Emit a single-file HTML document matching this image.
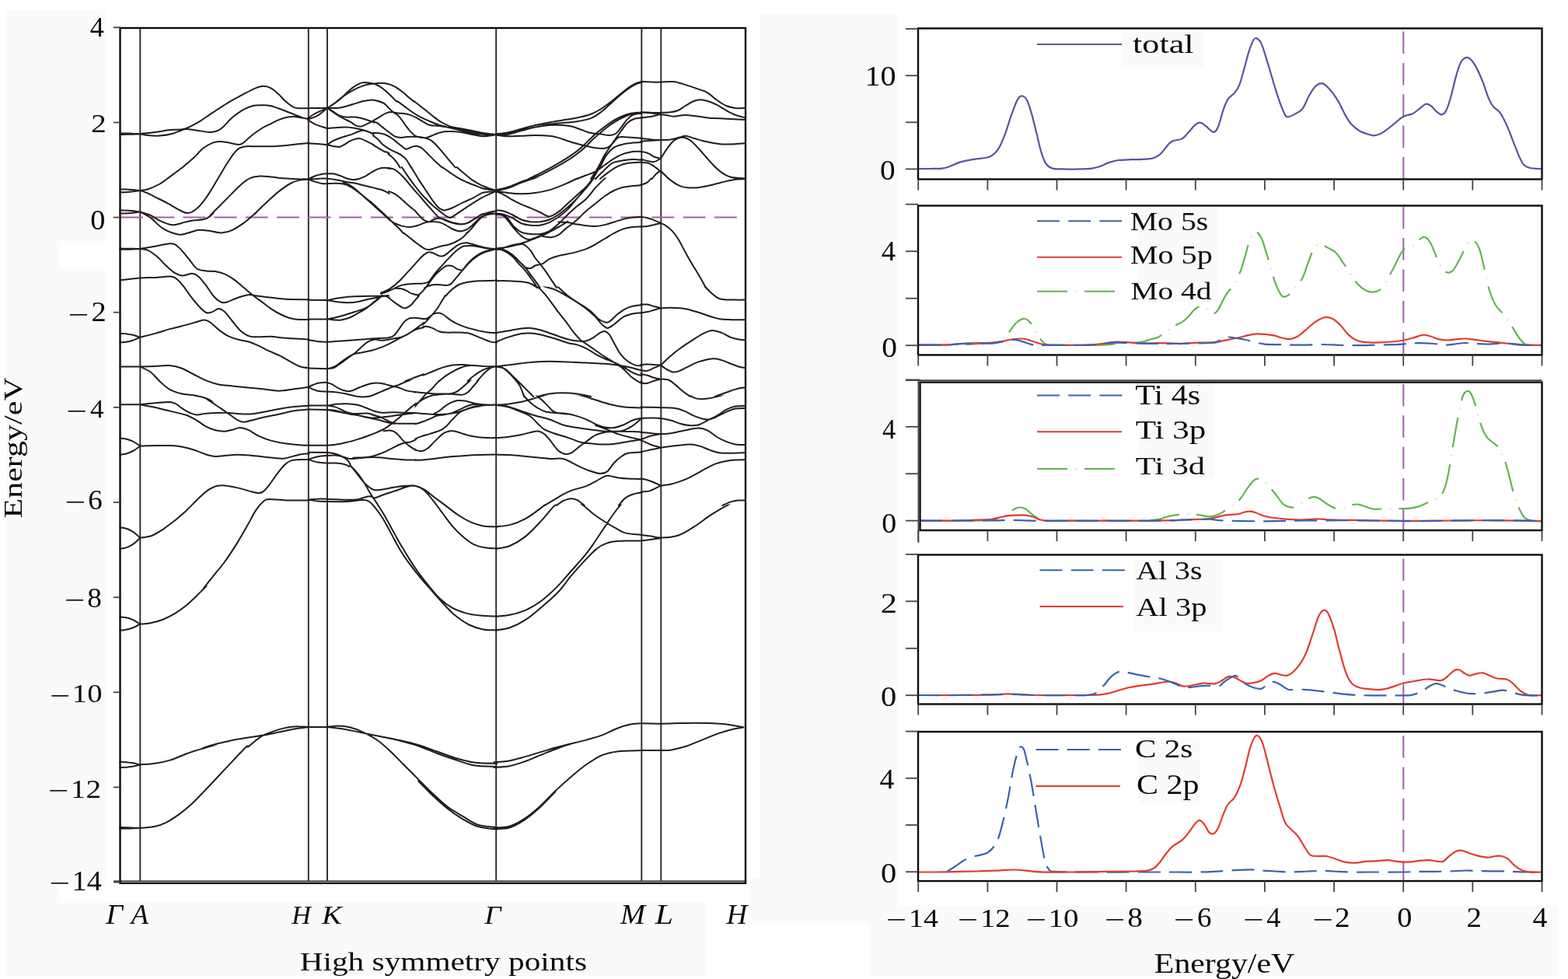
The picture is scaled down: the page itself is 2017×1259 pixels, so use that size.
<!DOCTYPE html>
<html><head><meta charset="utf-8"><style>
html,body{margin:0;padding:0;background:#ffffff;width:2017px;height:1259px;overflow:hidden;}
svg{display:block;}
.t{font-family:'Liberation Serif', 'DejaVu Serif', serif;font-size:34px;fill:#0d0a0a;}
.it{font-style:italic;}
</style></head><body>
<svg width="2017" height="1259" viewBox="0 0 2017 1259">
<rect x="0" y="0" width="2017" height="1259" fill="#ffffff"/>
<g fill="#fcf9fa">
<rect x="9" y="12" width="126" height="1243"/>
<rect x="9" y="1160" width="898" height="95"/>
<rect x="977" y="18" width="177" height="1147"/>
<rect x="966" y="1130" width="188" height="58"/>
<rect x="1120" y="1164.5" width="885" height="91"/>
<rect x="1443" y="41" width="106" height="46"/>
<rect x="1463" y="268" width="104" height="121"/>
<rect x="1465" y="492" width="96" height="123"/>
<rect x="1460" y="720" width="111" height="92"/>
<rect x="1465" y="948" width="78" height="85"/>
</g>
<g fill="#ffffff">
<rect x="76" y="310" width="59" height="36"/>
<rect x="76" y="1140" width="59" height="21"/>
</g>
<line x1="180.3" y1="36.0" x2="180.3" y2="1133" stroke="#2e2626" stroke-width="1.9"/>
<line x1="396.8" y1="36.0" x2="396.8" y2="1133" stroke="#2e2626" stroke-width="1.9"/>
<line x1="421.0" y1="36.0" x2="421.0" y2="1133" stroke="#2e2626" stroke-width="1.9"/>
<line x1="638.2" y1="36.0" x2="638.2" y2="1133" stroke="#2e2626" stroke-width="1.9"/>
<line x1="825.3" y1="36.0" x2="825.3" y2="1133" stroke="#2e2626" stroke-width="1.9"/>
<line x1="850.3" y1="36.0" x2="850.3" y2="1133" stroke="#2e2626" stroke-width="1.9"/>
<line x1="155" y1="279.6" x2="959.0" y2="279.6" stroke="#a45cb0" stroke-width="2" stroke-dasharray="29 11.2"/>
<defs><clipPath id="c0"><rect x="148.5" y="18.5" width="250.0" height="249.0"/><rect x="198.5" y="264.5" width="200.0" height="12.0"/></clipPath><clipPath id="c1"><rect x="148.5" y="264.5" width="53.0" height="252.0"/><rect x="198.5" y="273.5" width="200.0" height="243.0"/></clipPath><clipPath id="c2"><rect x="148.5" y="513.5" width="250.0" height="243.0"/></clipPath><clipPath id="c3"><rect x="148.5" y="753.5" width="250.0" height="208.0"/></clipPath><clipPath id="c4"><rect x="148.5" y="958.5" width="250.0" height="183.0"/></clipPath><clipPath id="c5"><rect x="388.5" y="18.5" width="148.0" height="113.0"/><rect x="388.5" y="128.5" width="93.0" height="68.0"/></clipPath><clipPath id="c6"><rect x="388.5" y="193.5" width="113.0" height="108.0"/></clipPath><clipPath id="c7"><rect x="533.5" y="18.5" width="106.5" height="113.0"/><rect x="478.5" y="128.5" width="161.5" height="68.0"/><rect x="498.5" y="193.5" width="141.5" height="23.0"/></clipPath><clipPath id="c8"><rect x="498.5" y="213.5" width="141.5" height="88.0"/></clipPath><clipPath id="c9"><rect x="395.5" y="298.5" width="244.5" height="83.0"/></clipPath><clipPath id="c10"><rect x="395.5" y="378.5" width="151.0" height="113.0"/></clipPath><clipPath id="c11"><rect x="543.5" y="378.5" width="96.5" height="113.0"/></clipPath><clipPath id="c12"><rect x="395.5" y="488.5" width="141.0" height="113.0"/></clipPath><clipPath id="c13"><rect x="533.5" y="488.5" width="106.5" height="113.0"/></clipPath><clipPath id="c14"><rect x="395.5" y="598.5" width="244.5" height="248.0"/></clipPath><clipPath id="c15"><rect x="395.5" y="843.5" width="244.5" height="298.0"/></clipPath><clipPath id="c16"><rect x="634.5" y="28.5" width="192.0" height="203.0"/></clipPath><clipPath id="c17"><rect x="823.5" y="28.5" width="136.0" height="203.0"/></clipPath><clipPath id="c18"><rect x="634.5" y="228.5" width="192.0" height="143.0"/></clipPath><clipPath id="c19"><rect x="823.5" y="228.5" width="136.0" height="143.0"/></clipPath><clipPath id="c20"><rect x="634.5" y="368.5" width="192.0" height="143.0"/></clipPath><clipPath id="c21"><rect x="823.5" y="368.5" width="136.0" height="143.0"/></clipPath><clipPath id="c22"><rect x="634.5" y="508.5" width="192.0" height="143.0"/></clipPath><clipPath id="c23"><rect x="823.5" y="508.5" width="136.0" height="143.0"/></clipPath><clipPath id="c24"><rect x="634.5" y="648.5" width="325.0" height="253.0"/></clipPath><clipPath id="c25"><rect x="634.5" y="898.5" width="325.0" height="243.0"/></clipPath></defs>
<g fill="none" stroke="#231c1c" stroke-width="2" stroke-linecap="round">
<path clip-path="url(#c0)" d="M154.4,171.4C155.2,171.4 157.8,171.4 159.5,171.4C161.3,171.4 163.0,171.5 164.7,171.5C166.4,171.6 168.1,171.6 169.9,171.7C171.6,171.7 173.3,171.8 175.0,171.9C176.7,172.0 179.3,172.1 180.2,172.2M154.4,173.0C155.2,173.0 157.8,173.0 159.5,172.9C161.3,172.9 163.0,172.9 164.7,172.8C166.4,172.8 168.1,172.7 169.9,172.7C171.6,172.6 173.3,172.5 175.0,172.5C176.7,172.4 179.3,172.2 180.2,172.2M154.4,243.5C155.2,243.5 157.8,243.5 159.5,243.5C161.3,243.6 163.0,243.6 164.7,243.7C166.4,243.8 168.1,243.9 169.9,244.0C171.6,244.1 173.3,244.2 175.0,244.4C176.7,244.5 179.3,244.8 180.2,244.9M154.4,247.4C155.2,247.4 157.8,247.4 159.5,247.3C161.3,247.3 163.0,247.2 164.7,247.0C166.4,246.9 168.1,246.7 169.9,246.5C171.6,246.3 173.3,246.1 175.0,245.8C176.7,245.5 179.3,245.0 180.2,244.9M180.2,172.2C183.4,171.8 193.1,170.9 199.6,170.0C206.2,169.1 213.2,167.7 219.5,167.0C225.8,166.3 231.4,167.5 237.4,165.8C243.3,164.2 249.3,160.5 255.2,157.1C261.2,153.6 266.8,149.3 273.1,145.2C279.4,141.0 286.4,136.2 293.0,132.3C299.6,128.3 306.9,124.5 312.8,121.3C318.8,118.2 324.4,115.2 328.7,113.4C333.0,111.6 335.3,110.8 338.6,110.8C342.0,110.8 345.3,111.6 348.6,113.4C351.9,115.2 355.2,118.4 358.5,121.3C361.8,124.3 365.1,128.5 368.4,131.3C371.7,134.1 375.4,136.9 378.4,138.2C381.3,139.5 382.7,139.0 386.3,139.2C389.9,139.4 397.7,139.2 400.0,139.2M180.2,172.2C181.8,172.5 185.5,173.6 189.7,174.0C194.0,174.4 200.3,174.9 205.6,174.6C210.9,174.2 216.2,173.4 221.5,172.0C226.8,170.6 233.4,167.1 237.4,166.2C241.3,165.3 242.3,166.3 245.3,166.6C248.3,166.9 251.3,167.4 255.2,168.0C259.2,168.6 265.5,169.8 269.1,170.0C272.8,170.2 274.4,169.8 277.1,169.0C279.7,168.2 281.4,168.0 285.0,165.0C288.7,162.0 294.3,155.1 298.9,151.1C303.6,147.2 308.5,143.7 312.8,141.2C317.1,138.7 320.8,137.2 324.7,136.2C328.7,135.2 332.7,135.2 336.7,135.2C340.6,135.2 343.3,134.9 348.6,136.2C353.9,137.6 361.8,140.7 368.4,143.2C375.0,145.7 383.6,149.5 388.3,151.1C393.0,152.8 394.9,152.6 396.8,153.1C398.8,153.6 399.5,153.9 400.0,154.1M180.2,244.9C181.8,244.6 185.5,244.9 189.7,243.5C194.0,242.1 200.6,239.3 205.6,236.5C210.6,233.7 214.5,230.2 219.5,226.6C224.5,222.9 230.4,218.6 235.4,214.7C240.3,210.7 245.0,206.7 249.3,202.8C253.6,198.8 257.2,194.0 261.2,190.8C265.2,187.7 269.5,185.4 273.1,183.9C276.8,182.4 279.7,182.0 283.0,181.9C286.4,181.8 289.0,182.6 293.0,183.3C296.9,184.0 303.6,185.8 306.9,185.9C310.2,186.0 310.2,185.7 312.8,183.9C315.5,182.1 318.8,178.1 322.8,175.0C326.7,171.8 332.4,167.7 336.7,165.0C341.0,162.4 344.9,160.9 348.6,159.1C352.2,157.3 354.9,155.5 358.5,154.1C362.1,152.7 367.1,151.2 370.4,150.5C373.7,149.9 375.4,150.0 378.4,150.1C381.3,150.3 385.2,151.0 388.3,151.5C391.4,152.0 395.4,152.8 396.8,153.1M180.2,244.9C181.8,245.4 186.1,246.8 189.7,248.4C193.3,250.0 197.3,252.2 201.6,254.4C205.9,256.5 210.9,258.9 215.5,261.3C220.2,263.8 225.5,267.2 229.4,269.3C233.4,271.4 236.4,273.3 239.4,273.8C242.3,274.3 244.3,273.8 247.3,272.3C250.3,270.7 253.6,268.3 257.2,264.3C260.9,260.3 265.2,254.4 269.1,248.4C273.1,242.5 277.1,235.2 281.1,228.6C285.0,222.0 289.0,214.7 293.0,208.7C296.9,202.8 301.2,196.2 304.9,192.8C308.5,189.5 310.8,189.2 314.8,188.5C318.8,187.7 323.1,188.3 328.7,188.3C334.3,188.2 342.0,188.5 348.6,188.3C355.2,188.0 360.4,187.6 368.4,186.9C376.5,186.1 391.6,184.4 396.8,183.9C402.1,183.4 399.5,183.9 400.0,183.9M267.2,280.0C269.1,278.0 274.8,272.6 279.1,268.3C283.4,264.0 288.0,259.3 293.0,254.4C297.9,249.4 304.2,242.6 308.9,238.5C313.5,234.4 316.5,231.5 320.8,229.6C325.1,227.6 330.0,226.9 334.7,226.6C339.3,226.3 342.9,227.1 348.6,227.6C354.2,228.1 361.8,229.1 368.4,229.6C375.0,230.1 383.0,230.4 388.3,230.6C393.5,230.7 398.0,230.6 400.0,230.6M322.8,280.0C325.4,277.4 332.7,269.9 338.6,264.3C344.6,258.7 352.5,251.2 358.5,246.4C364.5,241.6 369.8,238.0 374.4,235.5C379.0,233.0 382.6,232.4 386.3,231.5C390.0,230.7 395.1,230.7 396.8,230.6"/>
<path clip-path="url(#c1)" d="M154.4,270.4C155.2,270.4 157.8,270.4 159.5,270.5C161.3,270.5 163.0,270.6 164.7,270.7C166.4,270.8 168.1,271.0 169.9,271.1C171.6,271.3 173.3,271.5 175.0,271.7C176.7,271.9 179.3,272.3 180.2,272.4M154.4,274.6C155.2,274.6 157.8,274.5 159.5,274.5C161.3,274.4 163.0,274.3 164.7,274.2C166.4,274.1 168.1,274.0 169.9,273.8C171.6,273.6 173.3,273.4 175.0,273.2C176.7,272.9 179.3,272.5 180.2,272.4M180.2,272.4C182.4,273.1 189.4,275.0 193.7,276.9C197.9,278.9 201.0,281.8 205.6,283.9C210.2,286.0 216.9,288.8 221.5,289.3C226.1,289.8 229.4,287.8 233.4,286.9C237.4,286.0 240.7,284.7 245.3,283.9C249.9,283.1 257.2,283.1 261.2,282.3C265.2,281.5 266.5,280.8 269.1,278.9C271.8,277.0 275.6,272.5 277.1,271.0C278.6,269.5 277.9,270.2 278.1,270.0M180.2,272.4C182.4,273.6 188.8,276.4 193.7,279.9C198.6,283.5 203.6,290.3 209.6,293.8C215.5,297.4 224.1,300.4 229.4,301.4C234.7,302.4 237.0,300.7 241.3,299.8C245.6,298.9 250.6,296.3 255.2,295.8C259.9,295.3 264.2,296.2 269.1,296.8C274.1,297.4 280.1,299.6 285.0,299.4C290.0,299.2 294.0,298.1 298.9,295.8C303.9,293.6 309.8,289.5 314.8,285.9C319.8,282.2 325.4,276.6 328.7,274.0C332.0,271.3 333.7,270.7 334.7,270.0M154.4,319.6C155.2,319.6 157.8,319.6 159.5,319.7C161.3,319.7 163.0,319.7 164.7,319.7C166.4,319.7 168.1,319.8 169.9,319.8C171.6,319.8 173.3,319.9 175.0,319.9C176.7,319.9 179.3,320.0 180.2,320.0M154.4,320.8C155.2,320.8 157.8,320.8 159.5,320.8C161.3,320.8 163.0,320.7 164.7,320.7C166.4,320.7 168.1,320.6 169.9,320.5C171.6,320.5 173.3,320.4 175.0,320.3C176.7,320.2 179.3,320.1 180.2,320.0M180.2,320.0C183.4,319.5 193.3,317.8 199.6,316.7C206.0,315.5 214.2,313.6 218.5,313.3C222.8,313.0 223.0,313.3 225.5,314.7C227.9,316.1 230.4,318.5 233.4,321.6C236.4,324.8 240.0,329.6 243.3,333.5C246.6,337.5 249.6,343.0 253.3,345.5C256.9,347.9 261.2,347.8 265.2,348.4C269.1,349.0 273.1,348.4 277.1,349.0C281.1,349.7 285.0,350.7 289.0,352.4C293.0,354.1 296.9,356.5 300.9,359.4C304.9,362.2 308.9,366.0 312.8,369.3C316.8,372.6 320.8,376.1 324.7,379.2C328.7,382.4 332.7,385.2 336.7,388.1C340.6,391.1 344.6,394.4 348.6,397.1C352.5,399.7 356.5,402.0 360.5,404.0C364.5,406.0 368.4,407.8 372.4,409.0C376.4,410.2 379.7,410.7 384.3,411.0C388.9,411.3 397.4,411.0 400.0,411.0M180.2,320.0C181.8,320.3 186.1,320.0 189.7,321.6C193.3,323.2 197.7,326.3 201.6,329.6C205.6,332.9 209.6,337.8 213.5,341.5C217.5,345.1 221.8,349.3 225.5,351.4C229.1,353.6 231.7,354.3 235.4,354.4C239.0,354.5 244.0,351.6 247.3,351.8C250.6,352.0 252.3,352.8 255.2,355.4C258.2,358.0 261.9,363.0 265.2,367.3C268.5,371.6 271.8,377.6 275.1,381.2C278.4,384.8 282.0,387.6 285.0,388.7C288.0,389.9 289.7,389.1 293.0,388.1C296.3,387.2 300.6,384.7 304.9,383.2C309.2,381.7 314.8,379.7 318.8,379.2C322.8,378.7 324.4,379.7 328.7,380.2C333.0,380.7 338.0,381.4 344.6,382.2C351.2,383.0 359.2,384.3 368.4,384.8C377.7,385.3 394.7,385.1 400.0,385.2M154.4,360.3C158.7,359.9 172.6,357.9 180.2,357.4C187.7,356.8 193.4,357.3 199.6,357.0C205.9,356.6 213.2,355.3 217.5,355.4C221.8,355.5 222.5,355.4 225.5,357.4C228.4,359.4 232.1,363.3 235.4,367.3C238.7,371.3 242.0,376.9 245.3,381.2C248.6,385.5 251.9,389.6 255.2,393.1C258.6,396.6 262.2,400.7 265.2,402.0C268.1,403.4 270.5,401.9 273.1,401.1C275.8,400.2 278.4,397.1 281.1,397.1C283.7,397.1 286.0,398.4 289.0,401.1C292.0,403.7 295.6,409.0 298.9,413.0C302.2,416.9 305.2,421.6 308.9,424.9C312.5,428.1 316.8,431.0 320.8,432.4C324.7,433.8 328.1,433.2 332.7,433.2C337.3,433.3 342.6,432.6 348.6,432.8C354.5,433.1 359.9,434.2 368.4,434.8C377.0,435.5 394.7,436.5 400.0,436.8M154.4,428.9C155.2,428.9 157.8,428.9 159.5,429.1C161.3,429.2 163.0,429.4 164.7,429.7C166.4,429.9 168.1,430.2 169.9,430.6C171.6,431.0 173.3,431.5 175.0,432.0C176.7,432.6 179.3,433.5 180.2,433.8M154.4,440.4C155.2,440.3 157.8,440.3 159.5,440.1C161.3,439.9 163.0,439.7 164.7,439.3C166.4,439.0 168.1,438.5 169.9,438.0C171.6,437.5 173.3,436.9 175.0,436.2C176.7,435.5 179.3,434.2 180.2,433.8M180.2,433.8C183.4,433.0 193.1,430.7 199.6,428.9C206.2,427.0 212.9,424.7 219.5,422.9C226.1,421.1 233.7,419.4 239.4,417.9C245.0,416.4 249.3,415.1 253.3,414.0C257.2,412.9 260.2,411.2 263.2,411.4C266.2,411.5 268.1,412.9 271.1,415.0C274.1,417.0 277.4,421.1 281.1,423.9C284.7,426.7 288.7,429.7 293.0,431.8C297.3,434.0 302.2,435.5 306.9,436.8C311.5,438.1 316.5,438.5 320.8,439.8C325.1,441.1 328.4,442.8 332.7,444.7C337.0,446.7 342.0,449.5 346.6,451.7C351.2,453.8 355.9,455.3 360.5,457.6C365.1,460.0 370.1,463.3 374.4,465.6C378.7,467.9 382.0,470.2 386.3,471.5C390.6,472.9 397.7,473.2 400.0,473.5M154.4,471.5C155.2,471.5 157.8,471.5 159.5,471.5C161.3,471.5 163.0,471.5 164.7,471.5C166.4,471.5 168.1,471.5 169.9,471.5C171.6,471.5 173.3,471.5 175.0,471.5C176.7,471.5 179.3,471.5 180.2,471.5M180.2,471.5C183.4,471.4 193.1,471.2 199.6,471.0C206.2,470.7 213.9,469.7 219.5,470.2C225.1,470.6 228.4,471.6 233.4,473.5C238.4,475.4 244.0,478.8 249.3,481.5C254.6,484.1 259.9,487.3 265.2,489.4C270.5,491.6 275.4,493.2 281.1,494.4C286.7,495.5 292.6,495.7 298.9,496.4C305.2,497.0 312.2,497.7 318.8,498.4C325.4,499.0 332.0,499.6 338.6,500.3C345.3,501.1 351.9,502.7 358.5,502.7C365.1,502.7 371.4,501.2 378.4,500.3C385.3,499.4 396.4,497.9 400.0,497.4M180.2,471.5C182.4,472.7 189.4,475.4 193.7,478.5C197.9,481.6 201.6,486.8 205.6,490.4C209.6,494.1 212.9,497.7 217.5,500.3C222.1,503.0 228.1,505.0 233.4,506.3C238.7,507.6 244.0,507.3 249.3,508.3C254.6,509.3 260.2,510.3 265.2,512.3C270.1,514.2 276.8,518.7 279.1,520.0M154.4,519.8C158.7,519.8 172.6,520.1 180.2,519.8C187.7,519.5 193.4,518.6 199.6,518.2C205.9,517.8 213.2,516.9 217.5,517.2C221.8,517.5 224.1,519.5 225.5,520.0"/>
<path clip-path="url(#c2)" d="M154.4,520.3C155.2,520.3 157.8,520.3 159.5,520.3C161.3,520.3 163.0,520.3 164.7,520.3C166.4,520.3 168.1,520.3 169.9,520.3C171.6,520.3 173.3,520.3 175.0,520.3C176.7,520.3 179.3,520.3 180.2,520.3M180.2,520.3C183.4,520.0 193.4,518.9 199.6,518.3C205.9,517.8 213.2,516.9 217.5,516.9C221.8,517.0 222.5,517.4 225.5,518.9C228.4,520.4 232.1,523.8 235.4,525.9C238.7,528.0 242.3,530.2 245.3,531.4C248.3,532.7 249.9,533.4 253.3,533.4C256.6,533.5 259.2,532.3 265.2,531.8C271.1,531.4 281.7,530.8 289.0,530.8C296.3,530.9 302.9,532.0 308.9,532.2C314.8,532.5 319.8,532.6 324.7,532.2C329.7,531.8 333.0,530.9 338.6,529.9C344.3,528.8 351.9,527.0 358.5,525.9C365.1,524.7 371.4,523.6 378.4,522.9C385.3,522.2 396.4,521.7 400.0,521.5M180.2,520.3C183.4,520.9 193.1,522.5 199.6,523.9C206.2,525.3 212.9,527.2 219.5,528.9C226.1,530.5 233.7,531.8 239.4,533.8C245.0,535.8 249.0,538.3 253.3,540.8C257.6,543.3 261.2,546.6 265.2,548.7C269.1,550.8 273.1,552.3 277.1,553.3C281.1,554.3 285.4,554.8 289.0,554.7C292.6,554.6 295.6,553.5 298.9,552.7C302.2,551.9 305.5,550.1 308.9,550.1C312.2,550.1 314.8,550.9 318.8,552.7C322.8,554.4 327.7,558.3 332.7,560.6C337.6,563.0 342.6,564.9 348.6,566.6C354.5,568.2 361.8,569.6 368.4,570.6C375.0,571.6 383.0,572.2 388.3,572.5C393.5,572.9 398.0,572.5 400.0,572.5M261.2,510.0C263.2,511.3 269.1,515.3 273.1,517.9C277.1,520.6 281.4,523.4 285.0,525.9C288.7,528.4 291.6,530.5 295.0,532.8C298.3,535.2 301.9,538.1 304.9,539.8C307.9,541.4 309.8,542.6 312.8,542.8C315.8,542.9 318.5,541.8 322.8,540.8C327.1,539.8 332.7,538.1 338.6,536.8C344.6,535.5 351.9,534.3 358.5,532.8C365.1,531.4 371.4,529.4 378.4,528.3C385.3,527.2 396.4,526.6 400.0,526.3M154.4,563.6C155.2,563.7 157.8,563.7 159.5,564.0C161.3,564.3 163.0,564.7 164.7,565.2C166.4,565.7 168.1,566.4 169.9,567.2C171.6,568.0 173.3,568.9 175.0,570.0C176.7,571.0 179.3,572.9 180.2,573.5M154.4,584.5C155.2,584.4 157.8,584.3 159.5,584.0C161.3,583.7 163.0,583.3 164.7,582.7C166.4,582.1 168.1,581.4 169.9,580.5C171.6,579.7 173.3,578.6 175.0,577.5C176.7,576.3 179.3,574.2 180.2,573.5M180.2,573.5C183.4,573.5 193.1,573.2 199.6,573.1C206.2,573.1 213.9,572.9 219.5,573.1C225.1,573.4 228.4,573.6 233.4,574.5C238.4,575.4 244.0,576.9 249.3,578.5C254.6,580.2 260.5,583.0 265.2,584.5C269.8,585.9 273.1,586.8 277.1,587.0C281.1,587.3 284.4,586.4 289.0,586.1C293.6,585.7 299.6,584.8 304.9,584.7C310.2,584.6 315.1,585.0 320.8,585.5C326.4,585.9 332.4,586.8 338.6,587.4C344.9,588.1 353.9,589.1 358.5,589.4C363.1,589.8 363.1,589.9 366.4,589.4C369.8,588.9 374.7,587.4 378.4,586.4C382.0,585.5 384.7,584.4 388.3,583.9C391.9,583.3 398.0,583.2 400.0,583.1M400.0,591.0C398.0,591.0 392.6,590.8 388.3,591.0C384.0,591.2 378.0,591.3 374.4,592.4C370.7,593.5 369.4,594.6 366.4,597.4C363.5,600.2 359.8,605.0 356.5,609.3C353.2,613.6 349.6,619.4 346.6,623.2C343.6,627.0 341.0,630.3 338.6,632.1C336.3,633.9 335.3,634.1 332.7,634.1C330.0,634.1 326.7,633.1 322.8,632.1C318.8,631.1 313.5,629.3 308.9,628.1C304.2,627.0 298.9,625.8 295.0,625.2C291.0,624.5 288.3,624.0 285.0,624.2C281.7,624.3 278.4,624.8 275.1,626.2C271.8,627.5 268.8,629.3 265.2,632.1C261.5,634.9 257.6,638.9 253.3,643.0C249.0,647.2 244.0,652.6 239.4,656.9C234.7,661.2 230.4,664.9 225.5,668.9C220.5,672.8 214.5,677.5 209.6,680.8C204.6,684.1 200.6,686.9 195.7,688.7C190.8,690.5 182.8,691.2 180.2,691.7M154.4,678.4C155.2,678.5 157.8,678.6 159.5,678.9C161.3,679.3 163.0,679.8 164.7,680.5C166.4,681.2 168.1,682.1 169.9,683.2C171.6,684.2 173.3,685.5 175.0,686.9C176.7,688.3 179.3,690.9 180.2,691.7M154.4,705.6C155.2,705.5 157.8,705.4 159.5,705.0C161.3,704.7 163.0,704.1 164.7,703.4C166.4,702.6 168.1,701.7 169.9,700.6C171.6,699.5 173.3,698.2 175.0,696.7C176.7,695.2 179.3,692.5 180.2,691.7M259.2,760.0C261.5,757.1 268.1,748.6 273.1,742.3C278.1,736.1 283.7,729.8 289.0,722.5C294.3,715.2 299.9,706.6 304.9,698.6C309.8,690.7 314.8,681.8 318.8,674.8C322.8,667.9 325.4,661.9 328.7,656.9C332.0,652.0 335.7,647.5 338.6,645.0C341.6,642.5 341.6,642.3 346.6,642.0C351.5,641.8 359.5,643.2 368.4,643.4C377.3,643.7 394.7,643.4 400.0,643.4"/>
<path clip-path="url(#c3)" d="M154.4,793.3C155.2,793.4 157.8,793.4 159.5,793.7C161.3,793.9 163.0,794.3 164.7,794.8C166.4,795.3 168.1,795.9 169.9,796.6C171.6,797.4 173.3,798.3 175.0,799.3C176.7,800.3 179.3,802.1 180.2,802.6M154.4,810.6C155.2,810.5 157.8,810.5 159.5,810.2C161.3,810.0 163.0,809.7 164.7,809.3C166.4,808.9 168.1,808.3 169.9,807.7C171.6,807.1 173.3,806.3 175.0,805.5C176.7,804.6 179.3,803.1 180.2,802.6M180.2,802.6C182.4,802.4 188.8,802.2 193.7,801.2C198.6,800.2 204.3,798.7 209.6,796.7C214.9,794.6 220.5,791.7 225.5,788.7C230.4,785.7 234.7,782.6 239.4,778.8C244.0,775.0 249.3,769.7 253.3,765.9C257.2,762.1 260.5,758.6 263.2,756.0C265.8,753.3 268.1,751.0 269.1,750.0M154.4,979.9C155.2,980.0 157.8,980.0 159.5,980.1C161.3,980.2 163.0,980.3 164.7,980.5C166.4,980.7 168.1,980.9 169.9,981.2C171.6,981.4 173.3,981.7 175.0,982.1C176.7,982.5 179.3,983.1 180.2,983.3M154.4,986.7C155.2,986.7 157.8,986.7 159.5,986.6C161.3,986.5 163.0,986.3 164.7,986.2C166.4,986.0 168.1,985.8 169.9,985.5C171.6,985.2 173.3,984.9 175.0,984.5C176.7,984.2 179.3,983.5 180.2,983.3M180.2,983.3C183.4,983.0 193.1,982.5 199.6,981.3C206.2,980.2 212.9,978.4 219.5,976.4C226.1,974.4 232.7,971.7 239.4,969.4C246.0,967.1 252.6,964.6 259.2,962.5C265.8,960.3 272.5,958.2 279.1,956.5C285.7,954.8 292.3,953.5 298.9,952.1C305.5,950.8 312.2,949.7 318.8,948.6C325.4,947.5 332.0,946.8 338.6,945.6C345.3,944.4 351.9,942.9 358.5,941.6C365.1,940.3 371.4,938.8 378.4,937.6C385.3,936.5 396.4,935.2 400.0,934.7M279.1,1000.0C281.4,997.7 288.0,991.2 293.0,986.3C297.9,981.4 303.9,975.2 308.9,970.4C313.8,965.6 318.1,961.5 322.8,957.5C327.4,953.5 332.4,949.2 336.7,946.6C341.0,943.9 344.6,943.1 348.6,941.6C352.5,940.1 356.2,938.8 360.5,937.6C364.8,936.5 370.4,935.2 374.4,934.7C378.4,934.1 380.0,934.2 384.3,934.3C388.6,934.3 397.4,934.9 400.0,935.1"/>
<path clip-path="url(#c4)" d="M154.4,979.8C155.2,979.8 157.8,979.9 159.5,980.0C161.3,980.1 163.0,980.2 164.7,980.4C166.4,980.6 168.1,980.8 169.9,981.1C171.6,981.4 173.3,981.7 175.0,982.1C176.7,982.5 179.3,983.2 180.2,983.4M154.4,987.0C155.2,986.9 157.8,986.9 159.5,986.8C161.3,986.7 163.0,986.6 164.7,986.4C166.4,986.2 168.1,986.0 169.9,985.7C171.6,985.4 173.3,985.1 175.0,984.7C176.7,984.3 179.3,983.6 180.2,983.4M180.2,983.4C183.4,983.1 193.1,982.8 199.6,981.8C206.2,980.8 212.9,979.5 219.5,977.4C226.1,975.4 232.7,971.9 239.4,969.5C246.0,967.1 252.6,965.1 259.2,963.1C265.8,961.2 272.5,959.2 279.1,957.6C285.7,955.9 292.3,954.5 298.9,953.2C305.5,951.9 312.2,950.9 318.8,949.6C325.4,948.4 332.0,947.2 338.6,945.7C345.3,944.2 351.9,942.2 358.5,940.7C365.1,939.2 371.4,937.8 378.4,936.7C385.3,935.6 396.4,934.6 400.0,934.2M154.4,1064.0C158.7,1064.2 172.6,1065.0 180.2,1064.8C187.7,1064.6 194.1,1064.0 199.6,1062.8C205.2,1061.7 208.6,1060.3 213.5,1057.9C218.5,1055.4 224.1,1051.7 229.4,1047.9C234.7,1044.1 240.0,1039.8 245.3,1035.0C250.6,1030.2 255.9,1024.6 261.2,1019.1C266.5,1013.7 271.8,1007.9 277.1,1002.3C282.4,996.6 287.7,991.0 293.0,985.4C298.3,979.8 303.9,973.6 308.9,968.5C313.8,963.4 318.1,958.6 322.8,954.6C327.4,950.6 332.4,947.2 336.7,944.7C341.0,942.2 344.6,941.2 348.6,939.7C352.5,938.2 356.2,936.7 360.5,935.7C364.8,934.7 370.4,934.0 374.4,933.8C378.4,933.5 380.0,933.9 384.3,934.2C388.6,934.4 397.4,935.1 400.0,935.3M154.4,1065.6C155.2,1065.6 157.8,1065.6 159.5,1065.6C161.3,1065.6 163.0,1065.5 164.7,1065.5C166.4,1065.4 168.1,1065.4 169.9,1065.3C171.6,1065.3 173.3,1065.2 175.0,1065.1C176.7,1065.0 179.3,1064.9 180.2,1064.8"/>
<path clip-path="url(#c5)" d="M396.3,138.9C398.9,138.9 407.5,139.0 411.7,138.9C415.8,138.9 419.6,138.6 421.1,138.6M396.3,151.7C398.0,150.7 402.0,147.7 406.1,145.6C410.3,143.5 418.6,140.0 421.1,138.9M396.3,153.4C398.3,152.6 404.2,151.3 408.3,148.9C412.5,146.5 419.0,140.6 421.1,138.9M396.3,154.5C398.0,155.4 402.0,158.3 406.1,160.1C410.3,161.8 418.6,164.2 421.1,165.1M396.3,184.5C398.3,184.6 404.2,184.8 408.3,185.1C412.5,185.4 419.0,186.0 421.1,186.2M396.3,229.6C398.0,228.8 402.0,226.1 406.1,225.1C410.3,224.1 418.6,223.7 421.1,223.4M421.1,138.9C422.7,137.9 427.2,135.4 430.6,132.8C434.0,130.2 438.0,126.6 441.7,123.4C445.4,120.1 449.5,115.9 452.8,113.4C456.2,110.8 459.1,109.0 461.7,107.8C464.3,106.6 466.2,106.3 468.4,106.1C470.6,105.9 472.7,106.3 475.1,106.7C477.5,107.1 480.1,107.2 482.8,108.3C485.6,109.5 488.8,111.2 491.7,113.4C494.7,115.5 497.7,118.4 500.6,121.1C503.6,123.9 506.6,127.1 509.5,130.0C512.5,133.0 515.5,136.0 518.4,138.9C521.4,141.9 524.6,145.4 527.3,147.8C530.1,150.2 533.7,152.5 535.0,153.4M421.1,138.9C423.1,137.6 429.0,133.9 432.8,131.1C436.6,128.4 440.2,124.8 443.9,122.2C447.6,119.7 451.3,117.5 455.0,115.6C458.8,113.6 462.8,111.8 466.2,110.6C469.5,109.4 472.5,108.8 475.1,108.3C477.7,107.8 479.3,107.8 481.7,107.6C484.1,107.3 486.7,106.6 489.5,106.7C492.3,106.7 495.5,107.1 498.4,107.8C501.4,108.5 504.2,109.5 507.3,111.1C510.5,112.8 514.2,115.4 517.3,117.8C520.5,120.2 523.3,123.1 526.2,125.6C529.2,128.1 533.5,131.6 535.0,132.8M421.1,138.9C423.3,138.9 429.9,139.3 433.9,138.9C437.9,138.6 441.3,137.6 445.0,136.7C448.7,135.8 452.5,134.5 456.2,133.4C459.9,132.3 463.6,130.9 467.3,130.0C471.0,129.2 475.2,128.4 478.4,128.4C481.6,128.4 483.8,129.0 486.2,130.0C488.6,131.1 491.0,133.2 492.9,134.5C494.7,135.8 496.6,137.3 497.3,137.8M421.1,138.9C422.3,139.7 425.7,141.7 428.4,143.4C431.0,145.0 434.5,147.7 437.3,148.9C440.0,150.1 441.9,150.3 445.0,150.6C448.2,150.9 453.0,150.4 456.2,150.6C459.3,150.8 461.2,151.1 463.9,151.7C466.7,152.4 469.9,153.5 472.8,154.5C475.8,155.5 479.0,156.3 481.7,157.8C484.5,159.3 487.7,161.9 489.5,163.4C491.4,164.9 492.3,166.2 492.9,166.7M421.1,138.9C422.7,140.0 427.5,143.6 430.6,145.6C433.6,147.6 436.1,149.3 439.5,151.2C442.8,153.0 447.6,155.1 450.6,156.7C453.6,158.4 455.0,160.1 457.3,161.2C459.5,162.2 461.7,163.0 463.9,162.8C466.2,162.7 468.0,161.3 470.6,160.1C473.2,158.9 476.4,157.2 479.5,155.6C482.7,154.0 487.3,151.7 489.5,150.6C491.7,149.5 492.3,149.2 492.9,148.9M421.1,165.1C423.3,164.9 429.9,164.2 433.9,163.9C437.9,163.7 441.3,163.3 445.0,163.4C448.7,163.5 452.5,164.1 456.2,164.7C459.9,165.4 463.6,166.2 467.3,167.3C471.0,168.4 475.6,170.3 478.4,171.2C481.2,172.0 483.0,172.1 484.0,172.3M421.1,186.2C422.3,185.4 425.3,182.8 428.4,181.2C431.4,179.6 435.8,178.0 439.5,176.7C443.2,175.4 446.9,174.7 450.6,173.4C454.3,172.1 458.9,169.9 461.7,169.0C464.5,168.0 465.4,167.8 467.3,167.8C469.1,167.8 470.8,168.2 472.8,169.0C474.9,169.7 477.3,170.6 479.5,172.3C481.7,174.0 485.1,177.8 486.2,179.0M421.1,186.2C422.3,186.5 425.9,187.4 428.4,187.9C430.9,188.3 433.9,189.2 436.1,189.0C438.4,188.8 439.3,188.0 441.7,186.7C444.1,185.4 447.8,182.6 450.6,181.2C453.4,179.8 456.2,178.9 458.4,178.4C460.6,177.9 461.5,177.8 463.9,178.4C466.4,179.1 469.5,180.7 472.8,182.3C476.2,183.9 482.1,186.9 484.0,187.9"/>
<path clip-path="url(#c6)" d="M390.0,230.4L396.4,230.4M396.4,230.4C397.9,229.6 403.0,227.0 405.9,226.0C408.8,224.9 411.3,224.5 413.8,224.0C416.4,223.5 418.7,223.3 421.4,223.2C424.0,223.1 427.0,223.1 429.7,223.6C432.4,224.1 435.0,225.1 437.7,226.0C440.3,226.9 443.0,228.3 445.6,229.2C448.3,230.0 450.9,231.0 453.6,231.1C456.2,231.3 458.9,230.7 461.5,230.0C464.1,229.2 466.8,228.1 469.4,226.8C472.1,225.5 474.7,223.5 477.4,222.0C480.0,220.5 482.7,218.7 485.3,217.6C488.0,216.6 490.6,215.8 493.3,215.7C495.9,215.5 498.6,215.9 501.2,216.8C503.9,217.8 506.5,219.3 509.2,221.2C511.8,223.1 514.5,225.6 517.1,228.4C519.8,231.1 522.4,234.5 525.1,237.9C527.7,241.3 530.4,245.2 533.0,249.0C535.6,252.9 538.1,257.2 540.9,260.9C543.8,264.6 548.5,269.5 550.0,271.3M396.4,230.4C397.9,230.3 403.0,230.1 405.9,230.0C408.8,229.8 411.3,229.6 413.8,229.6C416.4,229.5 418.7,229.5 421.4,229.7C424.0,229.9 427.0,230.3 429.7,230.7C432.4,231.2 435.0,231.8 437.7,232.3C440.3,232.9 443.0,233.5 445.6,233.9C448.3,234.4 450.9,234.7 453.6,235.1C456.2,235.6 458.9,236.1 461.5,236.7C464.1,237.3 466.8,238.0 469.4,238.7C472.1,239.4 474.7,240.0 477.4,240.7C480.0,241.3 482.7,241.9 485.3,242.7C488.0,243.4 490.6,244.0 493.3,245.0C495.9,246.1 498.6,247.6 501.2,249.0C503.9,250.5 506.5,252.1 509.2,253.8C511.8,255.5 514.5,257.4 517.1,259.3C519.8,261.3 522.4,263.6 525.1,265.7C527.7,267.8 530.4,269.8 533.0,272.1C535.6,274.3 538.3,277.0 540.9,279.2C543.6,281.5 547.4,284.4 548.9,285.6C550.4,286.8 549.8,286.2 550.0,286.4M396.4,230.4C397.9,230.9 403.0,233.0 405.9,233.9C408.8,234.9 411.3,235.6 413.8,235.9C416.4,236.3 418.7,236.1 421.4,236.1C424.0,236.0 427.0,235.7 429.7,235.7C432.4,235.6 435.0,235.6 437.7,235.9C440.3,236.2 443.0,236.5 445.6,237.5C448.3,238.5 450.9,240.2 453.6,241.9C456.2,243.5 458.9,245.4 461.5,247.4C464.1,249.4 466.8,251.7 469.4,253.8C472.1,255.9 474.7,257.9 477.4,260.1C480.0,262.4 482.7,264.9 485.3,267.3C488.0,269.7 490.6,271.9 493.3,274.4C495.9,277.0 498.6,279.7 501.2,282.4C503.9,285.0 507.0,288.2 509.2,290.3C511.3,292.4 513.1,294.2 513.9,295.0M441.6,234.7C443.0,235.3 446.9,236.4 449.6,237.9C452.2,239.4 454.9,241.3 457.5,243.5C460.2,245.6 462.8,248.2 465.5,250.6C468.1,253.0 470.8,255.4 473.4,257.8C476.1,260.1 478.7,262.5 481.4,264.9C484.0,267.3 486.7,269.7 489.3,272.1C492.0,274.4 494.9,277.1 497.2,279.2C499.6,281.3 501.6,283.3 503.6,284.8C505.6,286.2 506.9,287.0 509.2,287.9C511.4,288.9 513.8,289.7 517.1,290.3C520.4,290.9 525.1,291.8 529.0,291.5C533.0,291.3 537.4,289.7 540.9,288.7C544.4,287.8 548.5,286.1 550.0,285.6M496.5,195.0C497.9,195.8 502.4,197.4 505.2,199.8C508.0,202.1 510.5,205.7 513.1,209.3C515.8,212.9 518.4,217.2 521.1,221.2C523.7,225.2 526.4,229.3 529.0,233.1C531.7,237.0 534.3,240.9 537.0,244.3C539.6,247.6 542.7,250.6 544.9,253.0C547.1,255.4 549.2,257.6 550.0,258.6M507.6,195.0C508.9,195.7 512.9,196.9 515.5,199.0C518.2,201.1 520.8,204.0 523.5,207.7C526.1,211.4 528.8,216.7 531.4,221.2C534.1,225.7 537.0,230.9 539.4,234.7C541.7,238.6 543.9,241.7 545.7,244.3C547.5,246.8 549.3,248.9 550.0,249.8"/>
<path clip-path="url(#c7)" d="M532.4,130.0C534.3,131.5 539.7,135.7 543.6,138.7C547.4,141.8 551.5,145.2 555.5,148.3C559.4,151.3 563.4,154.6 567.4,157.0C571.4,159.4 575.3,161.2 579.3,162.6C583.3,163.9 586.6,164.0 591.2,165.0C595.9,165.9 601.8,167.1 607.1,168.1C612.4,169.2 617.9,170.5 623.0,171.3C628.1,172.1 635.2,172.6 637.7,172.9M511.0,130.0C512.4,131.1 516.7,134.1 519.7,136.4C522.8,138.6 525.9,141.3 529.3,143.5C532.6,145.8 535.9,147.9 539.6,149.9C543.3,151.8 547.5,153.7 551.5,155.4C555.5,157.1 559.4,158.9 563.4,160.2C567.4,161.5 570.7,162.3 575.3,163.4C580.0,164.4 585.9,165.5 591.2,166.5C596.5,167.6 601.8,168.8 607.1,169.7C612.4,170.6 617.9,171.6 623.0,172.1C628.1,172.6 635.2,172.8 637.7,172.9M480.0,155.4C481.3,154.6 485.3,152.2 487.9,150.7C490.6,149.1 493.4,147.0 495.9,145.9C498.4,144.8 500.4,144.2 503.0,144.1C505.7,144.1 509.0,145.2 511.8,145.5C514.6,145.8 517.1,145.5 519.7,145.9C522.4,146.3 525.0,146.9 527.7,147.9C530.3,148.8 533.0,150.1 535.6,151.4C538.3,152.8 541.2,154.8 543.6,156.2C545.9,157.6 547.9,158.9 549.9,159.8C551.9,160.7 553.2,161.0 555.5,161.4C557.7,161.7 560.1,161.4 563.4,161.8C566.7,162.1 570.7,162.4 575.3,163.4C580.0,164.3 585.9,166.0 591.2,167.3C596.5,168.7 601.8,170.4 607.1,171.3C612.4,172.2 617.9,172.6 623.0,172.9C628.1,173.2 635.2,172.9 637.7,172.9M487.1,130.0C488.3,130.5 492.2,131.7 494.3,133.2C496.4,134.6 498.0,137.0 499.9,138.7C501.7,140.5 503.4,142.3 505.4,143.9C507.4,145.5 509.9,146.6 511.8,148.3C513.6,149.9 514.8,151.6 516.5,153.8C518.3,156.1 520.3,159.3 522.1,161.8C524.0,164.3 525.7,166.8 527.7,168.9C529.7,171.0 532.0,173.2 534.0,174.5C536.0,175.7 537.3,175.9 539.6,176.5C541.8,177.0 545.3,177.1 547.5,177.7C549.8,178.2 551.1,178.5 553.1,179.7C555.1,180.8 557.1,182.5 559.4,184.8C561.8,187.1 564.7,190.5 567.4,193.6C570.0,196.6 572.7,199.9 575.3,203.1C578.0,206.3 581.4,210.5 583.3,212.6C585.1,214.7 585.9,215.3 586.5,215.8M480.0,157.0C480.8,157.1 482.8,156.7 484.8,157.8C486.8,158.9 489.4,161.4 491.9,163.4C494.4,165.4 497.2,167.7 499.9,169.7C502.5,171.7 505.2,174.1 507.8,175.3C510.5,176.5 512.4,176.8 515.7,176.9C519.1,176.9 523.7,175.8 527.7,175.7C531.6,175.5 536.3,175.8 539.6,176.1C542.9,176.3 544.9,177.5 547.5,177.3C550.2,177.0 552.8,175.5 555.5,174.5C558.1,173.5 560.8,172.2 563.4,171.3C566.1,170.5 568.7,169.7 571.4,169.3C574.0,168.9 576.0,168.9 579.3,168.9C582.6,169.0 586.6,169.1 591.2,169.7C595.9,170.4 601.8,172.0 607.1,172.9C612.4,173.8 617.9,175.2 623.0,175.3C628.1,175.3 635.2,173.6 637.7,173.3M480.0,170.9C481.3,171.0 485.3,170.9 487.9,171.3C490.6,171.7 493.2,172.2 495.9,173.3C498.5,174.4 501.2,175.9 503.8,177.7C506.5,179.5 509.1,181.9 511.8,184.0C514.4,186.1 517.7,189.1 519.7,190.4C521.7,191.6 521.7,191.9 523.7,191.6C525.7,191.2 529.4,189.0 531.6,188.4C533.9,187.8 535.2,187.5 537.2,188.0C539.2,188.5 541.2,189.3 543.6,191.2C545.9,193.0 548.9,196.5 551.5,199.1C554.1,201.8 556.8,204.5 559.4,207.1C562.1,209.6 565.4,212.5 567.4,214.2C569.4,215.9 570.7,216.9 571.4,217.4M480.0,174.5C481.1,175.3 484.4,177.4 486.4,179.3C488.3,181.1 489.7,183.6 491.9,185.6C494.2,187.6 497.2,189.6 499.9,191.2C502.5,192.8 505.2,193.8 507.8,195.1C510.5,196.5 513.4,197.5 515.7,199.1C518.1,200.7 520.1,202.3 522.1,204.7C524.1,207.1 525.7,210.2 527.7,213.4C529.7,216.6 532.4,221.0 534.0,223.7C535.6,226.5 536.7,229.0 537.2,230.0M480.0,186.4C481.3,187.2 485.3,189.6 487.9,191.2C490.6,192.8 493.2,194.2 495.9,195.9C498.5,197.7 501.4,199.4 503.8,201.5C506.2,203.6 508.2,206.0 510.2,208.6C512.2,211.3 513.9,214.3 515.7,217.4C517.6,220.4 520.0,224.8 521.3,226.9C522.6,229.0 523.3,229.5 523.7,230.0M480.0,220.6C481.3,219.9 485.3,217.5 487.9,216.6C490.6,215.7 493.2,215.3 495.9,215.4C498.5,215.5 501.2,216.1 503.8,217.4C506.5,218.6 509.5,220.8 511.8,222.9C514.0,225.1 516.4,228.8 517.3,230.0"/>
<path clip-path="url(#c8)" d="M500.0,216.4C501.1,216.6 504.5,216.7 506.8,217.7C509.0,218.7 511.3,220.5 513.5,222.4C515.8,224.3 518.0,226.7 520.3,229.2C522.5,231.7 524.8,234.6 527.0,237.3C529.3,240.0 531.5,242.8 533.8,245.4C536.0,248.0 538.3,250.2 540.5,252.8C542.8,255.4 545.0,258.3 547.3,260.9C549.5,263.5 552.0,266.1 554.0,268.3C556.0,270.6 557.7,272.6 559.4,274.4C561.1,276.2 562.2,277.8 564.2,279.2C566.1,280.5 568.7,281.5 570.9,282.5C573.2,283.5 575.4,284.4 577.7,285.2C579.9,286.0 581.8,286.7 584.4,287.3C587.0,287.8 590.4,288.5 593.2,288.5C596.0,288.4 598.6,288.0 601.3,286.9C604.0,285.9 607.1,283.5 609.4,282.2C611.6,280.8 613.0,279.9 614.8,278.8C616.6,277.7 617.7,276.2 620.0,275.4C622.3,274.7 625.4,274.5 628.3,274.4C631.3,274.3 636.1,274.7 637.7,274.8M516.9,215.0C518.0,216.7 521.4,221.9 523.6,225.1C525.9,228.4 528.1,231.5 530.4,234.6C532.6,237.6 534.9,240.5 537.1,243.4C539.4,246.2 541.6,249.0 543.9,251.5C546.1,253.9 548.4,256.0 550.6,258.2C552.9,260.5 555.1,262.9 557.4,265.0C559.7,267.0 561.9,268.6 564.2,270.4C566.4,272.2 568.9,274.3 570.9,275.8C572.9,277.2 574.8,278.5 576.3,279.2C577.8,279.8 578.0,280.4 579.7,279.8C581.4,279.3 584.0,277.4 586.4,275.8C588.9,274.2 591.5,272.4 594.5,270.4C597.6,268.3 600.4,266.3 604.7,263.6C608.9,260.9 616.1,256.4 620.0,254.2C623.9,251.9 625.4,251.4 628.3,250.1C631.3,248.8 636.1,246.9 637.7,246.2M529.0,215.0C529.8,216.4 531.9,220.0 533.8,223.1C535.7,226.3 538.3,230.4 540.5,233.9C542.8,237.4 545.0,240.7 547.3,244.0C549.5,247.4 552.0,251.2 554.0,254.2C556.0,257.1 557.7,259.5 559.4,261.6C561.1,263.7 562.6,265.6 564.2,267.0C565.7,268.3 567.6,269.1 568.9,269.7C570.1,270.3 569.6,270.7 571.6,270.4C573.6,270.0 577.2,269.2 581.0,267.7C584.9,266.1 590.0,263.1 594.5,260.9C599.0,258.8 603.8,257.0 608.0,254.8C612.3,252.7 616.6,249.4 620.0,248.1C623.4,246.7 625.4,247.1 628.3,246.7C631.3,246.4 636.1,246.3 637.7,246.2M568.9,215.0C570.3,216.0 574.5,218.9 577.7,221.1C580.8,223.2 584.4,225.8 587.8,227.8C591.2,229.9 594.5,231.7 597.9,233.2C601.3,234.8 604.4,235.8 608.0,237.3C611.7,238.7 616.6,240.9 620.0,242.0C623.4,243.1 625.4,243.3 628.3,243.7C631.3,244.1 636.1,244.4 637.7,244.6M587.8,215.0C588.9,216.0 592.3,219.2 594.5,221.1C596.8,223.0 599.0,224.7 601.3,226.5C603.5,228.3 605.8,230.3 608.0,231.9C610.3,233.5 612.8,234.8 614.8,235.9C616.8,237.1 617.7,237.6 620.0,238.6C622.3,239.6 625.4,241.0 628.3,242.0C631.3,243.0 636.1,244.2 637.7,244.6M500.0,246.1C501.1,246.5 504.5,247.5 506.8,248.8C509.0,250.0 511.3,251.7 513.5,253.5C515.8,255.3 518.0,257.5 520.3,259.6C522.5,261.6 524.8,263.7 527.0,265.6C529.3,267.6 531.7,269.1 533.8,271.0C535.8,273.0 537.5,275.3 539.2,277.1C540.9,278.9 542.3,280.6 543.9,281.9C545.5,283.1 547.2,284.0 548.6,284.6C550.1,285.1 551.2,285.6 552.7,285.2C554.1,284.9 555.5,283.3 557.4,282.5C559.3,281.8 561.9,281.0 564.2,280.8C566.4,280.7 568.7,281.2 570.9,281.9C573.2,282.5 575.4,283.8 577.7,284.6C579.9,285.3 581.8,286.0 584.4,286.6C587.0,287.2 590.4,288.3 593.2,288.3C596.0,288.3 598.6,287.7 601.3,286.6C604.0,285.5 607.1,283.2 609.4,281.9C611.6,280.5 613.0,279.5 614.8,278.5C616.6,277.5 617.7,276.7 620.0,275.8C622.3,274.9 625.4,273.8 628.3,273.1C631.3,272.4 636.1,271.8 637.7,271.6M500.0,281.9C501.1,282.6 503.9,285.1 506.8,286.6C509.6,288.0 513.5,289.7 516.9,290.6C520.3,291.5 523.6,292.1 527.0,292.0C530.4,291.9 534.0,290.9 537.1,290.0C540.3,289.1 543.3,287.4 545.9,286.6C548.5,285.8 550.2,285.5 552.7,285.2C555.1,285.0 558.3,285.0 560.8,285.2C563.3,285.5 565.3,285.8 567.5,286.6C569.8,287.4 572.0,288.7 574.3,290.0C576.5,291.2 578.8,292.9 581.0,294.0C583.3,295.1 585.5,296.2 587.8,296.7C590.0,297.2 592.3,297.4 594.5,297.0C596.8,296.7 599.0,296.0 601.3,294.7C603.5,293.4 605.8,291.3 608.0,289.3C610.3,287.3 612.8,284.3 614.8,282.5C616.8,280.7 617.7,279.6 620.0,278.5C622.3,277.4 625.4,276.4 628.3,275.8C631.3,275.2 636.1,274.9 637.7,274.8M500.0,280.5C501.1,281.7 504.5,285.7 506.8,287.9C509.0,290.2 511.5,292.0 513.5,294.0C515.5,296.0 518.0,299.0 518.9,300.0M599.9,300.0C600.8,299.2 603.4,297.4 605.3,295.4C607.3,293.3 609.6,290.1 611.4,287.9C613.2,285.8 614.7,284.0 616.2,282.5C617.6,281.1 618.0,280.6 620.0,279.2C622.0,277.7 625.4,275.0 628.3,273.8C631.3,272.5 636.1,271.9 637.7,271.6"/>
<path clip-path="url(#c9)" d="M508.3,290.0C509.7,291.2 513.4,294.7 516.2,297.0C519.0,299.3 522.0,301.6 524.9,304.0C527.9,306.3 531.1,308.9 533.7,311.0C536.3,313.0 538.5,314.7 540.7,316.2C542.9,317.7 544.8,319.3 546.8,320.1C548.8,320.9 550.7,321.2 552.9,321.0C555.1,320.8 557.3,319.6 559.9,318.8C562.5,318.0 565.7,316.9 568.6,316.2C571.5,315.5 574.5,315.3 577.4,314.5C580.3,313.6 583.2,312.4 586.1,311.0C589.0,309.5 592.2,307.8 594.8,305.7C597.5,303.7 599.7,301.1 601.8,298.7C604.0,296.4 606.6,293.2 608.0,291.7C609.3,290.3 609.4,290.3 609.7,290.0M572.1,290.0C573.3,290.4 576.8,291.7 579.1,292.6C581.5,293.6 583.8,294.9 586.1,295.7C588.4,296.5 590.9,297.4 593.1,297.4C595.3,297.5 597.2,296.9 599.2,296.1C601.3,295.3 603.6,293.6 605.3,292.6C607.1,291.6 609.0,290.4 609.7,290.0M514.5,290.0C515.5,290.2 518.4,291.0 520.6,291.3C522.8,291.6 525.4,291.7 527.6,291.7C529.8,291.7 531.6,291.6 533.7,291.3C535.7,291.0 538.8,290.2 539.8,290.0M490.0,376.5C491.5,375.9 495.8,374.6 498.7,373.0C501.6,371.4 504.6,369.2 507.5,366.9C510.4,364.6 513.3,361.9 516.2,359.0C519.1,356.1 522.0,352.6 524.9,349.4C527.9,346.2 530.8,343.0 533.7,339.8C536.6,336.6 539.8,332.7 542.4,330.2C545.0,327.7 547.7,325.9 549.4,324.9C551.2,324.0 551.5,324.1 552.9,324.3C554.4,324.4 556.3,325.1 558.2,325.8C560.0,326.6 562.5,328.3 564.3,328.9C566.0,329.5 567.0,329.8 568.6,329.5C570.2,329.2 571.7,328.6 573.9,327.1C576.1,325.6 579.3,322.5 581.7,320.6C584.2,318.6 586.5,316.6 588.7,315.3C590.9,314.1 593.0,313.4 594.8,312.9C596.7,312.4 597.9,312.1 600.1,312.3C602.3,312.5 605.2,313.3 608.0,314.0C610.7,314.8 613.8,315.8 616.7,316.6C619.6,317.4 621.9,318.3 625.4,318.8C628.9,319.4 634.4,320.0 637.7,320.1C640.9,320.3 643.8,319.8 645.0,319.7M490.0,377.8C491.5,377.3 495.8,375.9 498.7,374.8C501.6,373.6 504.6,372.1 507.5,370.8C510.4,369.5 512.6,367.9 516.2,366.9C519.9,365.9 524.9,365.3 529.3,365.0C533.7,364.6 539.1,365.0 542.4,364.7C545.8,364.4 547.7,364.0 549.4,363.4C551.2,362.7 551.2,362.8 552.9,360.8C554.7,358.7 557.3,354.4 559.9,351.2C562.5,348.0 565.7,344.8 568.6,341.6C571.5,338.3 574.5,335.0 577.4,331.9C580.3,328.9 583.2,325.7 586.1,323.2C589.0,320.7 592.5,318.3 594.8,317.1C597.2,315.9 597.9,316.4 600.1,316.2C602.3,316.1 605.2,316.0 608.0,316.2C610.7,316.4 613.8,317.0 616.7,317.5C619.6,318.0 621.9,318.8 625.4,319.3C628.9,319.7 634.4,319.9 637.7,320.1C640.9,320.4 643.8,320.5 645.0,320.6M507.5,370.8C508.9,370.9 513.6,370.7 516.2,371.3C518.8,371.8 521.0,372.9 523.2,373.9C525.4,374.9 526.8,376.5 529.3,377.4C531.8,378.2 535.6,379.7 538.1,379.1C540.5,378.5 542.0,376.2 544.2,373.9C546.4,371.5 548.8,368.2 551.2,365.1C553.5,362.1 556.0,358.2 558.2,355.5C560.3,352.9 561.8,351.6 564.3,349.4C566.7,347.2 570.8,343.7 573.0,342.4C575.2,341.1 575.8,341.6 577.4,341.6C579.0,341.6 580.9,341.7 582.6,342.4C584.4,343.2 585.8,345.0 587.9,345.9C589.9,346.8 593.7,347.4 594.8,347.7M545.9,370.4C546.8,369.9 548.8,368.5 551.2,367.8C553.5,367.0 557.0,366.2 559.9,366.0C562.8,365.8 566.2,366.3 568.6,366.5C571.1,366.6 572.9,367.1 574.8,366.9C576.6,366.7 578.1,366.6 580.0,365.1C581.9,363.7 583.6,361.1 586.1,358.2C588.6,355.2 592.2,350.9 594.8,347.7C597.5,344.5 599.7,341.4 601.8,338.9C604.0,336.5 605.5,334.9 608.0,332.8C610.4,330.8 613.8,328.4 616.7,326.7C619.6,325.0 621.9,323.9 625.4,322.8C628.9,321.7 635.6,320.6 637.7,320.1M594.8,347.7C596.0,346.4 599.8,342.0 601.8,339.8C603.9,337.6 605.0,336.3 607.1,334.6C609.1,332.8 611.4,331.0 614.1,329.3C616.7,327.6 618.9,326.0 622.8,324.5C626.7,323.0 635.2,321.1 637.7,320.4M490.0,384.4C491.5,383.9 495.8,380.9 498.7,381.3C501.6,381.7 504.6,384.9 507.5,387.0C510.4,389.1 513.9,392.4 516.2,394.0C518.5,395.5 519.7,396.2 521.5,396.2C523.2,396.2 524.7,395.6 526.7,394.0C528.7,392.3 531.6,388.6 533.7,386.1C535.7,383.6 538.1,380.3 538.9,379.1M559.9,400.0C561.1,398.4 564.6,393.8 566.9,390.5C569.2,387.1 571.4,383.1 573.9,380.0C576.4,376.9 579.0,374.5 581.7,372.1C584.5,369.8 586.8,367.6 590.5,366.0C594.1,364.4 599.2,363.3 603.6,362.5C608.0,361.7 611.0,361.5 616.7,361.2C622.4,360.9 632.9,360.7 637.7,360.6C642.4,360.5 643.8,360.6 645.0,360.6"/>
<path clip-path="url(#c10)" d="M396.3,385.7L421.0,386.1M421.0,386.1C423.2,385.7 429.9,384.2 434.3,383.5C438.7,382.8 442.3,382.2 447.4,381.7C452.5,381.3 459.1,381.0 464.9,380.9C470.7,380.7 477.6,380.8 482.4,380.7C487.2,380.6 490.8,380.6 493.7,380.4C496.6,380.3 498.8,380.1 499.8,380.0M421.0,386.1C423.2,386.5 429.9,387.8 434.3,388.3C438.7,388.8 443.0,389.2 447.4,389.2C451.8,389.1 456.2,388.6 460.5,387.9C464.9,387.1 469.3,385.8 473.6,384.8C478.0,383.9 483.4,382.8 486.7,382.2C490.1,381.5 492.6,381.1 493.7,380.9M491.1,380.0C492.3,380.3 495.2,380.1 498.1,381.7C501.0,383.3 505.4,387.4 508.6,389.6C511.8,391.9 515.1,394.2 517.3,395.3C519.5,396.4 519.9,396.5 521.7,396.2C523.4,395.8 525.6,394.9 527.8,393.1C530.0,391.3 532.9,387.4 534.8,385.2C536.7,383.1 538.4,380.9 539.1,380.0M396.3,410.6L421.0,410.4M421.0,410.4C422.5,410.1 426.3,409.7 429.9,408.8C433.6,408.0 438.7,406.6 443.0,405.3C447.4,404.0 451.8,402.4 456.2,401.0C460.5,399.5 465.6,398.2 469.3,396.6C472.9,395.0 475.1,393.4 478.0,391.4C480.9,389.3 484.5,386.1 486.7,384.4C488.9,382.6 490.4,381.5 491.1,380.9M421.0,410.4C422.5,410.6 427.0,411.3 429.9,411.5C432.9,411.6 435.5,411.9 438.7,411.5C441.9,411.0 445.5,410.3 449.2,408.8C452.8,407.4 456.9,404.8 460.5,402.7C464.2,400.7 467.8,398.8 471.0,396.6C474.2,394.4 477.1,391.8 479.7,389.6C482.4,387.4 485.6,384.5 486.7,383.5M396.3,437.2C398.3,437.5 404.0,438.5 408.1,439.0C412.2,439.4 418.9,439.7 421.0,439.8M421.0,439.8C424.0,439.6 432.8,439.0 438.7,438.5C444.5,438.1 450.3,437.7 456.2,437.2C462.0,436.8 468.5,436.3 473.6,435.9C478.7,435.5 482.4,435.3 486.7,435.0C491.1,434.7 496.5,434.7 499.8,434.2C503.2,433.6 504.6,433.3 506.8,431.5C509.0,429.8 510.9,426.4 512.9,423.7C515.0,420.9 516.9,417.3 519.1,414.9C521.2,412.6 523.7,410.7 526.0,409.7C528.4,408.7 529.9,408.8 533.0,408.8C536.2,408.9 543.0,409.9 545.0,410.1M421.0,474.2C422.5,473.8 427.0,473.2 429.9,471.7C432.9,470.3 435.8,467.7 438.7,465.6C441.6,463.6 444.5,461.4 447.4,459.5C450.3,457.6 453.2,456.4 456.2,454.3C459.1,452.1 462.0,448.9 464.9,446.4C467.8,443.9 470.7,441.0 473.6,439.4C476.5,437.8 479.4,436.9 482.4,436.6C485.3,436.3 488.2,437.8 491.1,437.8C494.0,437.9 496.9,437.3 499.8,436.8C502.7,436.3 505.7,435.6 508.6,435.0C511.5,434.5 514.4,434.3 517.3,433.3C520.2,432.3 523.1,430.7 526.0,428.9C529.0,427.2 531.6,425.1 534.8,422.8C537.9,420.5 543.3,416.3 545.0,414.9M421.0,474.2C422.5,473.9 427.0,474.0 429.9,472.8C432.9,471.6 435.8,469.0 438.7,466.9C441.6,464.9 444.7,462.3 447.4,460.4C450.2,458.4 452.4,456.5 455.3,455.3C458.2,454.1 461.1,454.1 464.9,453.4C468.7,452.6 473.6,451.9 478.0,450.8C482.4,449.6 486.7,448.1 491.1,446.4C495.5,444.6 499.8,442.5 504.2,440.3C508.6,438.1 513.7,435.2 517.3,433.3C520.9,431.4 523.1,430.5 526.0,428.9C529.0,427.3 531.6,425.0 534.8,423.7C537.9,422.4 543.3,421.5 545.0,421.1M396.3,473.5L421.0,474.2M521.7,490.0C523.1,489.4 526.5,488.0 530.4,486.6C534.3,485.1 542.6,482.2 545.0,481.3"/>
<path clip-path="url(#c11)" d="M530.0,390.5C530.7,389.8 532.9,387.9 534.4,386.1C535.8,384.4 538.0,381.0 538.7,380.0M530.0,428.1C531.5,427.0 535.8,424.3 538.7,421.9C541.6,419.6 544.6,417.0 547.5,414.1C550.4,411.2 553.6,407.5 556.2,404.5C558.8,401.4 561.2,398.6 563.2,395.7C565.2,392.8 566.8,389.6 568.4,387.0C570.0,384.4 572.1,381.2 572.8,380.0M530.0,408.8C531.5,409.0 535.8,409.5 538.7,409.7C541.6,409.9 545.3,410.4 547.5,410.1C549.7,409.8 550.1,409.0 551.8,408.0C553.6,406.9 555.8,404.5 558.0,403.6C560.1,402.7 562.9,402.4 564.9,402.5C567.0,402.7 568.0,403.1 570.2,404.5C572.4,405.8 575.3,408.7 578.1,410.6C580.8,412.5 583.1,414.1 586.8,415.8C590.4,417.6 595.5,419.6 599.9,421.1C604.3,422.5 608.6,423.5 613.0,424.6C617.4,425.6 621.9,426.6 626.1,427.2C630.3,427.8 634.5,428.1 638.2,428.1C641.8,428.0 644.3,427.3 647.9,426.7C651.6,426.2 658.0,425.3 660.0,425.0M538.7,421.9C540.2,421.6 544.6,419.8 547.5,419.8C550.4,419.8 553.3,420.8 556.2,421.9C559.1,423.0 562.0,425.4 564.9,426.3C567.9,427.3 569.3,427.4 573.7,427.6C578.1,427.8 586.1,427.4 591.2,427.6C596.3,427.8 600.6,428.1 604.3,428.9C607.9,429.7 610.1,431.3 613.0,432.4C615.9,433.6 618.8,434.7 621.7,435.9C624.6,437.1 627.7,438.7 630.5,439.4C633.2,440.1 635.5,440.6 638.2,440.3C640.8,440.0 642.6,439.1 646.2,437.7C649.8,436.2 657.7,432.6 660.0,431.5M530.0,487.5C532.2,486.7 538.7,484.7 543.1,483.1C547.5,481.5 551.8,479.6 556.2,477.8C560.6,476.1 564.9,474.0 569.3,472.6C573.7,471.2 578.1,470.1 582.4,469.5C586.8,469.0 591.2,469.0 595.5,469.1C599.9,469.2 604.3,469.7 608.6,470.0C613.0,470.3 616.8,470.6 621.7,470.9C626.7,471.1 633.8,471.3 638.2,471.3C642.5,471.3 644.3,471.2 647.9,470.9C651.6,470.6 658.0,469.8 660.0,469.5M564.9,490.0C566.4,488.8 570.8,485.1 573.7,483.1C576.6,481.1 579.5,479.5 582.4,477.8C585.3,476.2 588.2,474.7 591.2,473.5C594.1,472.2 597.0,471.0 599.9,470.4C602.8,469.8 607.2,470.1 608.6,470.0M601.6,490.0C602.8,489.0 606.0,486.0 608.6,484.0C611.2,481.9 614.5,479.5 617.4,477.8C620.3,476.2 622.6,475.0 626.1,473.9C629.6,472.8 636.1,471.7 638.2,471.3M613.9,490.0C614.9,488.8 617.9,485.3 620.0,483.1C622.0,480.9 624.1,478.7 626.1,477.0C628.1,475.2 630.2,473.6 632.2,472.6C634.2,471.7 637.2,471.5 638.2,471.3M638.2,471.3C639.4,471.8 643.0,472.8 645.3,474.4C647.7,475.9 650.3,478.3 652.3,480.5C654.4,482.7 656.3,485.9 657.6,487.5C658.8,489.0 659.6,489.6 660.0,490.0M638.2,471.3C639.8,471.7 644.3,472.2 647.9,473.5C651.6,474.7 658.0,477.8 660.0,478.7"/>
<path clip-path="url(#c12)" d="M396.4,497.8C398.4,496.9 405.1,493.8 408.7,492.8C412.3,491.8 415.7,492.0 417.8,491.8C419.9,491.7 419.8,491.7 421.3,492.1C422.8,492.5 424.5,492.9 427.0,494.1C429.4,495.4 433.1,498.2 436.1,499.6C439.1,501.1 442.6,502.3 445.2,502.8C447.8,503.3 448.6,503.6 451.6,502.8C454.7,502.0 459.2,499.4 463.5,497.8C467.8,496.2 473.4,494.1 477.2,493.2C481.0,492.3 483.3,492.3 486.3,492.5C489.4,492.6 492.4,493.5 495.5,494.1C498.5,494.8 501.5,495.7 504.6,496.4C507.6,497.2 510.7,497.7 513.7,498.7C516.8,499.7 519.3,501.4 522.9,502.4C526.4,503.3 533.0,503.9 535.0,504.2M396.4,497.8C398.4,498.6 404.5,501.8 408.7,502.8C412.9,503.8 417.5,503.5 421.3,503.7C425.1,503.9 427.5,503.7 431.5,504.2C435.5,504.6 440.7,505.5 445.2,506.5C449.8,507.4 455.1,509.0 458.9,509.7C462.7,510.3 465.0,510.5 468.1,510.4C471.1,510.3 473.4,510.4 477.2,509.2C481.0,508.0 486.3,505.2 490.9,503.3C495.5,501.4 500.8,499.2 504.6,497.8C508.4,496.3 510.7,495.8 513.7,494.6C516.8,493.4 519.3,491.9 522.9,490.5C526.4,489.0 533.0,486.7 535.0,485.9M396.4,521.5C400.5,521.5 415.4,521.8 421.3,521.5C427.2,521.2 427.5,520.1 431.5,519.7C435.5,519.3 440.7,519.1 445.2,519.2C449.8,519.4 454.4,519.6 458.9,520.6C463.5,521.6 468.8,523.8 472.6,525.2C476.4,526.6 478.7,527.9 481.8,528.8C484.8,529.7 487.1,530.4 490.9,530.7C494.7,530.9 500.0,530.2 504.6,530.2C509.2,530.2 513.2,530.5 518.3,530.7C523.4,530.8 532.2,531.0 535.0,531.1M421.3,521.5C423.0,521.8 427.5,522.0 431.5,523.4C435.5,524.7 440.7,528.1 445.2,529.7C449.8,531.4 454.4,532.2 458.9,533.4C463.5,534.6 468.1,536.0 472.6,537.1C477.2,538.1 482.5,538.9 486.3,539.8C490.1,540.7 492.4,541.8 495.5,542.5C498.5,543.3 500.8,544.0 504.6,544.4C508.4,544.7 513.2,544.7 518.3,544.8C523.4,544.9 532.2,544.8 535.0,544.8M396.4,526.6C400.5,526.6 415.4,526.8 421.3,527.0C427.2,527.2 427.5,527.2 431.5,527.9C435.5,528.7 440.7,530.9 445.2,531.6C449.8,532.3 454.4,532.0 458.9,532.0C463.5,532.0 468.8,531.2 472.6,531.6C476.4,532.0 478.7,533.4 481.8,534.3C484.8,535.2 487.8,535.8 490.9,537.1C493.9,538.3 497.0,540.4 500.0,541.6C503.1,542.8 503.3,543.8 509.2,544.4C515.0,544.9 530.7,544.7 535.0,544.8M421.3,527.0C423.8,527.5 431.3,528.8 436.1,529.7C440.8,530.7 445.2,531.7 449.8,532.5C454.4,533.3 458.9,533.9 463.5,534.8C468.1,535.6 473.4,537.1 477.2,537.5C481.0,537.9 483.3,537.3 486.3,537.1C489.4,536.8 491.7,536.6 495.5,536.1C499.3,535.7 504.6,534.9 509.2,534.3C513.7,533.7 518.5,533.0 522.9,532.5C527.2,532.0 533.0,531.3 535.0,531.1M421.3,572.7C423.0,572.5 427.5,572.4 431.5,571.8C435.5,571.1 440.7,570.1 445.2,569.0C449.8,568.0 454.4,566.7 458.9,565.4C463.5,564.0 468.1,562.5 472.6,560.8C477.2,559.1 482.5,557.0 486.3,555.3C490.1,553.6 492.4,552.6 495.5,550.8C498.5,548.9 501.5,546.6 504.6,544.4C507.6,542.1 510.7,539.6 513.7,537.1C516.8,534.5 520.3,531.1 522.9,528.8C525.4,526.6 527.2,525.0 529.2,523.4C531.3,521.7 534.0,519.6 535.0,518.8M396.4,572.7L421.3,572.7M493.6,554.4C494.7,554.3 498.0,553.5 500.0,553.5C502.0,553.5 503.5,553.5 505.5,554.4C507.5,555.3 509.9,557.1 511.9,559.0C513.9,560.8 515.5,563.5 517.4,565.4C519.2,567.3 520.9,568.7 522.9,570.4C524.8,572.1 527.2,574.0 529.2,575.4C531.3,576.9 534.0,578.5 535.0,579.1M396.4,581.8C400.5,581.8 415.4,581.7 421.3,582.0C427.2,582.3 428.3,582.7 431.5,583.6C434.8,584.5 437.9,585.8 440.7,587.3C443.4,588.8 446.1,590.6 448.0,592.8C449.8,594.9 451.0,598.8 451.6,600.0M396.4,590.9C398.4,590.3 404.5,588.1 408.7,587.3C412.9,586.4 417.5,586.2 421.3,585.9C425.1,585.6 428.3,585.2 431.5,585.5C434.8,585.7 437.6,586.5 440.7,587.3C443.7,588.0 446.8,589.6 449.8,590.0C452.8,590.4 455.1,589.9 458.9,589.6C462.7,589.3 468.1,588.4 472.6,588.2C477.2,588.0 481.0,587.9 486.3,588.2C491.7,588.5 498.5,589.5 504.6,590.0C510.7,590.6 517.8,591.2 522.9,591.4C527.9,591.6 533.0,591.4 535.0,591.4M396.4,590.9C398.4,591.5 404.5,593.8 408.7,594.6C412.9,595.4 417.5,595.4 421.3,595.5C425.1,595.7 428.3,595.4 431.5,595.5C434.8,595.7 438.2,596.0 440.7,596.4C443.1,596.9 444.8,597.6 446.1,598.2C447.5,598.8 448.4,599.7 448.9,600.0M454.4,588.7C456.6,588.6 464.3,588.4 468.1,588.2C471.9,588.0 474.1,587.9 477.2,587.3C480.2,586.7 483.3,585.6 486.3,584.5C489.4,583.5 492.4,582.3 495.5,580.9C498.5,579.5 501.5,577.8 504.6,576.3C507.6,574.8 510.7,573.0 513.7,571.8C516.8,570.5 520.6,569.6 522.9,569.0C525.1,568.5 525.4,569.2 527.4,568.6C529.4,568.0 533.7,565.9 535.0,565.4"/>
<path clip-path="url(#c13)" d="M525.0,489.6L538.7,485.0M570.7,485.0C569.4,486.1 565.9,488.8 563.4,491.4C560.8,494.0 557.7,497.9 555.1,500.5C552.5,503.1 550.3,504.5 547.8,506.9C545.4,509.4 543.1,512.2 540.5,515.1C537.9,518.0 534.9,521.7 532.3,524.3C529.7,526.9 526.2,529.6 525.0,530.7M525.0,503.3C526.5,503.4 530.3,503.8 534.1,504.2C537.9,504.6 543.3,505.2 547.8,505.5C552.4,505.9 557.0,506.3 561.5,506.5C566.1,506.6 571.9,506.5 575.2,506.5C578.6,506.4 579.3,506.6 581.6,506.0C583.9,505.4 586.5,504.3 588.9,502.8C591.4,501.3 593.8,498.9 596.2,496.9C598.7,494.8 601.4,492.5 603.5,490.5C605.7,488.5 608.1,485.9 609.0,485.0M564.3,506.5C566.1,506.5 571.9,506.6 575.2,506.6C578.6,506.7 581.8,506.8 584.4,506.9C586.9,507.1 588.8,507.6 590.8,507.6C592.7,507.7 594.4,507.9 596.2,507.4C598.1,506.9 599.9,506.1 601.7,504.6C603.5,503.2 605.4,500.8 607.2,498.7C609.0,496.6 610.8,494.6 612.7,492.3C614.5,490.0 617.2,486.2 618.2,485.0M525.0,530.7C526.2,529.4 530.0,525.6 532.3,523.4C534.6,521.1 536.1,518.9 538.7,517.0C541.3,515.0 544.8,512.9 547.8,511.5C550.9,510.0 553.9,509.0 557.0,508.3C560.0,507.6 563.1,507.5 566.1,507.2C569.1,506.9 573.7,506.8 575.2,506.7M525.0,530.7C526.5,530.7 531.1,530.9 534.1,531.1C537.2,531.3 539.5,531.7 543.3,532.0C547.1,532.3 553.2,532.8 557.0,532.9C560.8,533.1 563.1,533.0 566.1,532.9C569.1,532.9 572.2,532.8 575.2,532.5C578.3,532.2 581.8,531.6 584.4,531.1C586.9,530.7 588.5,530.4 590.8,529.7C593.0,529.1 595.3,527.9 598.1,527.0C600.8,526.1 604.1,525.0 607.2,524.3C610.2,523.5 613.3,523.0 616.3,522.4C619.4,521.9 621.8,521.4 625.5,521.1C629.1,520.8 636.0,520.7 638.1,520.6M557.0,532.9C558.2,532.3 561.7,530.6 564.3,528.8C566.9,527.1 569.9,524.3 572.5,522.4C575.1,520.6 577.1,519.1 579.8,517.9C582.5,516.7 585.9,515.5 588.9,515.1C592.0,514.8 595.0,515.1 598.1,515.6C601.1,516.1 604.1,517.2 607.2,517.9C610.2,518.6 613.3,519.2 616.3,519.7C619.4,520.2 621.8,520.5 625.5,520.6C629.1,520.8 636.0,520.6 638.1,520.6M525.0,545.3C526.5,545.3 531.1,545.7 534.1,545.3C537.2,544.8 540.2,543.6 543.3,542.5C546.3,541.5 549.4,540.2 552.4,538.9C555.4,537.6 558.5,535.7 561.5,534.8C564.6,533.9 567.6,533.9 570.7,533.4C573.7,532.9 576.8,532.5 579.8,531.6C582.8,530.7 585.9,529.3 588.9,527.9C592.0,526.6 595.0,524.6 598.1,523.4C601.1,522.1 604.1,520.7 607.2,520.2C610.2,519.6 613.3,520.1 616.3,520.2C619.4,520.2 621.8,520.5 625.5,520.6C629.1,520.7 636.0,520.6 638.1,520.6M525.0,569.9C526.5,569.0 531.1,566.0 534.1,564.5C537.2,562.9 540.2,561.9 543.3,560.8C546.3,559.7 549.4,559.0 552.4,558.1C555.4,557.1 558.9,556.2 561.5,555.3C564.1,554.4 565.8,553.8 567.9,552.6C570.1,551.4 572.3,549.8 574.3,548.0C576.3,546.2 578.0,543.6 579.8,541.6C581.6,539.6 583.4,538.0 585.3,536.1C587.1,534.3 588.9,532.0 590.8,530.7C592.6,529.3 594.3,528.8 596.2,527.9C598.2,527.0 600.0,526.1 602.6,525.2C605.2,524.3 608.0,523.1 611.8,522.4C615.6,521.8 621.1,521.4 625.5,521.1C629.8,520.8 636.0,520.7 638.1,520.6M525.0,570.8C525.9,571.6 528.7,574.0 530.5,575.4C532.3,576.8 533.8,578.3 536.0,579.1C538.1,579.8 540.8,580.4 543.3,580.0C545.7,579.5 548.3,578.0 550.6,576.3C552.9,574.6 554.7,572.2 557.0,569.9C559.2,567.6 562.0,564.8 564.3,562.6C566.6,560.5 568.4,558.5 570.7,557.1C572.9,555.8 575.7,554.9 578.0,554.4C580.3,553.9 581.8,553.9 584.4,554.4C586.9,554.9 590.4,556.2 593.5,557.1C596.5,558.1 598.8,559.0 602.6,559.9C606.4,560.7 611.8,561.6 616.3,562.2C620.9,562.7 626.4,562.9 630.0,563.1C633.6,563.2 636.7,563.1 638.1,563.1M525.0,591.8C528.0,591.8 537.2,591.8 543.3,591.4C549.4,591.0 555.4,590.3 561.5,589.6C567.6,588.9 573.7,587.9 579.8,587.3C585.9,586.7 592.0,586.3 598.1,585.9C604.1,585.5 609.7,585.2 616.3,585.0C623.0,584.8 634.4,584.6 638.1,584.5"/>
<path clip-path="url(#c14)" d="M420.8,595.0C424.8,595.2 439.3,595.0 444.6,596.0C449.9,597.0 449.9,598.5 452.6,601.0C455.2,603.4 457.5,607.2 460.5,610.9C463.5,614.5 467.1,619.7 470.5,622.8C473.8,625.9 477.1,628.6 480.4,629.7C483.7,630.9 486.0,630.2 490.3,629.7C494.6,629.3 500.9,627.6 506.2,626.8C511.5,625.9 517.5,625.1 522.1,624.8C526.7,624.5 530.0,624.0 534.0,624.8C538.0,625.6 541.9,627.4 545.9,629.7C549.9,632.1 553.2,635.2 557.8,638.7C562.5,642.2 568.4,646.6 573.7,650.6C579.0,654.6 584.3,659.0 589.6,662.5C594.9,666.0 600.2,669.1 605.5,671.4C610.8,673.8 615.9,675.4 621.4,676.4C626.8,677.4 634.3,677.2 638.2,677.4C642.2,677.6 643.9,677.4 645.0,677.4M448.6,597.0C450.3,598.6 455.2,602.9 458.5,606.9C461.9,610.9 465.5,616.2 468.5,620.8C471.4,625.4 473.8,630.4 476.4,634.7C479.1,639.0 481.4,642.0 484.4,646.6C487.3,651.3 491.0,656.9 494.3,662.5C497.6,668.1 500.9,674.4 504.2,680.4C507.5,686.3 510.5,692.0 514.1,698.3C517.8,704.5 522.1,711.8 526.1,718.1C530.0,724.4 533.7,730.0 538.0,736.0C542.3,741.9 547.2,748.2 551.9,753.9C556.5,759.5 560.8,765.1 565.8,769.7C570.7,774.4 576.0,778.5 581.7,781.7C587.3,784.8 593.6,787.0 599.5,788.6C605.5,790.3 610.9,790.9 617.4,791.6C623.9,792.2 633.6,792.4 638.2,792.6C642.8,792.7 643.9,792.6 645.0,792.6M396.6,642.7C398.3,642.5 402.9,641.8 406.9,641.7C411.0,641.5 414.5,641.5 420.8,641.7C427.1,641.8 438.0,642.6 444.6,642.7C451.3,642.8 456.6,642.8 460.5,642.3C464.5,641.8 465.8,640.3 468.5,639.7C471.1,639.0 474.1,638.2 476.4,638.3C478.7,638.4 479.4,640.7 482.4,640.3C485.3,639.8 489.7,637.3 494.3,635.7C498.9,634.1 505.2,632.4 510.2,630.7C515.1,629.1 520.1,626.8 524.1,625.8C528.0,624.8 530.4,624.0 534.0,624.8C537.6,625.6 541.9,627.4 545.9,630.7C549.9,634.1 553.9,639.7 557.8,644.6C561.8,649.6 565.8,655.2 569.7,660.5C573.7,665.8 577.4,671.4 581.7,676.4C586.0,681.4 590.9,686.3 595.6,690.3C600.2,694.3 604.5,697.9 609.5,700.2C614.4,702.6 620.5,703.8 625.3,704.6C630.1,705.4 635.0,705.1 638.2,705.2C641.5,705.3 643.9,705.2 645.0,705.2M396.6,642.7C398.6,643.0 404.9,644.2 408.9,644.6C412.9,645.0 414.9,645.0 420.8,645.0C426.8,645.1 437.0,645.4 444.6,645.0C452.3,644.7 461.5,643.1 466.5,643.1C471.4,643.0 471.8,643.1 474.4,644.6C477.1,646.2 479.4,648.9 482.4,652.6C485.3,656.2 489.0,661.2 492.3,666.5C495.6,671.8 498.6,677.7 502.2,684.4C505.9,691.0 510.2,699.6 514.1,706.2C518.1,712.8 521.8,718.1 526.1,724.1C530.4,730.0 535.3,736.3 540.0,741.9C544.6,747.6 548.9,752.2 553.9,757.8C558.8,763.5 564.4,770.1 569.7,775.7C575.0,781.3 580.0,787.0 585.6,791.6C591.3,796.2 597.5,800.5 603.5,803.5C609.5,806.5 615.6,808.3 621.4,809.5C627.2,810.6 634.3,810.3 638.2,810.4C642.2,810.6 643.9,810.4 645.0,810.4"/>
<path clip-path="url(#c15)" d="M395.0,934.9L420.7,934.9M420.7,934.9C423.2,934.6 430.7,933.3 435.5,933.4C440.4,933.5 444.7,934.0 449.8,935.3C455.0,936.6 460.5,938.5 466.5,941.3C472.5,944.1 479.6,947.8 485.6,952.0C491.5,956.2 496.7,961.1 502.2,966.3C507.8,971.5 513.0,977.0 518.9,983.0C524.9,989.0 531.6,995.7 538.0,1002.1C544.3,1008.4 550.7,1015.2 557.1,1021.1C563.4,1027.1 569.8,1033.0 576.1,1037.8C582.5,1042.6 588.8,1046.0 595.2,1049.7C601.5,1053.5 607.1,1058.1 614.3,1060.4C621.4,1062.8 633.0,1063.4 638.1,1064.0C643.2,1064.6 643.8,1064.0 645.0,1064.0M538.0,1004.4C541.2,1007.6 550.7,1017.6 557.1,1023.5C563.4,1029.5 569.8,1035.2 576.1,1040.2C582.5,1045.2 588.8,1049.5 595.2,1053.3C601.5,1057.1 607.1,1060.6 614.3,1062.8C621.4,1065.0 633.0,1065.9 638.1,1066.4C643.2,1066.9 643.8,1066.0 645.0,1065.9M420.7,934.9C424.4,935.3 435.0,936.4 442.7,937.7C450.3,939.0 458.6,940.9 466.5,942.5C474.4,944.1 482.4,945.7 490.3,947.2C498.3,948.8 506.2,950.2 514.2,952.0C522.1,953.8 530.0,955.6 538.0,958.0C545.9,960.4 553.9,963.5 561.8,966.3C569.8,969.1 577.7,972.3 585.7,974.7C593.6,977.0 600.8,979.4 609.5,980.6C618.2,981.8 632.2,981.8 638.1,981.8C644.0,981.8 643.8,980.8 645.0,980.6M490.3,947.2C494.3,948.1 506.2,950.5 514.2,952.5C522.1,954.5 530.0,956.5 538.0,959.2C545.9,961.9 553.9,965.7 561.8,968.7C569.8,971.7 577.7,974.5 585.7,977.0C593.6,979.6 600.8,982.7 609.5,984.2C618.2,985.7 632.2,985.7 638.1,985.9C644.0,986.1 643.8,985.5 645.0,985.4"/>
<path clip-path="url(#c16)" d="M638.0,172.3C640.5,172.0 647.4,171.6 652.9,170.5C658.3,169.4 664.8,167.4 670.7,165.8C676.7,164.2 682.6,162.4 688.6,161.0C694.6,159.6 700.5,158.5 706.5,157.4C712.4,156.3 718.4,155.4 724.3,154.4C730.3,153.5 736.3,152.8 742.2,151.5C748.2,150.2 755.1,148.5 760.1,146.7C765.0,144.9 768.0,143.1 772.0,140.8C776.0,138.4 779.9,135.4 783.9,132.4C787.9,129.4 791.8,126.1 795.8,122.9C799.8,119.7 804.1,115.9 807.7,113.4C811.3,110.8 814.5,108.7 817.3,107.4C820.0,106.1 821.4,105.9 824.4,105.6C827.4,105.3 833.2,105.6 835.0,105.6M638.0,172.3C640.5,172.2 647.4,172.5 652.9,171.7C658.3,170.9 664.8,168.9 670.7,167.6C676.7,166.2 682.6,164.7 688.6,163.4C694.6,162.1 700.5,160.7 706.5,159.8C712.4,158.9 718.4,158.6 724.3,158.0C730.3,157.4 736.3,157.2 742.2,156.2C748.2,155.2 755.1,154.0 760.1,152.1C765.0,150.2 768.0,147.8 772.0,144.9C776.0,142.0 779.9,138.3 783.9,134.8C787.9,131.3 791.8,127.4 795.8,124.1C799.8,120.7 804.1,117.1 807.7,114.5C811.3,112.0 814.5,110.0 817.3,108.6C820.0,107.2 823.2,106.6 824.4,106.2M638.0,172.9C640.5,172.9 647.4,173.7 652.9,172.9C658.3,172.1 664.8,169.7 670.7,168.1C676.7,166.6 682.6,164.6 688.6,163.4C694.6,162.2 700.5,161.4 706.5,161.0C712.4,160.6 719.4,160.7 724.3,161.0C729.3,161.3 732.3,161.8 736.3,162.8C740.2,163.8 744.2,165.6 748.2,167.0C752.1,168.3 756.1,170.2 760.1,171.1C764.0,172.0 768.0,171.8 772.0,172.3C776.0,172.8 780.5,174.2 783.9,174.1C787.3,174.0 789.7,173.5 792.2,171.7C794.8,169.9 797.0,166.4 799.4,163.4C801.8,160.4 804.1,156.4 806.5,153.9C808.9,151.3 811.3,149.2 813.7,147.9C816.1,146.6 819.0,146.4 820.8,146.1C822.6,145.8 822.0,146.2 824.4,146.1C826.8,146.0 833.2,145.6 835.0,145.5M638.0,173.5C640.5,173.8 647.4,175.1 652.9,175.3C658.3,175.5 664.8,174.9 670.7,174.7C676.7,174.5 682.6,174.1 688.6,174.1C694.6,174.1 701.5,174.2 706.5,174.7C711.4,175.2 714.4,176.0 718.4,177.1C722.4,178.2 726.3,180.0 730.3,181.3C734.3,182.5 738.2,183.7 742.2,184.8C746.2,185.9 750.1,186.9 754.1,187.8C758.1,188.7 762.1,189.7 766.0,190.2C770.0,190.7 775.0,191.1 777.9,190.8C780.9,190.5 781.9,189.8 783.9,188.4C785.9,187.0 787.9,184.4 789.9,182.4C791.8,180.5 792.8,177.5 795.8,176.5C798.8,175.5 803.0,176.3 807.7,176.5C812.5,176.7 819.9,177.4 824.4,177.7C828.9,178.0 833.2,178.2 835.0,178.3M680.3,230.0C682.6,228.8 689.2,225.7 694.6,222.9C699.9,220.2 706.5,216.8 712.4,213.4C718.4,210.0 725.3,205.9 730.3,202.7C735.3,199.5 738.6,197.1 742.2,194.4C745.8,191.6 748.8,188.8 751.7,186.0C754.7,183.2 757.1,180.5 760.1,177.7C763.1,174.9 765.6,172.5 769.6,169.3C773.6,166.2 779.5,161.6 783.9,158.6C788.3,155.6 791.8,153.5 795.8,151.5C799.8,149.5 804.1,147.8 807.7,146.7C811.3,145.6 814.5,145.2 817.3,144.9C820.0,144.6 821.4,144.9 824.4,144.9C827.4,144.9 833.2,144.9 835.0,144.9M683.8,230.0C686.2,228.9 692.8,226.4 698.1,223.8C703.5,221.2 710.0,217.7 716.0,214.4C722.0,211.1 728.9,207.1 733.9,203.9C738.8,200.7 742.2,198.2 745.8,195.3C749.4,192.4 752.3,189.5 755.3,186.6C758.3,183.8 760.7,181.1 763.6,178.3C766.6,175.5 769.4,173.0 773.2,169.9C776.9,166.9 782.1,162.7 786.3,159.8C790.4,156.9 794.4,154.7 798.2,152.7C802.0,150.6 805.7,148.9 808.9,147.7C812.1,146.5 814.7,146.0 817.3,145.5C819.8,145.1 823.2,145.0 824.4,144.9M760.1,230.0C761.5,227.8 765.4,222.1 768.4,217.0C771.4,211.8 774.8,204.5 777.9,199.1C781.1,193.8 784.5,189.2 787.5,184.8C790.4,180.5 793.4,176.3 795.8,172.9C798.2,169.5 799.8,167.2 801.8,164.6C803.8,162.0 805.3,159.4 807.7,157.4C810.1,155.4 813.3,153.7 816.1,152.7C818.8,151.7 821.2,151.8 824.4,151.5C827.6,151.2 833.2,151.0 835.0,150.9M762.5,230.0C764.0,227.4 769.0,219.7 772.0,214.6C775.0,209.5 777.3,203.3 780.3,199.1C783.3,194.9 786.3,191.9 789.9,189.6C793.4,187.3 797.8,186.4 801.8,185.4C805.7,184.4 809.9,184.0 813.7,183.6C817.4,183.2 820.8,183.2 824.4,183.0C828.0,182.8 833.2,182.5 835.0,182.4M742.2,230.0C744.2,229.2 750.1,226.9 754.1,225.3C758.1,223.8 762.1,222.7 766.0,220.6C770.0,218.4 774.0,215.0 777.9,212.2C781.9,209.4 785.9,206.3 789.9,203.9C793.8,201.5 797.8,199.4 801.8,197.9C805.7,196.4 809.9,195.4 813.7,194.9C817.4,194.5 820.8,194.8 824.4,194.9C828.0,195.1 833.2,195.9 835.0,196.1M766.0,230.0C767.6,228.4 772.0,223.9 775.6,220.6C779.1,217.2 783.1,212.2 787.5,209.8C791.8,207.5 797.4,207.1 801.8,206.3C806.1,205.5 809.9,205.2 813.7,205.1C817.4,205.0 820.8,205.3 824.4,205.7C828.0,206.1 833.2,207.2 835.0,207.5M772.0,230.0C774.0,228.4 779.9,223.3 783.9,220.6C787.9,217.8 791.8,215.2 795.8,213.4C799.8,211.6 803.0,210.6 807.7,209.8C812.5,209.0 819.9,208.8 824.4,208.6C828.9,208.4 833.2,208.6 835.0,208.6"/>
<path clip-path="url(#c17)" d="M815.0,108.6C816.6,108.0 820.6,105.5 824.5,105.0C828.5,104.5 834.6,105.5 838.8,105.6C843.1,105.7 845.3,105.7 849.9,105.6C854.5,105.5 861.1,104.5 866.2,105.0C871.3,105.5 875.2,107.0 880.5,108.6C885.9,110.2 893.4,112.8 898.4,114.6C903.4,116.3 906.3,116.9 910.3,119.3C914.3,121.7 918.3,126.1 922.2,128.8C926.2,131.6 930.2,134.3 934.1,136.0C938.1,137.7 941.9,138.5 946.1,139.0C950.2,139.5 957.0,139.0 959.2,139.0M815.0,144.9C816.6,144.8 820.6,144.3 824.5,144.3C828.5,144.3 834.6,144.8 838.8,144.9C843.1,145.0 845.9,145.0 849.9,144.9C853.9,144.8 858.9,144.8 862.7,144.3C866.4,143.8 869.0,143.3 872.2,142.0C875.4,140.6 878.3,138.0 881.7,136.0C885.1,134.0 889.3,131.3 892.4,130.0C895.6,128.7 897.8,128.3 900.8,128.3C903.8,128.3 906.7,128.9 910.3,130.0C913.9,131.1 918.3,132.8 922.2,134.8C926.2,136.8 930.2,139.8 934.1,142.0C938.1,144.1 941.9,146.3 946.1,147.9C950.2,149.5 957.0,150.9 959.2,151.5M815.0,146.7C816.6,146.4 820.6,145.1 824.5,144.9C828.5,144.7 834.6,145.1 838.8,145.5C843.1,145.9 846.9,146.9 849.9,147.3C852.9,147.7 854.0,147.5 856.7,147.9C859.4,148.3 862.3,149.7 866.2,149.7C870.2,149.7 875.2,147.9 880.5,147.9C885.9,147.9 893.4,149.1 898.4,149.7C903.4,150.3 904.4,151.0 910.3,151.5C916.3,152.0 926.0,152.3 934.1,152.7C942.3,153.1 955.0,153.7 959.2,153.9M815.0,153.9C816.6,153.5 820.6,152.2 824.5,151.5C828.5,150.8 834.6,150.5 838.8,149.7C843.1,148.9 848.1,147.2 849.9,146.7M815.0,178.3C816.6,178.2 820.6,177.7 824.5,177.9C828.5,178.1 834.6,179.1 838.8,179.5C843.1,179.8 845.9,180.1 849.9,180.1C853.9,180.1 858.5,180.1 862.7,179.5C866.8,178.9 871.4,177.3 874.6,176.5C877.7,175.7 878.7,174.5 881.7,174.7C884.7,174.9 888.7,176.6 892.4,177.7C896.2,178.8 900.4,180.3 904.4,181.3C908.3,182.3 912.3,183.0 916.3,183.7C920.2,184.3 924.2,185.1 928.2,185.4C932.2,185.7 934.9,185.6 940.1,185.4C945.3,185.2 956.0,184.4 959.2,184.2M815.0,182.5C816.6,182.4 820.6,182.2 824.5,181.9C828.5,181.6 834.6,181.0 838.8,180.7C843.1,180.4 848.1,180.2 849.9,180.1M849.9,203.9C851.0,202.1 854.2,196.8 856.7,193.2C859.2,189.6 862.5,185.0 865.0,182.5C867.6,179.9 869.6,178.6 872.2,177.7C874.8,176.8 877.7,176.5 880.5,177.1C883.3,177.7 885.9,179.0 888.9,181.3C891.8,183.6 895.2,187.4 898.4,190.8C901.6,194.2 904.8,198.0 907.9,201.5C911.1,205.1 914.1,208.9 917.5,212.2C920.8,215.6 924.4,219.2 928.2,221.8C932.0,224.4 934.9,226.4 940.1,227.7C945.3,229.0 956.0,229.2 959.2,229.5M815.0,195.6C816.6,195.5 821.6,194.8 824.5,195.0C827.5,195.2 830.1,195.7 832.9,196.8C835.7,197.9 838.4,200.3 841.2,201.5C844.1,202.7 848.5,203.5 849.9,203.9M815.0,205.1C816.6,205.1 821.6,204.8 824.5,205.1C827.5,205.4 830.1,206.4 832.9,206.9C835.7,207.4 838.4,208.6 841.2,208.1C844.1,207.6 848.5,204.6 849.9,203.9M815.0,209.3C816.6,209.2 821.4,208.6 824.5,208.7C827.7,208.8 831.1,208.9 834.1,209.9C837.0,210.9 839.8,212.8 842.4,214.6C845.0,216.4 847.5,218.6 849.9,220.6C852.3,222.6 855.0,225.0 856.7,226.5C858.4,228.1 859.7,229.4 860.3,230.0M838.8,230.0C839.8,228.8 842.9,224.6 844.8,223.0C846.6,221.3 848.5,220.0 849.9,220.0C851.3,220.0 851.8,221.7 853.1,223.0C854.5,224.3 857.1,226.9 857.9,227.7"/>
<path clip-path="url(#c18)" d="M638.0,244.4C640.5,243.8 647.4,242.6 652.9,240.8C658.3,239.1 664.8,235.9 670.7,233.7C676.7,231.5 682.6,229.6 688.6,227.7C694.6,225.9 702.3,223.7 706.5,222.4C710.6,221.1 712.4,220.4 713.6,220.0M638.0,245.3C640.5,244.7 647.4,243.8 652.9,242.0C658.3,240.3 664.8,237.1 670.7,234.9C676.7,232.7 682.6,230.8 688.6,228.9C694.6,227.0 701.7,225.1 706.5,223.6C711.2,222.1 715.4,220.6 717.2,220.0M638.0,245.6C640.5,246.0 647.4,247.4 652.9,248.0C658.3,248.6 664.8,249.2 670.7,249.2C676.7,249.2 682.6,248.8 688.6,248.0C694.6,247.2 700.5,246.1 706.5,244.4C712.4,242.7 718.4,240.3 724.3,237.9C730.3,235.4 736.4,232.5 742.2,229.5C748.0,226.6 756.1,221.6 758.9,220.0M638.0,246.2C639.5,246.8 643.4,248.0 646.9,249.8C650.4,251.6 654.9,254.7 658.8,256.9C662.8,259.1 666.8,261.1 670.7,262.9C674.7,264.7 678.7,266.0 682.6,267.6C686.6,269.3 690.6,271.2 694.6,273.0C698.5,274.8 702.5,278.5 706.5,278.4C710.4,278.3 714.4,275.2 718.4,272.4C722.4,269.6 726.3,265.3 730.3,261.7C734.3,258.1 738.2,254.5 742.2,251.0C746.2,247.4 750.5,243.8 754.1,240.3C757.7,236.7 761.1,232.9 763.6,229.5C766.2,226.2 768.6,221.6 769.6,220.0M638.0,270.6C639.5,270.7 643.4,270.3 646.9,271.2C650.4,272.1 654.9,274.1 658.8,276.0C662.8,277.9 666.8,281.0 670.7,282.5C674.7,284.1 678.7,284.8 682.6,285.3C686.6,285.7 690.6,285.7 694.6,285.3C698.5,284.8 702.5,284.1 706.5,282.5C710.4,281.0 714.4,278.7 718.4,276.0C722.4,273.3 726.3,269.9 730.3,266.5C734.3,263.0 738.6,258.8 742.2,255.1C745.8,251.5 748.8,247.9 751.7,244.4C754.7,240.9 757.5,237.8 760.1,234.3C762.7,230.8 765.4,226.0 767.2,223.6C769.0,221.2 770.2,220.6 770.8,220.0M638.0,274.8C639.5,274.9 643.4,274.5 646.9,275.4C650.4,276.3 654.9,278.2 658.8,280.2C662.8,282.1 666.8,285.7 670.7,287.3C674.7,288.9 678.7,289.3 682.6,289.7C686.6,290.1 690.6,290.3 694.6,289.7C698.5,289.1 702.5,287.9 706.5,286.1C710.4,284.3 714.4,281.7 718.4,279.0C722.4,276.2 726.7,272.9 730.3,269.4C733.9,266.0 736.6,261.9 739.8,258.1C743.0,254.3 746.2,250.8 749.4,246.8C752.5,242.8 756.1,238.0 758.9,234.3C761.7,230.6 764.2,227.1 766.0,224.8C767.8,222.4 769.0,220.8 769.6,220.0M638.0,274.2C639.5,274.5 644.2,274.7 646.9,276.0C649.6,277.3 651.7,279.4 654.1,281.9C656.4,284.5 658.4,288.7 661.2,291.5C664.0,294.3 667.2,297.0 670.7,298.6C674.3,300.2 678.7,300.6 682.6,301.0C686.6,301.4 690.6,301.6 694.6,301.0C698.5,300.4 702.5,299.6 706.5,297.4C710.4,295.2 714.4,291.5 718.4,287.9C722.4,284.3 726.3,279.8 730.3,276.0C734.3,272.2 738.2,268.6 742.2,265.3C746.2,261.9 750.1,259.7 754.1,255.7C758.1,251.8 762.1,245.8 766.0,241.4C770.0,237.1 774.2,233.1 777.9,229.5C781.7,226.0 786.9,221.6 788.7,220.0M638.0,276.0C639.5,276.2 644.4,276.0 646.9,277.2C649.4,278.4 650.5,280.4 652.9,283.1C655.3,285.9 658.2,290.5 661.2,293.9C664.2,297.2 667.6,301.0 670.7,303.4C673.9,305.8 676.3,308.1 680.3,308.1C684.2,308.1 690.2,305.0 694.6,303.4C698.9,301.8 702.5,300.5 706.5,298.6C710.4,296.7 714.4,294.3 718.4,292.1C722.4,289.8 728.3,286.1 730.3,284.9M638.0,319.5C639.5,319.4 643.4,319.6 646.9,318.9C650.4,318.2 654.9,316.3 658.8,315.3C662.8,314.3 666.8,314.0 670.7,312.9C674.7,311.8 678.7,310.2 682.6,308.7C686.6,307.3 690.6,305.7 694.6,304.0C698.5,302.3 702.5,300.7 706.5,298.6C710.4,296.5 716.4,292.7 718.4,291.5M698.1,304.0C699.9,304.2 705.5,305.5 708.9,305.2C712.2,304.9 715.2,304.1 718.4,302.2C721.6,300.3 724.7,296.4 727.9,293.9C731.1,291.3 734.5,289.1 737.4,286.7C740.4,284.3 743.0,281.8 745.8,279.2C748.6,276.6 750.7,274.1 754.1,271.2C757.5,268.3 762.1,264.9 766.0,261.7C770.0,258.5 774.0,254.9 777.9,252.2C781.9,249.4 785.9,246.9 789.9,245.0C793.8,243.1 797.8,241.8 801.8,240.8C805.7,239.9 809.9,239.6 813.7,239.1C817.4,238.6 820.8,238.7 824.4,237.9C828.0,237.1 833.2,234.9 835.0,234.3M718.4,285.5C720.4,285.6 726.3,285.6 730.3,286.1C734.3,286.6 738.2,287.8 742.2,288.5C746.2,289.2 750.1,289.9 754.1,290.3C758.1,290.7 762.1,291.1 766.0,290.9C770.0,290.7 774.0,290.0 777.9,289.1C781.9,288.2 785.9,286.7 789.9,285.5C793.8,284.3 797.8,282.9 801.8,281.9C805.7,280.9 809.9,280.1 813.7,279.6C817.4,279.1 820.8,278.7 824.4,279.0C828.0,279.3 833.2,280.9 835.0,281.3M675.5,343.9C676.7,344.1 680.5,345.5 682.6,345.1C684.8,344.7 686.0,342.5 688.6,341.5C691.2,340.5 695.2,340.5 698.1,339.1C701.1,337.7 703.1,334.9 706.5,333.2C709.8,331.5 713.4,330.3 718.4,329.0C723.3,327.7 730.3,326.9 736.3,325.4C742.2,323.9 749.2,321.9 754.1,320.1C759.1,318.2 762.1,316.3 766.0,314.1C770.0,311.9 774.0,309.3 777.9,307.0C781.9,304.6 785.9,301.9 789.9,299.8C793.8,297.7 797.8,295.7 801.8,294.4C805.7,293.2 809.9,292.6 813.7,292.1C817.4,291.6 820.8,291.6 824.4,291.5C828.0,291.3 833.2,291.3 835.0,291.2M638.0,320.1C639.5,320.2 643.4,319.5 646.9,320.7C650.4,321.8 655.3,324.5 658.8,327.2C662.4,329.9 665.6,334.0 668.4,336.7C671.1,339.5 673.1,341.1 675.5,343.9C677.9,346.7 680.3,350.2 682.6,353.4C685.0,356.6 687.8,360.2 689.8,362.9C691.8,365.7 693.8,368.8 694.6,370.0M638.0,320.7C639.5,320.9 643.4,320.4 646.9,321.8C650.4,323.3 655.4,326.7 658.8,329.6C662.2,332.5 664.6,336.3 667.2,339.1C669.7,341.9 671.9,343.5 674.3,346.3C676.7,349.0 679.3,352.8 681.5,355.8C683.6,358.8 685.8,361.8 687.4,364.1C689.0,366.5 690.4,369.0 691.0,370.0M638.0,319.5C640.5,319.2 647.4,318.6 652.9,317.7C658.3,316.8 666.8,314.3 670.7,314.1C674.7,313.9 674.7,315.1 676.7,316.5C678.7,317.9 680.7,319.9 682.6,322.4C684.6,325.0 686.6,329.2 688.6,332.0C690.6,334.8 692.4,336.3 694.6,339.1C696.7,341.9 699.3,345.3 701.7,348.6C704.1,352.0 706.5,355.8 708.9,359.4C711.2,362.9 714.8,368.2 716.0,370.0M638.0,361.2C640.5,361.2 647.4,361.0 652.9,361.2C658.3,361.4 665.8,361.8 670.7,362.3C675.7,362.9 679.3,363.5 682.6,364.7C686.0,366.0 689.6,369.1 691.0,370.0"/>
<path clip-path="url(#c19)" d="M815.0,238.5C816.6,238.3 821.6,238.3 824.5,237.6C827.5,236.9 830.1,236.2 832.9,234.3C835.7,232.4 838.4,228.2 841.2,226.0C844.1,223.7 847.7,221.0 849.9,220.6C852.1,220.2 852.2,221.7 854.3,223.6C856.4,225.5 859.3,229.3 862.7,231.9C866.0,234.5 870.6,237.5 874.6,239.1C878.5,240.7 882.5,241.1 886.5,241.4C890.5,241.8 894.4,241.6 898.4,241.2C902.4,240.8 906.3,239.9 910.3,239.1C914.3,238.2 918.3,237.1 922.2,236.1C926.2,235.1 930.2,234.0 934.1,233.1C938.1,232.2 941.9,231.2 946.1,230.7C950.2,230.2 957.0,230.2 959.2,230.1M927.0,220.0C928.2,220.6 931.0,222.1 934.1,223.6C937.3,225.1 941.9,227.8 946.1,228.9C950.2,230.0 957.0,229.9 959.2,230.1M815.0,279.6C816.6,279.5 821.6,278.9 824.5,279.0C827.5,279.1 830.1,279.5 832.9,280.2C835.7,280.9 838.4,282.1 841.2,283.1C844.1,284.2 848.5,286.1 849.9,286.7M815.0,292.7C816.6,292.5 821.6,291.8 824.5,291.5C827.5,291.2 830.1,291.3 832.9,290.9C835.7,290.5 838.4,289.8 841.2,289.1C844.1,288.4 848.5,287.3 849.9,287.0M849.9,287.0C851.0,287.5 854.2,288.5 856.7,290.3C859.2,292.0 862.5,294.7 865.0,297.4C867.6,300.2 869.8,303.2 872.2,307.0C874.6,310.7 877.0,315.7 879.3,320.1C881.7,324.4 884.1,329.0 886.5,333.2C888.9,337.4 891.3,341.1 893.6,345.1C896.0,349.1 898.4,352.9 900.8,357.0C903.2,361.2 906.7,367.8 907.9,370.0"/>
<path clip-path="url(#c20)" d="M638.0,360.6C640.5,360.7 647.4,360.8 652.9,361.2C658.3,361.6 665.8,362.4 670.7,363.0C675.7,363.6 679.1,363.7 682.6,364.8C686.2,365.9 689.2,367.3 692.2,369.5C695.2,371.7 697.7,374.7 700.5,377.9C703.3,381.0 705.9,384.6 708.9,388.6C711.8,392.6 715.2,397.5 718.4,401.7C721.6,405.9 724.7,409.4 727.9,413.6C731.1,417.8 734.3,422.7 737.4,426.7C740.6,430.7 744.2,434.8 747.0,437.4C749.8,440.0 750.9,440.0 754.1,442.2C757.3,444.4 762.1,447.8 766.0,450.5C770.0,453.3 774.0,456.3 777.9,458.9C781.9,461.4 785.9,463.4 789.9,466.0C793.8,468.6 798.2,471.4 801.8,474.4C805.3,477.3 808.3,481.3 811.3,483.9C814.3,486.5 817.3,488.4 819.6,489.8C822.0,491.3 823.0,492.4 825.6,492.8C828.2,493.2 833.4,492.3 835.0,492.2M687.4,360.0C688.6,361.0 692.2,364.5 694.6,366.0C696.9,367.4 698.7,367.9 701.7,368.9C704.7,369.9 708.7,370.4 712.4,371.9C716.2,373.4 720.4,375.7 724.3,377.9C728.3,380.1 732.3,382.6 736.3,385.0C740.2,387.4 744.2,389.6 748.2,392.2C752.1,394.7 756.5,397.5 760.1,400.5C763.6,403.5 766.6,407.7 769.6,410.0C772.6,412.3 775.6,413.6 777.9,414.2C780.3,414.8 780.9,415.5 783.9,413.6C786.9,411.7 791.8,405.9 795.8,402.9C799.8,399.9 803.8,397.4 807.7,395.7C811.7,394.0 815.1,393.4 819.6,392.8C824.2,392.2 832.4,392.3 835.0,392.2M710.0,360.0C711.4,361.6 715.0,366.2 718.4,369.5C721.8,372.9 726.3,377.1 730.3,380.3C734.3,383.4 738.2,385.8 742.2,388.6C746.2,391.4 750.1,393.8 754.1,396.9C758.1,400.1 762.7,404.3 766.0,407.6C769.4,411.0 771.8,414.8 774.4,417.2C776.9,419.6 778.9,421.9 781.5,421.9C784.1,421.9 786.5,419.6 789.9,417.2C793.2,414.8 797.8,409.9 801.8,407.6C805.7,405.4 809.9,404.4 813.7,403.5C817.4,402.6 820.8,402.7 824.4,402.3C828.0,401.9 833.2,401.3 835.0,401.1M638.0,427.9C640.5,427.5 647.4,426.4 652.9,425.5C658.3,424.6 665.8,423.1 670.7,422.5C675.7,421.9 678.7,421.6 682.6,421.9C686.6,422.2 689.6,422.9 694.6,424.3C699.5,425.7 706.5,428.3 712.4,430.3C718.4,432.3 725.3,434.8 730.3,436.2C735.3,437.6 738.2,438.2 742.2,438.6C746.2,439.0 750.5,439.4 754.1,438.6C757.7,437.8 760.7,435.6 763.6,433.9C766.6,432.1 769.6,429.2 772.0,427.9C774.4,426.6 776.0,425.7 777.9,426.1C779.9,426.5 781.9,427.8 783.9,430.3C785.9,432.8 787.5,436.8 789.9,441.0C792.2,445.2 795.2,451.3 798.2,455.3C801.2,459.3 804.5,462.4 807.7,464.8C810.9,467.2 814.5,468.7 817.3,469.6C820.0,470.5 821.4,470.2 824.4,470.2C827.4,470.2 833.2,469.7 835.0,469.6M638.0,439.8C640.5,438.8 647.4,435.6 652.9,433.9C658.3,432.1 665.8,430.0 670.7,429.1C675.7,428.2 678.7,428.3 682.6,428.5C686.6,428.7 689.6,429.2 694.6,430.3C699.5,431.4 706.5,433.3 712.4,435.0C718.4,436.8 725.3,439.6 730.3,441.0C735.3,442.4 738.2,442.2 742.2,443.4C746.2,444.6 750.1,446.2 754.1,448.1C758.1,450.1 762.1,453.1 766.0,455.3C770.0,457.5 774.0,459.5 777.9,461.3C781.9,463.0 785.9,464.2 789.9,466.0C793.8,467.8 797.8,469.8 801.8,472.0C805.7,474.2 809.9,477.3 813.7,479.1C817.4,480.9 820.8,482.3 824.4,482.7C828.0,483.1 833.2,481.7 835.0,481.5M638.0,471.4C640.5,471.1 647.4,470.3 652.9,469.6C658.3,468.9 664.8,467.9 670.7,467.2C676.7,466.5 682.6,465.8 688.6,465.4C694.6,465.0 699.5,464.8 706.5,464.8C713.4,464.8 722.4,465.1 730.3,465.4C738.2,465.7 746.2,466.2 754.1,466.6C762.1,467.0 772.0,467.4 777.9,467.8C783.9,468.2 785.9,468.5 789.9,469.0C793.8,469.5 797.8,470.1 801.8,470.8C805.7,471.5 809.9,472.3 813.7,473.2C817.4,474.1 820.8,475.5 824.4,476.1C828.0,476.7 833.2,476.6 835.0,476.7M638.0,471.4C639.5,471.7 643.4,471.1 646.9,473.2C650.4,475.2 655.3,480.1 658.8,483.9C662.4,487.7 665.8,491.4 668.4,495.8C670.9,500.1 673.3,507.6 674.3,510.0M638.0,471.4C639.9,471.9 645.4,472.1 649.3,474.4C653.2,476.6 657.2,481.3 661.2,485.1C665.2,488.8 669.5,493.4 673.1,497.0C676.7,500.6 680.5,504.4 682.6,506.5C684.8,508.7 685.6,509.4 686.2,510.0M692.2,510.0C694.6,509.4 701.1,507.3 706.5,506.5C711.8,505.7 718.4,505.3 724.3,505.3C730.3,505.3 736.3,505.7 742.2,506.5C748.2,507.3 757.1,509.4 760.1,510.0"/>
<path clip-path="url(#c21)" d="M900.8,360.0C902.0,361.6 905.3,366.6 907.9,369.5C910.5,372.5 913.5,375.5 916.3,377.9C919.1,380.3 921.6,382.6 924.6,383.8C927.6,385.1 930.6,385.1 934.1,385.4C937.7,385.7 941.9,385.6 946.1,385.6C950.2,385.7 957.0,385.6 959.2,385.6M815.0,392.2C816.6,392.1 821.6,391.7 824.5,391.6C827.5,391.5 830.1,391.2 832.9,391.6C835.7,392.0 838.4,393.2 841.2,394.0C844.1,394.7 848.5,395.9 849.9,396.3M815.0,404.7C816.6,404.3 821.6,402.9 824.5,402.3C827.5,401.7 830.1,401.7 832.9,401.1C835.7,400.5 838.4,399.5 841.2,398.7C844.1,397.9 848.5,396.7 849.9,396.3M849.9,396.3C852.0,396.2 857.6,395.6 862.7,395.7C867.8,395.8 874.6,395.9 880.5,396.9C886.5,397.9 892.4,399.9 898.4,401.7C904.4,403.5 911.3,406.2 916.3,407.7C921.2,409.1 923.2,410.0 928.2,410.6C933.1,411.2 940.9,411.1 946.1,411.2C951.2,411.3 957.0,411.2 959.2,411.2M815.0,469.6C816.6,469.5 821.6,469.2 824.5,469.0C827.5,468.8 830.1,468.4 832.9,468.4C835.7,468.4 838.4,468.8 841.2,469.0C844.1,469.2 848.5,469.5 849.9,469.6M815.0,474.4C816.6,474.7 821.6,475.8 824.5,476.2C827.5,476.6 830.1,477.3 832.9,476.8C835.7,476.3 838.4,474.4 841.2,473.2C844.1,472.0 848.5,470.2 849.9,469.6M849.9,469.6C852.0,467.6 858.5,461.3 862.7,457.7C866.8,454.1 870.2,451.3 874.6,448.2C878.9,445.0 883.9,441.8 888.9,438.6C893.8,435.5 899.8,431.4 904.4,429.1C908.9,426.8 912.3,425.1 916.3,424.9C920.2,424.7 924.2,426.4 928.2,427.9C932.2,429.4 936.1,432.4 940.1,433.9C944.1,435.4 948.8,436.3 952.0,436.8C955.2,437.4 958.0,437.1 959.2,437.2M849.9,469.6C851.0,470.4 854.0,472.9 856.7,474.4C859.4,475.9 863.3,478.1 866.2,478.5C869.2,478.9 871.2,478.1 874.6,476.8C877.9,475.5 882.5,472.7 886.5,470.8C890.5,468.9 893.4,467.0 898.4,465.4C903.4,463.9 911.3,461.7 916.3,461.3C921.2,460.9 924.2,462.0 928.2,463.1C932.2,464.2 936.1,466.3 940.1,467.8C944.1,469.3 948.8,471.1 952.0,472.0C955.2,472.9 958.0,473.0 959.2,473.2M815.0,477.4C816.6,478.0 821.6,480.0 824.5,480.9C827.5,481.8 830.1,481.9 832.9,482.7C835.7,483.5 838.4,484.9 841.2,485.7C844.1,486.5 848.5,487.2 849.9,487.5M815.0,483.9C816.0,484.7 819.0,487.2 821.0,488.7C822.9,490.2 824.9,492.1 826.9,492.8C828.9,493.5 830.5,493.3 832.9,492.8C835.3,492.3 838.4,490.8 841.2,489.9C844.1,489.0 848.5,487.9 849.9,487.5M849.9,487.5C851.6,487.7 857.2,487.5 860.3,488.7C863.4,489.9 865.6,492.2 868.6,494.6C871.6,497.0 875.2,500.6 878.1,503.0C881.1,505.4 884.7,507.8 886.5,508.9C888.3,510.1 888.5,509.8 888.9,510.0M919.8,510.0C922.2,509.1 929.8,506.3 934.1,504.8C938.5,503.2 941.9,501.7 946.1,500.6C950.2,499.5 957.0,498.6 959.2,498.2"/>
<path clip-path="url(#c22)" d="M638.0,520.8C640.5,520.6 647.4,520.3 652.9,519.7C658.3,519.0 664.8,518.0 670.7,516.7C676.7,515.4 683.6,513.3 688.6,511.9C693.6,510.5 696.5,509.3 700.5,508.3C704.5,507.3 707.5,506.4 712.4,506.0C717.4,505.6 724.3,505.5 730.3,506.0C736.3,506.5 742.2,507.5 748.2,508.9C754.1,510.3 760.1,512.5 766.0,514.3C772.0,516.1 777.9,518.2 783.9,519.7C789.9,521.1 795.0,522.4 801.8,523.2C808.5,524.0 818.9,524.3 824.4,524.4C829.9,524.5 833.2,523.9 835.0,523.8M667.2,500.0C668.4,501.6 671.7,506.6 674.3,509.5C676.9,512.5 679.7,515.3 682.6,517.9C685.6,520.4 688.8,523.0 692.2,525.0C695.6,527.0 698.9,528.8 702.9,529.8C706.9,530.8 711.4,530.6 716.0,531.0C720.6,531.4 725.9,531.5 730.3,532.2C734.7,532.9 738.2,533.9 742.2,535.1C746.2,536.3 750.1,537.6 754.1,539.3C758.1,541.0 762.1,543.6 766.0,545.3C770.0,547.0 774.0,548.6 777.9,549.4C781.9,550.2 785.9,550.5 789.9,550.0C793.8,549.5 797.8,548.0 801.8,546.5C805.7,544.9 809.9,541.9 813.7,540.5C817.4,539.1 820.8,538.6 824.4,538.1C828.0,537.6 833.2,537.6 835.0,537.5M681.5,500.0C682.6,501.2 686.0,504.8 688.6,507.1C691.2,509.5 694.4,511.9 696.9,514.3C699.5,516.7 701.7,519.1 704.1,521.4C706.5,523.8 708.9,527.0 711.2,528.6C713.6,530.2 715.2,530.6 718.4,531.2C721.6,531.8 728.3,532.2 730.3,532.4M638.0,520.8C640.5,521.1 647.4,521.3 652.9,522.6C658.3,523.9 664.8,526.6 670.7,528.6C676.7,530.6 682.6,532.8 688.6,534.5C694.6,536.3 700.5,537.3 706.5,539.3C712.4,541.3 718.4,544.7 724.3,546.5C730.3,548.2 736.3,549.0 742.2,550.0C748.2,551.0 754.1,551.6 760.1,552.4C766.0,553.2 773.0,554.4 777.9,554.8C782.9,555.2 785.9,555.0 789.9,554.8C793.8,554.6 797.8,554.8 801.8,553.6C805.7,552.4 809.9,550.1 813.7,547.6C817.4,545.2 822.6,540.2 824.4,538.7M638.0,520.8C640.5,521.2 647.4,521.7 652.9,523.2C658.3,524.7 665.8,527.7 670.7,529.8C675.7,531.9 679.1,533.2 682.6,535.7C686.2,538.3 689.2,542.5 692.2,545.3C695.2,548.0 697.1,550.4 700.5,552.4C703.9,554.4 708.5,555.8 712.4,557.2C716.4,558.6 720.4,559.5 724.3,560.8C728.3,562.0 732.3,563.5 736.3,564.9C740.2,566.3 744.2,568.2 748.2,569.1C752.1,570.0 756.1,569.9 760.1,570.3C764.0,570.7 767.0,571.4 772.0,571.5C776.9,571.6 783.9,571.5 789.9,570.9C795.8,570.3 802.0,568.8 807.7,567.9C813.5,567.0 819.9,566.0 824.4,565.5C828.9,565.0 833.2,565.0 835.0,564.9M638.0,563.1C640.5,562.9 647.4,562.6 652.9,561.9C658.3,561.2 665.4,560.1 670.7,559.0C676.1,557.9 681.5,556.1 685.0,555.4C688.6,554.7 689.6,554.1 692.2,554.6C694.8,555.1 697.7,556.1 700.5,558.4C703.3,560.6 705.9,564.3 708.9,567.9C711.8,571.5 715.2,577.1 718.4,579.8C721.6,582.5 724.9,583.7 727.9,584.0C730.9,584.3 733.3,583.3 736.3,581.6C739.2,579.9 742.8,576.1 745.8,573.9C748.8,571.6 750.7,570.3 754.1,567.9C757.5,565.5 762.1,561.5 766.0,559.6C770.0,557.6 773.0,556.8 777.9,556.0C782.9,555.2 789.9,555.0 795.8,554.8C801.8,554.6 808.9,554.9 813.7,555.0C818.4,555.1 820.8,555.2 824.4,555.4C828.0,555.5 833.2,555.9 835.0,556.0M766.0,547.1C768.0,547.7 773.0,549.3 777.9,551.2C782.9,553.1 789.9,556.4 795.8,558.4C801.8,560.4 808.9,561.9 813.7,563.1C818.4,564.3 820.8,564.5 824.4,565.5C828.0,566.5 833.2,568.5 835.0,569.1M638.0,584.6C641.5,584.7 651.4,584.7 658.8,585.2C666.3,585.7 674.7,586.8 682.6,587.6C690.6,588.3 699.5,589.5 706.5,589.9C713.4,590.3 719.4,589.0 724.3,589.9C729.3,590.8 732.3,593.4 736.3,595.3C740.2,597.2 744.2,599.5 748.2,601.3C752.1,603.0 756.1,604.7 760.1,606.0C764.0,607.3 768.4,609.0 772.0,609.0C775.6,609.0 778.5,608.3 781.5,606.0C784.5,603.7 786.9,598.5 789.9,595.3C792.8,592.1 796.4,589.0 799.4,587.0C802.4,584.9 803.6,583.7 807.7,582.8C811.9,581.9 819.9,581.9 824.4,581.6C828.9,581.3 833.2,581.1 835.0,581.0M700.5,650.0C702.5,648.8 708.5,645.3 712.4,642.9C716.4,640.6 720.4,637.9 724.3,635.8C728.3,633.7 731.3,632.2 736.3,630.4C741.2,628.6 749.2,627.0 754.1,625.1C759.1,623.2 762.1,621.2 766.0,619.1C770.0,617.0 775.0,613.8 777.9,612.6C780.9,611.4 780.9,611.7 783.9,612.0C786.9,612.3 791.8,613.8 795.8,614.4C799.8,614.9 803.0,615.2 807.7,615.5C812.5,615.8 819.9,615.8 824.4,616.1C828.9,616.4 833.2,617.1 835.0,617.3M716.0,650.0C717.4,649.0 721.4,645.6 724.3,644.1C727.3,642.7 730.9,641.4 733.9,641.2C736.8,641.0 739.2,641.5 742.2,642.9C745.2,644.4 750.1,648.8 751.7,650.0M795.8,650.0C797.2,648.4 801.2,642.9 804.1,640.6C807.1,638.2 810.3,637.0 813.7,635.8C817.1,634.6 820.8,634.2 824.4,633.4C828.0,632.6 833.2,631.4 835.0,631.0"/>
<path clip-path="url(#c23)" d="M875.8,500.0C877.2,501.0 881.3,504.1 884.1,506.0C886.9,507.8 889.7,510.1 892.4,511.3C895.2,512.5 897.8,512.9 900.8,513.1C903.8,513.3 906.7,513.0 910.3,512.5C913.9,512.0 918.3,511.1 922.2,510.1C926.2,509.1 930.2,507.8 934.1,506.6C938.1,505.3 942.7,503.5 946.1,502.4C949.4,501.3 953.0,500.4 954.4,500.0M815.0,523.2C816.6,523.3 820.6,523.5 824.5,523.6C828.5,523.7 834.6,523.7 838.8,523.8C843.1,523.9 844.9,524.0 849.9,524.2C854.9,524.4 863.5,524.3 868.6,525.0C873.7,525.8 876.6,527.0 880.5,528.6C884.5,530.2 888.5,532.9 892.4,534.6C896.4,536.2 901.0,537.9 904.4,538.7C907.7,539.5 909.7,539.8 912.7,539.3C915.7,538.8 918.7,537.3 922.2,535.7C925.8,534.2 930.2,531.5 934.1,529.8C938.1,528.1 941.9,526.4 946.1,525.6C950.2,524.8 957.0,525.1 959.2,525.0M815.0,546.5C815.8,545.7 818.2,543.1 819.8,541.7C821.4,540.3 821.4,538.8 824.5,538.1C827.7,537.4 834.6,537.6 838.8,537.5C843.1,537.5 845.9,537.4 849.9,537.9C853.9,538.4 858.5,539.4 862.7,540.5C866.8,541.6 870.6,543.6 874.6,544.7C878.5,545.8 882.5,546.8 886.5,547.1C890.5,547.4 894.4,547.6 898.4,546.5C902.4,545.4 906.3,542.5 910.3,540.5C914.3,538.5 918.3,536.8 922.2,534.6C926.2,532.3 930.2,528.8 934.1,526.8C938.1,524.8 941.9,523.4 946.1,522.6C950.2,521.8 957.0,522.1 959.2,522.0M815.0,555.4C816.6,555.5 820.6,555.7 824.5,556.0C828.5,556.3 834.6,556.8 838.8,557.2C843.1,557.5 845.9,558.1 849.9,558.1C853.9,558.1 857.6,557.9 862.7,557.2C867.8,556.4 874.6,554.7 880.5,553.6C886.5,552.5 893.4,550.6 898.4,550.6C903.4,550.6 906.3,551.7 910.3,553.6C914.3,555.5 918.3,559.6 922.2,562.0C926.2,564.3 930.2,566.3 934.1,567.9C938.1,569.5 941.9,570.8 946.1,571.5C950.2,572.2 957.0,572.0 959.2,572.1M815.0,564.9C816.6,564.9 821.0,565.6 824.5,564.9C828.1,564.2 832.2,561.9 836.4,560.8C840.7,559.6 847.7,558.6 849.9,558.1M815.0,563.7C816.6,564.1 821.0,564.8 824.5,566.1C828.1,567.4 832.2,569.9 836.4,571.5C840.7,573.1 847.7,575.0 849.9,575.7M815.0,581.0C816.6,581.0 821.0,581.4 824.5,581.0C828.1,580.6 832.2,579.5 836.4,578.6C840.7,577.7 847.7,576.2 849.9,575.7M849.9,575.7C853.0,575.3 862.1,574.0 868.6,573.3C875.1,572.6 883.5,571.4 888.9,571.5C894.2,571.6 896.8,572.7 900.8,573.9C904.8,575.1 908.7,577.2 912.7,578.6C916.7,580.0 920.0,581.5 924.6,582.2C929.2,582.9 934.3,582.8 940.1,582.8C945.9,582.8 956.0,582.3 959.2,582.2M815.0,616.2C816.6,616.1 821.0,615.2 824.5,615.6C828.1,616.0 832.2,617.1 836.4,618.5C840.7,620.0 847.7,623.5 849.9,624.5M815.0,635.2C816.6,634.8 821.0,633.5 824.5,632.8C828.1,632.1 832.2,632.4 836.4,631.1C840.7,629.7 847.7,625.6 849.9,624.5M849.9,624.5C852.0,624.2 858.5,623.6 862.7,622.7C866.8,621.8 870.6,620.5 874.6,619.1C878.5,617.8 882.5,616.3 886.5,614.4C890.5,612.5 894.4,610.0 898.4,607.8C902.4,605.6 906.3,603.3 910.3,601.3C914.3,599.3 918.3,597.3 922.2,595.9C926.2,594.5 930.2,593.7 934.1,592.9C938.1,592.2 941.9,591.8 946.1,591.5C950.2,591.2 957.0,591.2 959.2,591.1M929.4,650.0C931.2,649.2 936.7,646.4 940.1,645.4C943.5,644.3 946.5,643.9 949.6,643.6C952.8,643.3 957.6,643.6 959.2,643.6"/>
<path clip-path="url(#c24)" d="M638.1,677.2C641.0,676.8 649.3,676.8 655.7,675.1C662.0,673.4 669.4,670.6 676.3,666.8C683.2,663.1 691.1,656.9 697.0,652.4C702.8,647.9 709.0,642.1 711.4,640.0M638.1,705.7C641.0,705.1 649.3,704.6 655.7,702.0C662.0,699.3 669.4,695.1 676.3,689.6C683.2,684.1 690.8,675.5 697.0,668.9C703.1,662.4 708.3,654.8 713.5,650.3C718.6,645.9 723.8,643.3 727.9,642.1C732.1,640.9 734.5,641.7 738.3,643.1C742.0,644.5 746.5,647.4 750.6,650.3C754.8,653.3 758.2,657.0 763.0,660.7C767.9,664.3 774.7,668.9 779.6,672.0C784.4,675.1 787.8,677.0 791.9,679.2C796.1,681.5 798.8,684.0 804.3,685.4C809.8,686.9 819.5,687.2 825.0,687.9C830.5,688.6 833.1,688.9 837.4,689.6C841.6,690.2 844.5,691.8 850.4,691.6C856.2,691.5 865.4,690.9 872.5,688.5C879.6,686.1 886.3,681.5 893.1,677.2C900.0,672.9 906.9,667.2 913.8,662.7C920.7,658.2 929.3,653.3 934.4,650.3C939.6,647.4 940.9,646.3 944.8,645.2C948.6,644.1 955.4,644.0 957.6,643.7M638.1,792.8C641.0,792.5 649.3,792.1 655.7,790.8C662.0,789.4 669.4,787.7 676.3,784.6C683.2,781.5 690.1,777.3 697.0,772.2C703.8,767.0 711.4,759.8 717.6,753.6C723.8,747.4 728.6,741.2 734.1,735.0C739.6,728.8 745.8,722.3 750.6,716.4C755.5,710.6 758.9,705.7 763.0,699.9C767.2,694.0 772.0,686.5 775.4,681.3C778.9,676.1 780.6,673.4 783.7,668.9C786.8,664.4 790.2,659.3 794.0,654.5C797.8,649.6 804.3,642.4 806.4,640.0M638.1,810.4C641.0,809.9 649.3,809.5 655.7,807.3C662.0,805.0 669.4,801.4 676.3,796.9C683.2,792.5 690.1,786.3 697.0,780.4C703.8,774.6 711.4,768.4 717.6,761.8C723.8,755.3 728.6,747.7 734.1,741.2C739.6,734.6 745.1,728.5 750.6,722.6C756.2,716.8 762.3,710.0 767.2,706.1C772.0,702.1 774.7,700.6 779.6,698.9C784.4,697.1 788.5,696.3 796.1,695.8C803.6,695.2 815.9,696.0 825.0,695.3C834.0,694.7 846.2,692.6 850.4,692.0"/>
<path clip-path="url(#c25)" d="M635.0,980.3C638.3,980.0 648.2,979.5 654.9,978.4C661.5,977.2 668.1,975.2 674.7,973.4C681.3,971.6 687.9,969.4 694.6,967.4C701.2,965.5 707.8,963.3 714.4,961.5C721.0,959.7 727.7,958.2 734.3,956.5C740.9,954.9 747.5,953.4 754.1,951.6C760.8,949.7 767.4,948.1 774.0,945.6C780.6,943.1 787.9,939.0 793.8,936.7C799.8,934.3 804.6,932.8 809.7,931.7C814.9,930.6 817.9,930.5 824.6,930.3C831.3,930.1 841.9,930.7 850.0,930.7C858.1,930.7 866.1,930.3 873.3,930.1C880.4,929.9 886.5,929.7 893.1,929.7C899.7,929.7 906.4,929.8 913.0,930.1C919.6,930.4 925.6,930.4 932.8,931.3C940.0,932.2 952.4,934.6 956.3,935.3M635.0,986.9C638.3,986.6 648.2,986.6 654.9,985.3C661.5,984.0 668.1,981.7 674.7,979.4C681.3,977.0 687.9,974.1 694.6,971.4C701.2,968.8 707.8,965.9 714.4,963.5C721.0,961.0 731.0,957.7 734.3,956.5M635.0,1064.3C638.3,1064.1 648.2,1064.7 654.9,1062.7C661.5,1060.8 668.1,1057.1 674.7,1052.8C681.3,1048.5 687.9,1042.9 694.6,1036.9C701.2,1031.0 707.8,1023.4 714.4,1017.1C721.0,1010.8 727.7,1004.8 734.3,999.2C740.9,993.6 747.5,988.0 754.1,983.3C760.8,978.7 767.4,974.2 774.0,971.4C780.6,968.6 785.4,967.5 793.8,966.4C802.3,965.4 815.3,965.3 824.6,965.1C834.0,964.8 843.6,965.2 850.0,965.1C856.5,965.0 857.8,965.4 863.3,964.5C868.9,963.5 876.6,961.6 883.2,959.5C889.8,957.3 896.4,954.2 903.1,951.6C909.7,948.9 916.3,945.9 922.9,943.6C929.5,941.3 937.2,939.0 942.8,937.7C948.3,936.3 954.0,935.7 956.3,935.3M635.0,1065.9C638.3,1065.7 648.2,1066.5 654.9,1064.5C661.5,1062.6 668.1,1058.8 674.7,1054.4C681.3,1050.0 687.9,1044.4 694.6,1038.3C701.2,1032.3 711.1,1021.4 714.4,1018.1"/>
</g>
<line x1="146" y1="1133.1" x2="958" y2="1133.1" stroke="#4a4444" stroke-width="1.8"/>
<rect x="154.5" y="36.0" width="804.5" height="1099.8" fill="none" stroke="#0d0a0a" stroke-width="2.4"/>
<line x1="146" y1="35.3" x2="154.5" y2="35.3" stroke="#4a4242" stroke-width="1.8"/>
<line x1="146" y1="157.5" x2="154.5" y2="157.5" stroke="#4a4242" stroke-width="1.8"/>
<line x1="146" y1="279.6" x2="154.5" y2="279.6" stroke="#4a4242" stroke-width="1.8"/>
<line x1="146" y1="401.7" x2="154.5" y2="401.7" stroke="#4a4242" stroke-width="1.8"/>
<line x1="146" y1="523.9" x2="154.5" y2="523.9" stroke="#4a4242" stroke-width="1.8"/>
<line x1="146" y1="646.0" x2="154.5" y2="646.0" stroke="#4a4242" stroke-width="1.8"/>
<line x1="146" y1="768.2" x2="154.5" y2="768.2" stroke="#4a4242" stroke-width="1.8"/>
<line x1="146" y1="890.3" x2="154.5" y2="890.3" stroke="#4a4242" stroke-width="1.8"/>
<line x1="146" y1="1012.4" x2="154.5" y2="1012.4" stroke="#4a4242" stroke-width="1.8"/>
<line x1="146" y1="1134.6" x2="154.5" y2="1134.6" stroke="#4a4242" stroke-width="1.8"/>
<line x1="1805.3" y1="40.6" x2="1805.3" y2="230.5" stroke="#a45cb0" stroke-width="2" stroke-dasharray="28.5 11.8"/>
<path d="M1181.1,217.0C1183.5,217.0 1190.2,217.1 1195.3,217.0C1200.4,216.9 1207.2,217.1 1211.6,216.6C1216.0,216.1 1218.0,215.2 1221.8,214.0C1225.5,212.7 1230.2,210.1 1233.9,208.9C1237.7,207.6 1240.4,207.2 1244.1,206.4C1247.8,205.7 1252.2,205.0 1256.3,204.4C1260.4,203.8 1265.1,203.6 1268.5,202.8C1271.9,202.0 1273.9,201.8 1276.6,199.7C1279.3,197.7 1282.1,195.2 1284.8,190.6C1287.5,186.0 1290.2,179.4 1292.9,172.3C1295.6,165.2 1298.3,155.4 1301.0,147.9C1303.7,140.4 1306.8,131.6 1309.2,127.6C1311.5,123.5 1313.2,123.2 1315.3,123.5C1317.3,123.8 1319.3,125.5 1321.4,129.6C1323.4,133.7 1325.4,140.8 1327.5,147.9C1329.5,155.0 1331.5,164.2 1333.6,172.3C1335.6,180.4 1337.6,190.2 1339.7,196.7C1341.7,203.1 1343.4,207.6 1345.7,210.9C1348.1,214.2 1350.2,215.5 1353.9,216.6C1357.6,217.7 1362.3,217.3 1368.1,217.4C1373.9,217.6 1382.3,217.6 1388.4,217.4C1394.5,217.3 1400.3,217.2 1404.7,216.6C1409.1,216.0 1411.1,215.2 1414.9,214.0C1418.6,212.7 1423.0,210.2 1427.1,208.9C1431.1,207.6 1434.5,206.6 1439.3,206.0C1444.0,205.4 1450.4,205.4 1455.5,205.2C1460.6,205.0 1465.3,205.1 1469.7,204.8C1474.1,204.6 1478.2,204.8 1481.9,203.8C1485.7,202.8 1488.7,201.6 1492.1,198.7C1495.5,195.8 1499.6,189.4 1502.3,186.5C1505.0,183.6 1505.3,182.8 1508.4,181.4C1511.4,180.1 1517.2,180.3 1520.6,178.4C1524.0,176.5 1526.0,173.1 1528.7,170.3C1531.4,167.4 1534.3,163.2 1536.8,161.1C1539.4,159.0 1541.6,157.5 1543.9,157.7C1546.3,157.8 1548.2,160.1 1551.1,162.1C1553.9,164.2 1558.5,169.9 1561.2,169.9C1563.9,169.9 1565.3,166.8 1567.3,162.1C1569.3,157.5 1571.4,147.6 1573.4,141.8C1575.4,136.0 1577.1,131.3 1579.5,127.6C1582.0,123.8 1585.7,122.5 1588.1,119.4C1590.6,116.4 1592.2,114.4 1594.2,109.3C1596.3,104.2 1598.3,96.1 1600.3,88.9C1602.4,81.8 1604.4,72.9 1606.4,66.6C1608.5,60.3 1610.8,54.2 1612.5,51.3C1614.2,48.5 1614.9,48.5 1616.6,49.3C1618.3,50.2 1620.7,52.2 1622.7,56.4C1624.7,60.7 1626.8,68.3 1628.8,74.7C1630.8,81.2 1632.9,88.3 1634.9,95.0C1636.9,101.8 1638.9,108.9 1641.0,115.4C1643.0,121.8 1645.0,128.2 1647.1,133.7C1649.1,139.1 1651.5,145.1 1653.2,147.9C1654.9,150.7 1655.2,150.5 1657.2,150.3C1659.3,150.2 1662.3,148.6 1665.4,146.9C1668.4,145.1 1672.5,143.7 1675.5,139.8C1678.6,135.9 1681.0,128.2 1683.7,123.5C1686.4,118.8 1689.1,114.0 1691.8,111.3C1694.5,108.6 1697.6,107.4 1699.9,107.2C1702.3,107.1 1703.7,108.3 1706.0,110.3C1708.4,112.3 1711.4,115.9 1714.2,119.4C1716.9,123.0 1719.6,126.9 1722.3,131.6C1725.0,136.4 1727.7,143.2 1730.4,147.9C1733.1,152.6 1735.5,156.7 1738.6,160.1C1741.6,163.5 1745.3,166.2 1748.7,168.2C1752.1,170.3 1755.8,171.3 1758.9,172.3C1761.9,173.3 1764.3,174.3 1767.0,174.3C1769.7,174.3 1772.4,173.5 1775.1,172.3C1777.9,171.1 1780.2,169.4 1783.3,167.2C1786.3,165.0 1790.0,161.8 1793.4,159.1C1796.8,156.4 1800.9,152.7 1803.6,150.9C1806.3,149.2 1807.3,149.2 1809.7,148.3C1812.1,147.5 1815.1,147.3 1817.8,145.9C1820.5,144.4 1823.2,141.8 1826.0,139.8C1828.7,137.7 1831.7,134.3 1834.1,133.7C1836.5,133.0 1837.8,134.0 1840.2,135.7C1842.6,137.4 1845.9,141.9 1848.3,143.8C1850.7,145.8 1852.4,147.6 1854.4,147.3C1856.5,146.9 1858.5,145.8 1860.5,141.8C1862.5,137.8 1864.6,130.6 1866.6,123.5C1868.6,116.4 1870.7,106.2 1872.7,99.1C1874.7,92.0 1876.8,85.0 1878.8,80.8C1880.8,76.7 1882.9,75.2 1884.9,74.3C1886.9,73.5 1888.6,73.6 1891.0,75.7C1893.4,77.8 1896.4,82.0 1899.1,86.9C1901.8,91.8 1904.6,98.4 1907.3,105.2C1910.0,112.0 1913.0,122.2 1915.4,127.6C1917.8,133.0 1919.1,134.9 1921.5,137.7C1923.9,140.6 1926.9,141.1 1929.6,144.8C1932.3,148.6 1935.0,154.2 1937.8,160.1C1940.5,166.0 1943.2,173.6 1945.9,180.4C1948.6,187.2 1951.6,195.5 1954.0,200.7C1956.4,206.0 1957.7,209.4 1960.1,211.9C1962.5,214.5 1965.2,215.1 1968.2,216.0C1971.3,216.8 1976.0,216.8 1978.4,217.0C1980.8,217.2 1981.8,217.0 1982.5,217.0" fill="none" stroke="#5c52a3" stroke-width="2.2" stroke-linejoin="round"/>
<rect x="1181.0" y="36.5" width="802.5" height="194.0" fill="none" stroke="#0d0a0a" stroke-width="2.4"/>
<line x1="1165" y1="217.4" x2="1181.0" y2="217.4" stroke="#4a4242" stroke-width="1.8"/>
<line x1="1165" y1="157.3" x2="1181.0" y2="157.3" stroke="#4a4242" stroke-width="1.8"/>
<line x1="1165" y1="97.2" x2="1181.0" y2="97.2" stroke="#4a4242" stroke-width="1.8"/>
<line x1="1165" y1="37.1" x2="1181.0" y2="37.1" stroke="#4a4242" stroke-width="1.8"/>
<line x1="1181.2" y1="230.5" x2="1181.2" y2="244.5" stroke="#4a4242" stroke-width="1.8"/>
<line x1="1270.4" y1="230.5" x2="1270.4" y2="244.5" stroke="#4a4242" stroke-width="1.8"/>
<line x1="1359.5" y1="230.5" x2="1359.5" y2="244.5" stroke="#4a4242" stroke-width="1.8"/>
<line x1="1448.6" y1="230.5" x2="1448.6" y2="244.5" stroke="#4a4242" stroke-width="1.8"/>
<line x1="1537.8" y1="230.5" x2="1537.8" y2="244.5" stroke="#4a4242" stroke-width="1.8"/>
<line x1="1626.9" y1="230.5" x2="1626.9" y2="244.5" stroke="#4a4242" stroke-width="1.8"/>
<line x1="1716.1" y1="230.5" x2="1716.1" y2="244.5" stroke="#4a4242" stroke-width="1.8"/>
<line x1="1805.2" y1="230.5" x2="1805.2" y2="244.5" stroke="#4a4242" stroke-width="1.8"/>
<line x1="1894.3" y1="230.5" x2="1894.3" y2="244.5" stroke="#4a4242" stroke-width="1.8"/>
<line x1="1983.5" y1="230.5" x2="1983.5" y2="244.5" stroke="#4a4242" stroke-width="1.8"/>
<line x1="1805.3" y1="265.8" x2="1805.3" y2="456.5" stroke="#a45cb0" stroke-width="2" stroke-dasharray="28.5 11.8"/>
<path d="M1181.1,443.6C1186.9,443.6 1205.5,443.7 1215.7,443.6C1225.8,443.5 1233.6,443.4 1242.1,443.0C1250.5,442.7 1260.0,442.0 1266.5,441.6C1272.9,441.2 1277.0,441.4 1280.7,440.6C1284.4,439.7 1286.1,438.6 1288.8,436.5C1291.5,434.5 1293.9,431.9 1297.0,428.4C1300.0,424.8 1304.1,418.2 1307.1,415.2C1310.2,412.1 1312.9,410.8 1315.3,410.1C1317.6,409.4 1319.0,409.4 1321.4,411.1C1323.7,412.8 1327.1,416.7 1329.5,420.3C1331.9,423.8 1333.2,428.9 1335.6,432.5C1338.0,436.0 1341.0,439.7 1343.7,441.6C1346.4,443.5 1347.8,443.3 1351.8,443.6C1355.9,444.0 1360.3,443.8 1368.1,443.8C1375.9,443.9 1390.1,443.9 1398.6,443.8C1407.1,443.8 1412.8,443.9 1418.9,443.6C1425.0,443.4 1429.1,442.7 1435.2,442.2C1441.3,441.8 1449.8,441.4 1455.5,441.0C1461.3,440.6 1465.7,440.3 1469.7,439.6C1473.8,438.8 1476.5,437.5 1479.9,436.5C1483.3,435.5 1486.7,435.2 1490.1,433.5C1493.5,431.8 1496.8,428.7 1500.2,426.4C1503.6,424.0 1507.0,421.3 1510.4,419.2C1513.8,417.2 1517.5,416.2 1520.6,414.2C1523.6,412.1 1526.0,409.8 1528.7,407.0C1531.4,404.3 1534.1,400.1 1536.8,397.9C1539.5,395.7 1542.2,394.0 1545.0,393.8C1547.7,393.7 1550.4,395.4 1553.1,396.9C1555.8,398.4 1558.8,402.8 1561.2,403.0C1563.6,403.1 1565.3,400.8 1567.3,397.9C1569.3,395.0 1571.4,389.4 1573.4,385.7C1575.4,382.0 1577.1,378.9 1579.5,375.5C1582.0,372.2 1585.3,370.1 1588.1,365.4C1590.9,360.6 1593.9,353.5 1596.3,347.1C1598.6,340.6 1600.3,333.5 1602.4,326.8C1604.4,320.0 1606.3,311.2 1608.5,306.4C1610.7,301.7 1613.2,298.3 1615.6,298.3C1617.9,298.3 1620.5,302.0 1622.7,306.4C1624.9,310.8 1626.8,318.3 1628.8,324.7C1630.8,331.2 1632.9,338.3 1634.9,345.0C1636.9,351.8 1638.6,359.4 1641.0,365.4C1643.4,371.3 1646.4,378.2 1649.1,380.6C1651.8,383.0 1654.2,381.8 1657.2,379.6C1660.3,377.4 1664.4,371.1 1667.4,367.4C1670.5,363.7 1673.2,361.6 1675.5,357.2C1677.9,352.8 1679.6,346.4 1681.6,341.0C1683.7,335.6 1685.7,329.0 1687.7,324.7C1689.8,320.5 1691.8,317.3 1693.8,315.6C1695.9,313.9 1697.6,314.0 1699.9,314.6C1702.3,315.1 1705.0,316.9 1708.1,318.6C1711.1,320.3 1714.8,321.3 1718.2,324.7C1721.6,328.1 1725.3,334.5 1728.4,338.9C1731.4,343.4 1733.5,346.7 1736.5,351.1C1739.6,355.5 1743.3,361.6 1746.7,365.4C1750.1,369.1 1753.5,371.8 1756.8,373.5C1760.2,375.2 1764.0,375.7 1767.0,375.5C1770.1,375.4 1772.4,374.9 1775.1,372.5C1777.9,370.1 1780.6,365.5 1783.3,361.3C1786.0,357.1 1788.7,352.2 1791.4,347.1C1794.1,342.0 1797.2,335.2 1799.5,330.8C1801.9,326.4 1803.6,322.9 1805.6,320.7C1807.7,318.5 1809.4,318.6 1811.7,317.6C1814.1,316.6 1817.2,316.4 1819.9,314.6C1822.6,312.7 1825.6,307.9 1828.0,306.4C1830.4,304.9 1832.1,304.4 1834.1,305.4C1836.1,306.4 1838.2,309.0 1840.2,312.5C1842.2,316.1 1844.3,322.0 1846.3,326.8C1848.3,331.5 1850.0,337.1 1852.4,341.0C1854.8,344.9 1857.8,348.9 1860.5,350.1C1863.2,351.3 1865.9,350.6 1868.6,348.1C1871.4,345.6 1874.1,339.8 1876.8,334.9C1879.5,330.0 1882.5,322.8 1884.9,318.6C1887.3,314.5 1889.0,311.4 1891.0,310.1C1893.0,308.7 1895.1,308.7 1897.1,310.5C1899.1,312.3 1901.2,314.9 1903.2,320.7C1905.2,326.4 1907.3,336.6 1909.3,345.0C1911.3,353.5 1913.0,363.7 1915.4,371.5C1917.8,379.3 1920.5,386.4 1923.5,391.8C1926.6,397.2 1930.3,399.6 1933.7,404.0C1937.1,408.4 1940.5,413.1 1943.9,418.2C1947.2,423.3 1951.0,430.4 1954.0,434.5C1957.1,438.6 1959.4,441.1 1962.2,442.6C1964.9,444.2 1966.9,443.6 1970.3,443.8C1973.7,444.0 1980.4,443.8 1982.5,443.8" fill="none" stroke="#64b450" stroke-width="2.2" stroke-linejoin="round" stroke-dasharray="39 22"/>
<path d="M1181.1,443.6C1186.9,443.6 1205.5,443.7 1215.7,443.6C1225.8,443.5 1233.6,443.4 1242.1,443.0C1250.5,442.7 1260.0,442.0 1266.5,441.6C1272.9,441.2 1277.0,441.4 1280.7,440.6C1284.4,439.7 1286.1,438.6 1288.8,436.5C1291.5,434.5 1293.9,431.9 1297.0,428.4C1300.0,424.8 1304.1,418.2 1307.1,415.2C1310.2,412.1 1312.9,410.8 1315.3,410.1C1317.6,409.4 1319.0,409.4 1321.4,411.1C1323.7,412.8 1327.1,416.7 1329.5,420.3C1331.9,423.8 1333.2,428.9 1335.6,432.5C1338.0,436.0 1341.0,439.7 1343.7,441.6C1346.4,443.5 1347.8,443.3 1351.8,443.6C1355.9,444.0 1360.3,443.8 1368.1,443.8C1375.9,443.9 1390.1,443.9 1398.6,443.8C1407.1,443.8 1412.8,443.9 1418.9,443.6C1425.0,443.4 1429.1,442.7 1435.2,442.2C1441.3,441.8 1449.8,441.4 1455.5,441.0C1461.3,440.6 1465.7,440.3 1469.7,439.6C1473.8,438.8 1476.5,437.5 1479.9,436.5C1483.3,435.5 1486.7,435.2 1490.1,433.5C1493.5,431.8 1496.8,428.7 1500.2,426.4C1503.6,424.0 1507.0,421.3 1510.4,419.2C1513.8,417.2 1517.5,416.2 1520.6,414.2C1523.6,412.1 1526.0,409.8 1528.7,407.0C1531.4,404.3 1534.1,400.1 1536.8,397.9C1539.5,395.7 1542.2,394.0 1545.0,393.8C1547.7,393.7 1550.4,395.4 1553.1,396.9C1555.8,398.4 1558.8,402.8 1561.2,403.0C1563.6,403.1 1565.3,400.8 1567.3,397.9C1569.3,395.0 1571.4,389.4 1573.4,385.7C1575.4,382.0 1577.1,378.9 1579.5,375.5C1582.0,372.2 1585.3,370.1 1588.1,365.4C1590.9,360.6 1593.9,353.5 1596.3,347.1C1598.6,340.6 1600.3,333.5 1602.4,326.8C1604.4,320.0 1606.3,311.2 1608.5,306.4C1610.7,301.7 1613.2,298.3 1615.6,298.3C1617.9,298.3 1620.5,302.0 1622.7,306.4C1624.9,310.8 1626.8,318.3 1628.8,324.7C1630.8,331.2 1632.9,338.3 1634.9,345.0C1636.9,351.8 1638.6,359.4 1641.0,365.4C1643.4,371.3 1646.4,378.2 1649.1,380.6C1651.8,383.0 1654.2,381.8 1657.2,379.6C1660.3,377.4 1664.4,371.1 1667.4,367.4C1670.5,363.7 1673.2,361.6 1675.5,357.2C1677.9,352.8 1679.6,346.4 1681.6,341.0C1683.7,335.6 1685.7,329.0 1687.7,324.7C1689.8,320.5 1691.8,317.3 1693.8,315.6C1695.9,313.9 1697.6,314.0 1699.9,314.6C1702.3,315.1 1705.0,316.9 1708.1,318.6C1711.1,320.3 1714.8,321.3 1718.2,324.7C1721.6,328.1 1725.3,334.5 1728.4,338.9C1731.4,343.4 1733.5,346.7 1736.5,351.1C1739.6,355.5 1743.3,361.6 1746.7,365.4C1750.1,369.1 1753.5,371.8 1756.8,373.5C1760.2,375.2 1764.0,375.7 1767.0,375.5C1770.1,375.4 1772.4,374.9 1775.1,372.5C1777.9,370.1 1780.6,365.5 1783.3,361.3C1786.0,357.1 1788.7,352.2 1791.4,347.1C1794.1,342.0 1797.2,335.2 1799.5,330.8C1801.9,326.4 1803.6,322.9 1805.6,320.7C1807.7,318.5 1809.4,318.6 1811.7,317.6C1814.1,316.6 1817.2,316.4 1819.9,314.6C1822.6,312.7 1825.6,307.9 1828.0,306.4C1830.4,304.9 1832.1,304.4 1834.1,305.4C1836.1,306.4 1838.2,309.0 1840.2,312.5C1842.2,316.1 1844.3,322.0 1846.3,326.8C1848.3,331.5 1850.0,337.1 1852.4,341.0C1854.8,344.9 1857.8,348.9 1860.5,350.1C1863.2,351.3 1865.9,350.6 1868.6,348.1C1871.4,345.6 1874.1,339.8 1876.8,334.9C1879.5,330.0 1882.5,322.8 1884.9,318.6C1887.3,314.5 1889.0,311.4 1891.0,310.1C1893.0,308.7 1895.1,308.7 1897.1,310.5C1899.1,312.3 1901.2,314.9 1903.2,320.7C1905.2,326.4 1907.3,336.6 1909.3,345.0C1911.3,353.5 1913.0,363.7 1915.4,371.5C1917.8,379.3 1920.5,386.4 1923.5,391.8C1926.6,397.2 1930.3,399.6 1933.7,404.0C1937.1,408.4 1940.5,413.1 1943.9,418.2C1947.2,423.3 1951.0,430.4 1954.0,434.5C1957.1,438.6 1959.4,441.1 1962.2,442.6C1964.9,444.2 1966.9,443.6 1970.3,443.8C1973.7,444.0 1980.4,443.8 1982.5,443.8" fill="none" stroke="#cfe4c4" stroke-width="2" stroke-dasharray="0 49.5 2 9.5"/>
<path d="M1181.1,443.6C1186.9,443.6 1206.5,443.9 1215.7,443.6C1224.8,443.4 1229.2,442.4 1236.0,442.0C1242.8,441.6 1249.5,441.4 1256.3,441.2C1263.1,441.0 1271.2,441.0 1276.6,440.6C1282.1,440.2 1284.8,439.6 1288.8,439.0C1292.9,438.3 1297.0,437.1 1301.0,436.5C1305.1,435.9 1309.8,435.5 1313.2,435.5C1316.6,435.5 1318.0,435.7 1321.4,436.5C1324.7,437.4 1329.5,439.4 1333.6,440.6C1337.6,441.8 1340.0,443.1 1345.7,443.6C1351.5,444.2 1359.3,443.8 1368.1,443.8C1376.9,443.8 1390.1,444.0 1398.6,443.6C1407.1,443.3 1413.2,442.4 1418.9,441.8C1424.7,441.2 1428.1,440.0 1433.2,439.8C1438.2,439.5 1443.3,439.9 1449.4,440.2C1455.5,440.5 1463.0,441.4 1469.7,441.6C1476.5,441.8 1483.3,441.2 1490.1,441.2C1496.8,441.2 1505.3,441.5 1510.4,441.6C1515.5,441.7 1515.5,442.2 1520.6,442.0C1525.6,441.8 1534.1,440.8 1540.9,440.6C1547.7,440.3 1556.1,440.9 1561.2,440.6C1566.3,440.2 1566.2,439.6 1571.4,438.6C1576.5,437.5 1586.7,435.7 1592.2,434.5C1597.7,433.3 1600.3,432.3 1604.4,431.4C1608.5,430.6 1612.5,429.6 1616.6,429.4C1620.7,429.2 1625.1,429.7 1628.8,430.0C1632.5,430.4 1635.6,430.7 1638.9,431.4C1642.3,432.2 1645.7,433.7 1649.1,434.5C1652.5,435.3 1655.9,436.5 1659.3,436.1C1662.7,435.8 1666.1,434.4 1669.4,432.5C1672.8,430.5 1675.9,427.4 1679.6,424.3C1683.3,421.3 1687.7,416.9 1691.8,414.2C1695.9,411.4 1700.3,408.7 1704.0,408.1C1707.7,407.4 1710.8,408.4 1714.2,410.1C1717.5,411.8 1720.9,414.8 1724.3,418.2C1727.7,421.6 1731.1,427.2 1734.5,430.4C1737.9,433.6 1740.9,435.9 1744.7,437.5C1748.4,439.2 1752.8,439.7 1756.8,440.2C1760.9,440.7 1764.6,440.6 1769.0,440.6C1773.4,440.6 1778.9,440.2 1783.3,440.0C1787.7,439.7 1791.7,439.4 1795.5,439.0C1799.2,438.6 1801.9,438.3 1805.6,437.5C1809.4,436.8 1813.8,435.6 1817.8,434.5C1821.9,433.4 1826.3,431.2 1830.0,430.8C1833.8,430.5 1836.8,431.6 1840.2,432.5C1843.6,433.3 1846.6,435.3 1850.4,436.1C1854.1,437.0 1858.5,437.5 1862.5,437.5C1866.6,437.5 1871.0,436.5 1874.7,436.1C1878.5,435.8 1881.2,435.4 1884.9,435.5C1888.6,435.6 1893.0,436.4 1897.1,436.9C1901.2,437.4 1904.6,438.0 1909.3,438.6C1914.0,439.1 1920.1,439.6 1925.6,440.2C1931.0,440.8 1936.7,441.4 1941.8,442.0C1946.9,442.6 1951.3,443.3 1956.1,443.6C1960.8,443.9 1965.9,443.8 1970.3,443.8C1974.7,443.9 1980.4,443.8 1982.5,443.8" fill="none" stroke="#e03c32" stroke-width="2.2" stroke-linejoin="round"/>
<path d="M1181.1,443.6C1186.9,443.6 1206.5,443.9 1215.7,443.6C1224.8,443.4 1229.2,442.5 1236.0,442.2C1242.8,441.9 1249.5,441.7 1256.3,441.6C1263.1,441.5 1271.2,441.9 1276.6,441.6C1282.1,441.3 1284.4,440.3 1288.8,439.6C1293.2,438.8 1299.0,437.1 1303.1,436.9C1307.1,436.8 1309.5,437.6 1313.2,438.6C1317.0,439.5 1321.4,441.7 1325.4,442.6C1329.5,443.5 1330.5,443.6 1337.6,443.8C1344.7,444.0 1357.9,443.8 1368.1,443.8C1378.3,443.8 1390.1,444.1 1398.6,443.8C1407.1,443.5 1413.2,442.5 1418.9,442.0C1424.7,441.5 1428.1,440.8 1433.2,440.6C1438.2,440.4 1443.3,440.8 1449.4,441.0C1455.5,441.2 1463.0,441.4 1469.7,441.6C1476.5,441.8 1483.3,441.9 1490.1,442.0C1496.8,442.1 1503.6,442.1 1510.4,442.0C1517.2,441.9 1524.0,441.7 1530.7,441.6C1537.5,441.5 1545.3,441.5 1551.1,441.2C1556.8,440.9 1561.6,440.7 1565.3,439.6C1569.0,438.5 1570.7,435.5 1573.4,434.5C1576.1,433.5 1579.1,433.5 1581.5,433.5C1584.0,433.5 1585.0,434.0 1588.1,434.5C1591.3,435.0 1596.3,435.7 1600.3,436.5C1604.4,437.4 1608.1,438.6 1612.5,439.6C1616.9,440.6 1621.0,442.0 1626.8,442.6C1632.5,443.2 1639.6,443.1 1647.1,443.2C1654.5,443.4 1662.3,443.7 1671.5,443.6C1680.6,443.6 1693.5,443.0 1702.0,443.0C1710.4,443.1 1715.5,443.6 1722.3,443.8C1729.1,444.0 1735.8,444.2 1742.6,444.2C1749.4,444.2 1756.2,444.0 1762.9,443.8C1769.7,443.7 1776.5,443.6 1783.3,443.4C1790.0,443.2 1796.8,443.0 1803.6,442.6C1810.4,442.2 1817.2,441.3 1823.9,441.2C1830.7,441.1 1838.2,441.6 1844.3,442.0C1850.4,442.4 1855.4,443.6 1860.5,443.6C1865.6,443.6 1870.7,442.4 1874.7,442.0C1878.8,441.6 1881.2,441.0 1884.9,441.0C1888.6,441.0 1892.0,441.7 1897.1,442.0C1902.2,442.3 1910.0,442.7 1915.4,442.6C1920.8,442.5 1924.5,441.7 1929.6,441.6C1934.7,441.5 1940.5,441.9 1945.9,442.2C1951.3,442.5 1956.1,443.3 1962.2,443.6C1968.2,444.0 1979.1,444.1 1982.5,444.2" fill="none" stroke="#3a62b0" stroke-width="2.2" stroke-linejoin="round" stroke-dasharray="29 11.2"/>
<rect x="1181.0" y="264.5" width="802.5" height="192.0" fill="none" stroke="#0d0a0a" stroke-width="2.4"/>
<line x1="1165" y1="444.2" x2="1181.0" y2="444.2" stroke="#4a4242" stroke-width="1.8"/>
<line x1="1165" y1="383.7" x2="1181.0" y2="383.7" stroke="#4a4242" stroke-width="1.8"/>
<line x1="1165" y1="323.2" x2="1181.0" y2="323.2" stroke="#4a4242" stroke-width="1.8"/>
<line x1="1165" y1="262.7" x2="1181.0" y2="262.7" stroke="#4a4242" stroke-width="1.8"/>
<line x1="1181.2" y1="456.5" x2="1181.2" y2="470.5" stroke="#4a4242" stroke-width="1.8"/>
<line x1="1270.4" y1="456.5" x2="1270.4" y2="470.5" stroke="#4a4242" stroke-width="1.8"/>
<line x1="1359.5" y1="456.5" x2="1359.5" y2="470.5" stroke="#4a4242" stroke-width="1.8"/>
<line x1="1448.6" y1="456.5" x2="1448.6" y2="470.5" stroke="#4a4242" stroke-width="1.8"/>
<line x1="1537.8" y1="456.5" x2="1537.8" y2="470.5" stroke="#4a4242" stroke-width="1.8"/>
<line x1="1626.9" y1="456.5" x2="1626.9" y2="470.5" stroke="#4a4242" stroke-width="1.8"/>
<line x1="1716.1" y1="456.5" x2="1716.1" y2="470.5" stroke="#4a4242" stroke-width="1.8"/>
<line x1="1805.2" y1="456.5" x2="1805.2" y2="470.5" stroke="#4a4242" stroke-width="1.8"/>
<line x1="1894.3" y1="456.5" x2="1894.3" y2="470.5" stroke="#4a4242" stroke-width="1.8"/>
<line x1="1983.5" y1="456.5" x2="1983.5" y2="470.5" stroke="#4a4242" stroke-width="1.8"/>
<line x1="1805.3" y1="494.0" x2="1805.3" y2="682.0" stroke="#a45cb0" stroke-width="2" stroke-dasharray="28.5 11.8"/>
<path d="M1183.1,669.7C1191.9,669.7 1222.1,669.8 1236.0,669.7C1249.9,669.6 1259.0,669.4 1266.5,669.1C1273.9,668.9 1277.0,668.9 1280.7,668.3C1284.4,667.7 1286.1,667.0 1288.8,665.7C1291.5,664.4 1294.3,662.4 1297.0,660.6C1299.7,658.7 1302.6,655.8 1305.1,654.5C1307.6,653.1 1309.8,652.5 1312.2,652.5C1314.6,652.5 1317.1,653.3 1319.3,654.5C1321.5,655.7 1323.0,657.7 1325.4,659.6C1327.8,661.4 1330.5,664.1 1333.6,665.7C1336.6,667.3 1339.7,668.4 1343.7,669.1C1347.8,669.8 1345.4,669.6 1357.9,669.7C1370.5,669.8 1402.0,669.7 1418.9,669.7C1435.9,669.7 1449.4,669.8 1459.6,669.7C1469.7,669.6 1474.5,669.5 1479.9,669.1C1485.3,668.8 1488.7,668.4 1492.1,667.7C1495.5,667.0 1497.2,665.5 1500.2,664.7C1503.3,663.8 1507.0,663.1 1510.4,662.6C1513.8,662.1 1516.5,661.8 1520.6,661.6C1524.6,661.4 1530.7,661.0 1534.8,661.2C1538.9,661.4 1541.9,662.1 1545.0,662.6C1548.0,663.1 1550.4,664.1 1553.1,664.2C1555.8,664.4 1558.2,664.4 1561.2,663.6C1564.3,662.9 1568.3,661.3 1571.4,659.6C1574.4,657.9 1576.7,655.3 1579.5,653.5C1582.3,651.6 1585.3,650.7 1588.1,648.6C1590.9,646.4 1593.6,643.8 1596.3,640.4C1599.0,637.0 1601.7,632.0 1604.4,628.2C1607.1,624.5 1610.2,620.2 1612.5,618.1C1614.9,616.0 1616.3,615.5 1618.6,615.6C1621.0,615.8 1624.0,617.0 1626.8,619.1C1629.5,621.2 1632.2,625.0 1634.9,628.2C1637.6,631.4 1640.3,635.0 1643.0,638.4C1645.7,641.8 1648.4,646.2 1651.1,648.6C1653.9,650.9 1656.6,651.7 1659.3,652.2C1662.0,652.7 1664.4,652.9 1667.4,651.6C1670.5,650.3 1674.2,646.5 1677.6,644.5C1681.0,642.5 1684.7,640.1 1687.7,639.4C1690.8,638.7 1692.8,639.1 1695.9,640.4C1698.9,641.8 1702.3,645.3 1706.0,647.5C1709.8,649.7 1714.2,652.8 1718.2,653.6C1722.3,654.5 1727.0,653.3 1730.4,652.6C1733.8,651.9 1735.8,650.2 1738.6,649.6C1741.3,648.9 1743.6,648.2 1746.7,648.6C1749.7,648.9 1753.5,650.6 1756.8,651.6C1760.2,652.6 1762.6,654.2 1767.0,654.7C1771.4,655.1 1777.2,654.3 1783.3,654.2C1789.4,654.2 1798.5,654.3 1803.6,654.2C1808.7,654.1 1810.4,654.1 1813.8,653.6C1817.2,653.2 1820.2,652.8 1823.9,651.6C1827.7,650.4 1832.1,648.2 1836.1,646.5C1840.2,644.8 1844.9,643.8 1848.3,641.4C1851.7,639.1 1854.1,637.2 1856.5,632.3C1858.8,627.4 1860.5,621.4 1862.5,612.0C1864.6,602.5 1866.6,587.2 1868.6,575.4C1870.7,563.5 1872.7,551.3 1874.7,540.8C1876.8,530.3 1879.1,518.5 1880.8,512.4C1882.5,506.3 1883.2,505.6 1884.9,504.2C1886.6,502.9 1889.0,501.9 1891.0,504.2C1893.0,506.6 1894.7,511.3 1897.1,518.5C1899.5,525.6 1902.5,539.5 1905.2,546.9C1907.9,554.4 1910.0,558.8 1913.4,563.2C1916.8,567.6 1922.2,569.3 1925.6,573.3C1929.0,577.4 1931.3,582.2 1933.7,587.6C1936.1,593.0 1937.8,598.8 1939.8,605.9C1941.8,613.0 1943.9,623.1 1945.9,630.3C1947.9,637.4 1949.6,642.8 1952.0,648.6C1954.4,654.3 1957.1,661.3 1960.1,664.8C1963.2,668.3 1966.6,668.6 1970.3,669.5C1974.0,670.4 1980.4,670.0 1982.5,670.1" fill="none" stroke="#64b450" stroke-width="2.2" stroke-linejoin="round" stroke-dasharray="39 22"/>
<path d="M1183.1,669.7C1191.9,669.7 1222.1,669.8 1236.0,669.7C1249.9,669.6 1259.0,669.4 1266.5,669.1C1273.9,668.9 1277.0,668.9 1280.7,668.3C1284.4,667.7 1286.1,667.0 1288.8,665.7C1291.5,664.4 1294.3,662.4 1297.0,660.6C1299.7,658.7 1302.6,655.8 1305.1,654.5C1307.6,653.1 1309.8,652.5 1312.2,652.5C1314.6,652.5 1317.1,653.3 1319.3,654.5C1321.5,655.7 1323.0,657.7 1325.4,659.6C1327.8,661.4 1330.5,664.1 1333.6,665.7C1336.6,667.3 1339.7,668.4 1343.7,669.1C1347.8,669.8 1345.4,669.6 1357.9,669.7C1370.5,669.8 1402.0,669.7 1418.9,669.7C1435.9,669.7 1449.4,669.8 1459.6,669.7C1469.7,669.6 1474.5,669.5 1479.9,669.1C1485.3,668.8 1488.7,668.4 1492.1,667.7C1495.5,667.0 1497.2,665.5 1500.2,664.7C1503.3,663.8 1507.0,663.1 1510.4,662.6C1513.8,662.1 1516.5,661.8 1520.6,661.6C1524.6,661.4 1530.7,661.0 1534.8,661.2C1538.9,661.4 1541.9,662.1 1545.0,662.6C1548.0,663.1 1550.4,664.1 1553.1,664.2C1555.8,664.4 1558.2,664.4 1561.2,663.6C1564.3,662.9 1568.3,661.3 1571.4,659.6C1574.4,657.9 1576.7,655.3 1579.5,653.5C1582.3,651.6 1585.3,650.7 1588.1,648.6C1590.9,646.4 1593.6,643.8 1596.3,640.4C1599.0,637.0 1601.7,632.0 1604.4,628.2C1607.1,624.5 1610.2,620.2 1612.5,618.1C1614.9,616.0 1616.3,615.5 1618.6,615.6C1621.0,615.8 1624.0,617.0 1626.8,619.1C1629.5,621.2 1632.2,625.0 1634.9,628.2C1637.6,631.4 1640.3,635.0 1643.0,638.4C1645.7,641.8 1648.4,646.2 1651.1,648.6C1653.9,650.9 1656.6,651.7 1659.3,652.2C1662.0,652.7 1664.4,652.9 1667.4,651.6C1670.5,650.3 1674.2,646.5 1677.6,644.5C1681.0,642.5 1684.7,640.1 1687.7,639.4C1690.8,638.7 1692.8,639.1 1695.9,640.4C1698.9,641.8 1702.3,645.3 1706.0,647.5C1709.8,649.7 1714.2,652.8 1718.2,653.6C1722.3,654.5 1727.0,653.3 1730.4,652.6C1733.8,651.9 1735.8,650.2 1738.6,649.6C1741.3,648.9 1743.6,648.2 1746.7,648.6C1749.7,648.9 1753.5,650.6 1756.8,651.6C1760.2,652.6 1762.6,654.2 1767.0,654.7C1771.4,655.1 1777.2,654.3 1783.3,654.2C1789.4,654.2 1798.5,654.3 1803.6,654.2C1808.7,654.1 1810.4,654.1 1813.8,653.6C1817.2,653.2 1820.2,652.8 1823.9,651.6C1827.7,650.4 1832.1,648.2 1836.1,646.5C1840.2,644.8 1844.9,643.8 1848.3,641.4C1851.7,639.1 1854.1,637.2 1856.5,632.3C1858.8,627.4 1860.5,621.4 1862.5,612.0C1864.6,602.5 1866.6,587.2 1868.6,575.4C1870.7,563.5 1872.7,551.3 1874.7,540.8C1876.8,530.3 1879.1,518.5 1880.8,512.4C1882.5,506.3 1883.2,505.6 1884.9,504.2C1886.6,502.9 1889.0,501.9 1891.0,504.2C1893.0,506.6 1894.7,511.3 1897.1,518.5C1899.5,525.6 1902.5,539.5 1905.2,546.9C1907.9,554.4 1910.0,558.8 1913.4,563.2C1916.8,567.6 1922.2,569.3 1925.6,573.3C1929.0,577.4 1931.3,582.2 1933.7,587.6C1936.1,593.0 1937.8,598.8 1939.8,605.9C1941.8,613.0 1943.9,623.1 1945.9,630.3C1947.9,637.4 1949.6,642.8 1952.0,648.6C1954.4,654.3 1957.1,661.3 1960.1,664.8C1963.2,668.3 1966.6,668.6 1970.3,669.5C1974.0,670.4 1980.4,670.0 1982.5,670.1" fill="none" stroke="#cfe4c4" stroke-width="2" stroke-dasharray="0 49.5 2 9.5"/>
<path d="M1183.1,669.7C1188.6,669.7 1206.8,669.8 1215.7,669.7C1224.5,669.7 1229.2,669.5 1236.0,669.3C1242.8,669.2 1250.2,668.9 1256.3,668.7C1262.4,668.5 1267.8,668.6 1272.6,668.1C1277.3,667.6 1280.7,666.5 1284.8,665.7C1288.8,664.9 1292.9,663.7 1297.0,663.2C1301.0,662.7 1305.4,662.7 1309.2,662.6C1312.9,662.5 1315.9,662.3 1319.3,662.6C1322.7,663.0 1326.4,663.7 1329.5,664.7C1332.5,665.6 1334.6,667.5 1337.6,668.3C1340.7,669.2 1341.0,669.5 1347.8,669.7C1354.6,670.0 1363.0,669.7 1378.3,669.7C1393.5,669.7 1422.3,669.7 1439.3,669.7C1456.2,669.7 1469.7,669.8 1479.9,669.7C1490.1,669.7 1493.5,669.5 1500.2,669.3C1507.0,669.2 1513.8,669.0 1520.6,668.7C1527.3,668.5 1535.1,668.1 1540.9,667.9C1546.6,667.7 1551.1,667.8 1555.1,667.3C1559.2,666.8 1561.9,665.8 1565.3,665.1C1568.7,664.3 1571.0,663.3 1575.4,662.6C1579.9,662.0 1588.0,661.8 1592.2,661.2C1596.3,660.5 1597.6,659.3 1600.3,658.7C1603.0,658.1 1605.7,657.5 1608.5,657.7C1611.2,657.9 1613.5,658.7 1616.6,659.7C1619.6,660.7 1623.0,662.7 1626.8,663.8C1630.5,664.8 1633.9,665.4 1638.9,666.0C1644.0,666.7 1651.5,667.5 1657.2,667.9C1663.0,668.3 1668.8,668.5 1673.5,668.5C1678.2,668.5 1682.0,668.1 1685.7,667.9C1689.4,667.7 1692.5,667.2 1695.9,667.3C1699.3,667.3 1701.6,667.8 1706.0,668.1C1710.4,668.3 1716.2,668.7 1722.3,668.9C1728.4,669.0 1735.8,668.8 1742.6,668.9C1749.4,668.9 1756.2,669.2 1762.9,669.3C1769.7,669.4 1776.5,669.6 1783.3,669.7C1790.0,669.8 1793.4,669.9 1803.6,669.9C1813.8,669.9 1830.7,669.8 1844.3,669.7C1857.8,669.6 1871.4,669.4 1884.9,669.3C1898.5,669.2 1913.7,669.2 1925.6,669.3C1937.4,669.4 1946.6,669.6 1956.1,669.7C1965.5,669.8 1978.1,670.0 1982.5,670.1" fill="none" stroke="#e03c32" stroke-width="2.2" stroke-linejoin="round"/>
<path d="M1183.1,669.7C1198.7,669.7 1257.7,669.5 1276.6,669.3C1295.6,669.2 1290.2,668.7 1297.0,668.7C1303.7,668.7 1310.5,669.1 1317.3,669.3C1324.1,669.5 1330.8,669.8 1337.6,669.9C1344.4,670.0 1334.2,669.9 1357.9,669.9C1381.7,669.9 1452.8,670.1 1479.9,669.9C1507.0,669.7 1510.4,669.1 1520.6,668.7C1530.7,668.4 1534.8,668.1 1540.9,667.9C1547.0,667.7 1552.1,667.5 1557.2,667.7C1562.2,667.9 1560.8,668.9 1571.4,669.3C1582.0,669.8 1605.7,670.2 1620.7,670.3C1635.6,670.4 1647.8,669.9 1661.3,669.7C1674.9,669.5 1688.4,669.4 1702.0,669.3C1715.5,669.2 1729.1,669.2 1742.6,669.3C1756.2,669.4 1769.7,669.6 1783.3,669.7C1796.8,669.8 1807.0,670.2 1823.9,670.1C1840.9,670.0 1868.0,669.5 1884.9,669.3C1901.8,669.1 1909.3,668.9 1925.6,669.1C1941.8,669.2 1973.0,669.9 1982.5,670.1" fill="none" stroke="#3a62b0" stroke-width="2.2" stroke-linejoin="round" stroke-dasharray="29 11.2"/>
<rect x="1183.5" y="491.6" width="800.0" height="190.39999999999998" fill="none" stroke="#0d0a0a" stroke-width="2.4"/>
<line x1="1165" y1="489.2" x2="1983.5" y2="489.2" stroke="#4a4242" stroke-width="1.8"/>
<line x1="1181.4" y1="489" x2="1181.4" y2="698" stroke="#4a4242" stroke-width="1.8"/>
<line x1="1165" y1="669.6" x2="1183.5" y2="669.6" stroke="#4a4242" stroke-width="1.8"/>
<line x1="1165" y1="609.2" x2="1183.5" y2="609.2" stroke="#4a4242" stroke-width="1.8"/>
<line x1="1165" y1="548.8" x2="1183.5" y2="548.8" stroke="#4a4242" stroke-width="1.8"/>
<line x1="1165" y1="488.4" x2="1183.5" y2="488.4" stroke="#4a4242" stroke-width="1.8"/>
<line x1="1181.2" y1="682.0" x2="1181.2" y2="696.0" stroke="#4a4242" stroke-width="1.8"/>
<line x1="1270.4" y1="682.0" x2="1270.4" y2="696.0" stroke="#4a4242" stroke-width="1.8"/>
<line x1="1359.5" y1="682.0" x2="1359.5" y2="696.0" stroke="#4a4242" stroke-width="1.8"/>
<line x1="1448.6" y1="682.0" x2="1448.6" y2="696.0" stroke="#4a4242" stroke-width="1.8"/>
<line x1="1537.8" y1="682.0" x2="1537.8" y2="696.0" stroke="#4a4242" stroke-width="1.8"/>
<line x1="1626.9" y1="682.0" x2="1626.9" y2="696.0" stroke="#4a4242" stroke-width="1.8"/>
<line x1="1716.1" y1="682.0" x2="1716.1" y2="696.0" stroke="#4a4242" stroke-width="1.8"/>
<line x1="1805.2" y1="682.0" x2="1805.2" y2="696.0" stroke="#4a4242" stroke-width="1.8"/>
<line x1="1894.3" y1="682.0" x2="1894.3" y2="696.0" stroke="#4a4242" stroke-width="1.8"/>
<line x1="1983.5" y1="682.0" x2="1983.5" y2="696.0" stroke="#4a4242" stroke-width="1.8"/>
<line x1="1805.3" y1="718.6" x2="1805.3" y2="905.5" stroke="#a45cb0" stroke-width="2" stroke-dasharray="28.5 11.8"/>
<path d="M1181.1,894.0C1186.9,894.0 1203.1,894.0 1215.7,894.0C1228.2,894.0 1245.5,893.9 1256.3,893.8C1267.2,893.7 1273.9,893.4 1280.7,893.2C1287.5,893.0 1290.9,892.3 1297.0,892.4C1303.1,892.4 1310.5,893.1 1317.3,893.4C1324.1,893.7 1327.5,893.9 1337.6,894.0C1347.8,894.1 1368.1,894.0 1378.3,894.0C1388.4,894.0 1392.5,894.1 1398.6,894.0C1404.7,893.9 1410.1,893.8 1414.9,893.4C1419.6,893.0 1423.0,892.3 1427.1,891.4C1431.1,890.4 1435.2,888.9 1439.3,887.7C1443.3,886.5 1447.0,885.2 1451.5,884.2C1455.9,883.3 1460.9,882.5 1465.7,881.8C1470.4,881.1 1475.5,880.8 1479.9,880.2C1484.3,879.6 1488.0,878.8 1492.1,878.1C1496.2,877.5 1500.9,876.5 1504.3,876.5C1507.7,876.6 1509.4,877.5 1512.4,878.6C1515.5,879.6 1519.2,882.1 1522.6,882.6C1526.0,883.1 1528.7,882.3 1532.8,881.6C1536.8,880.9 1543.3,879.0 1547.0,878.6C1550.7,878.1 1552.4,878.9 1555.1,879.0C1557.8,879.1 1560.5,879.7 1563.2,879.2C1566.0,878.6 1568.7,877.0 1571.4,875.5C1574.1,874.0 1577.1,871.3 1579.5,870.4C1582.0,869.6 1583.6,869.7 1586.1,870.4C1588.6,871.1 1591.5,873.1 1594.2,874.5C1596.9,875.8 1599.3,877.9 1602.4,878.6C1605.4,879.2 1609.1,878.8 1612.5,878.1C1615.9,877.5 1619.6,876.4 1622.7,874.9C1625.7,873.4 1628.1,870.9 1630.8,869.4C1633.5,867.9 1636.2,866.3 1638.9,865.9C1641.7,865.6 1644.4,867.1 1647.1,867.6C1649.8,868.0 1652.5,869.3 1655.2,868.8C1657.9,868.3 1660.3,867.1 1663.3,864.3C1666.4,861.5 1670.5,856.9 1673.5,852.1C1676.6,847.4 1678.9,842.6 1681.6,835.9C1684.3,829.1 1687.4,818.6 1689.8,811.5C1692.1,804.4 1693.8,797.6 1695.9,793.2C1697.9,788.8 1699.9,785.9 1702.0,785.0C1704.0,784.2 1705.7,784.0 1708.1,788.1C1710.4,792.2 1713.8,801.8 1716.2,809.4C1718.6,817.1 1719.9,825.0 1722.3,833.8C1724.7,842.6 1727.7,854.8 1730.4,862.3C1733.1,869.7 1735.5,874.9 1738.6,878.6C1741.6,882.2 1744.7,883.0 1748.7,884.2C1752.8,885.5 1758.9,885.8 1762.9,886.3C1767.0,886.8 1769.7,887.2 1773.1,887.1C1776.5,887.0 1779.9,886.4 1783.3,885.7C1786.7,884.9 1790.0,883.7 1793.4,882.6C1796.8,881.5 1800.2,879.9 1803.6,879.0C1807.0,878.0 1810.4,877.6 1813.8,876.9C1817.2,876.3 1820.2,875.7 1823.9,875.1C1827.7,874.5 1832.7,873.6 1836.1,873.5C1839.5,873.3 1841.2,873.8 1844.3,874.1C1847.3,874.3 1851.4,875.7 1854.4,874.9C1857.5,874.1 1859.8,871.5 1862.5,869.4C1865.3,867.3 1868.3,863.6 1870.7,862.3C1873.1,860.9 1874.4,860.6 1876.8,861.3C1879.1,862.0 1882.5,865.1 1884.9,866.4C1887.3,867.6 1888.6,868.8 1891.0,868.8C1893.4,868.8 1896.4,866.9 1899.1,866.4C1901.8,865.8 1904.6,865.0 1907.3,865.3C1910.0,865.7 1912.4,867.2 1915.4,868.4C1918.4,869.6 1921.8,871.6 1925.6,872.5C1929.3,873.3 1934.4,872.5 1937.8,873.5C1941.1,874.5 1942.8,876.0 1945.9,878.6C1948.9,881.1 1952.7,886.2 1956.1,888.7C1959.4,891.3 1961.8,892.9 1966.2,893.8C1970.6,894.7 1979.8,894.1 1982.5,894.2" fill="none" stroke="#e03c32" stroke-width="2.2" stroke-linejoin="round"/>
<path d="M1181.1,894.0C1190.2,894.0 1220.1,894.1 1236.0,894.0C1251.9,893.9 1266.5,893.6 1276.6,893.4C1286.8,893.2 1290.2,892.8 1297.0,892.8C1303.7,892.8 1310.5,893.2 1317.3,893.4C1324.1,893.6 1327.5,894.1 1337.6,894.2C1347.8,894.3 1368.1,894.3 1378.3,894.2C1388.4,894.1 1393.5,894.2 1398.6,893.8C1403.7,893.4 1405.4,893.6 1408.8,891.8C1412.2,889.9 1415.5,886.2 1418.9,882.6C1422.3,879.1 1426.0,873.4 1429.1,870.4C1432.1,867.4 1434.5,865.8 1437.2,864.7C1439.9,863.6 1441.6,863.6 1445.4,863.9C1449.1,864.3 1454.5,865.7 1459.6,866.8C1464.7,867.8 1470.4,869.1 1475.8,870.0C1481.3,871.0 1487.4,871.4 1492.1,872.5C1496.8,873.5 1500.2,875.0 1504.3,876.5C1508.4,878.0 1512.8,880.3 1516.5,881.6C1520.2,882.9 1522.6,884.1 1526.7,884.2C1530.7,884.4 1536.5,883.1 1540.9,882.6C1545.3,882.2 1548.7,881.6 1553.1,881.6C1557.5,881.6 1563.6,883.5 1567.3,882.6C1571.0,881.8 1572.0,878.8 1575.4,876.5C1578.9,874.2 1585.0,869.7 1588.1,869.0C1591.3,868.3 1591.9,870.7 1594.2,872.5C1596.6,874.2 1599.3,877.6 1602.4,879.6C1605.4,881.5 1609.1,883.2 1612.5,884.2C1615.9,885.3 1619.6,886.4 1622.7,885.7C1625.7,884.9 1628.1,881.0 1630.8,879.6C1633.5,878.1 1636.2,876.8 1638.9,876.9C1641.7,877.1 1644.0,879.0 1647.1,880.6C1650.1,882.2 1653.5,885.7 1657.2,886.7C1661.0,887.6 1665.4,886.2 1669.4,886.3C1673.5,886.3 1677.6,886.8 1681.6,887.1C1685.7,887.4 1689.1,887.8 1693.8,888.3C1698.6,888.8 1704.7,889.5 1710.1,890.1C1715.5,890.8 1720.3,891.7 1726.4,892.4C1732.5,893.0 1739.9,893.7 1746.7,894.0C1753.5,894.3 1760.9,894.3 1767.0,894.4C1773.1,894.5 1777.2,894.4 1783.3,894.4C1789.4,894.4 1798.2,894.5 1803.6,894.4C1809.0,894.3 1811.7,894.6 1815.8,893.8C1819.9,893.0 1824.6,891.3 1828.0,889.7C1831.4,888.1 1833.1,886.0 1836.1,884.2C1839.2,882.5 1843.2,879.7 1846.3,879.2C1849.3,878.6 1851.4,879.9 1854.4,881.0C1857.5,882.1 1861.2,884.4 1864.6,885.7C1868.0,887.0 1870.7,887.7 1874.7,888.7C1878.8,889.7 1883.9,891.3 1889.0,891.8C1894.1,892.3 1899.8,892.2 1905.2,891.8C1910.7,891.4 1916.8,890.0 1921.5,889.3C1926.2,888.6 1929.6,887.5 1933.7,887.7C1937.8,887.9 1941.5,889.7 1945.9,890.7C1950.3,891.8 1954.0,893.2 1960.1,893.8C1966.2,894.4 1978.8,894.3 1982.5,894.4" fill="none" stroke="#3a62b0" stroke-width="2.2" stroke-linejoin="round" stroke-dasharray="29 11.2"/>
<rect x="1181.0" y="713.5" width="802.5" height="192.0" fill="none" stroke="#0d0a0a" stroke-width="2.4"/>
<line x1="1165" y1="894.2" x2="1181.0" y2="894.2" stroke="#4a4242" stroke-width="1.8"/>
<line x1="1165" y1="833.8" x2="1181.0" y2="833.8" stroke="#4a4242" stroke-width="1.8"/>
<line x1="1165" y1="773.3" x2="1181.0" y2="773.3" stroke="#4a4242" stroke-width="1.8"/>
<line x1="1165" y1="712.9" x2="1181.0" y2="712.9" stroke="#4a4242" stroke-width="1.8"/>
<line x1="1181.2" y1="905.5" x2="1181.2" y2="919.5" stroke="#4a4242" stroke-width="1.8"/>
<line x1="1270.4" y1="905.5" x2="1270.4" y2="919.5" stroke="#4a4242" stroke-width="1.8"/>
<line x1="1359.5" y1="905.5" x2="1359.5" y2="919.5" stroke="#4a4242" stroke-width="1.8"/>
<line x1="1448.6" y1="905.5" x2="1448.6" y2="919.5" stroke="#4a4242" stroke-width="1.8"/>
<line x1="1537.8" y1="905.5" x2="1537.8" y2="919.5" stroke="#4a4242" stroke-width="1.8"/>
<line x1="1626.9" y1="905.5" x2="1626.9" y2="919.5" stroke="#4a4242" stroke-width="1.8"/>
<line x1="1716.1" y1="905.5" x2="1716.1" y2="919.5" stroke="#4a4242" stroke-width="1.8"/>
<line x1="1805.2" y1="905.5" x2="1805.2" y2="919.5" stroke="#4a4242" stroke-width="1.8"/>
<line x1="1894.3" y1="905.5" x2="1894.3" y2="919.5" stroke="#4a4242" stroke-width="1.8"/>
<line x1="1983.5" y1="905.5" x2="1983.5" y2="919.5" stroke="#4a4242" stroke-width="1.8"/>
<line x1="1805.3" y1="946.1" x2="1805.3" y2="1133.0" stroke="#a45cb0" stroke-width="2" stroke-dasharray="28.5 11.8"/>
<path d="M1218.7,1120.5C1220.2,1119.6 1224.6,1116.9 1227.9,1114.8C1231.1,1112.7 1234.6,1109.7 1238.0,1107.7C1241.4,1105.7 1244.5,1104.0 1248.2,1102.6C1251.9,1101.3 1256.6,1100.6 1260.4,1099.6C1264.1,1098.6 1267.5,1098.4 1270.5,1096.5C1273.6,1094.7 1276.3,1091.8 1278.7,1088.4C1281.0,1085.0 1282.7,1082.0 1284.8,1076.2C1286.8,1070.4 1288.8,1062.3 1290.9,1053.8C1292.9,1045.4 1294.9,1035.9 1297.0,1025.4C1299.0,1014.9 1301.0,1000.6 1303.1,990.8C1305.1,981.0 1307.5,971.5 1309.2,966.4C1310.9,961.3 1311.9,960.7 1313.2,960.3C1314.6,960.0 1315.9,961.0 1317.3,964.4C1318.6,967.8 1319.8,973.9 1321.4,980.7C1322.9,987.4 1324.7,995.9 1326.4,1005.0C1328.1,1014.2 1329.7,1024.4 1331.5,1035.5C1333.4,1046.7 1335.6,1060.6 1337.6,1072.1C1339.7,1083.6 1341.7,1096.9 1343.7,1104.7C1345.7,1112.4 1347.4,1116.2 1349.8,1118.9C1352.2,1121.6 1353.2,1120.5 1357.9,1120.9C1362.7,1121.3 1368.1,1121.2 1378.3,1121.3C1388.4,1121.4 1405.4,1121.5 1418.9,1121.5C1432.5,1121.6 1446.0,1121.5 1459.6,1121.5C1473.1,1121.5 1486.7,1121.5 1500.2,1121.5C1513.8,1121.5 1530.7,1121.6 1540.9,1121.5C1551.1,1121.4 1552.7,1121.4 1561.2,1120.9C1569.8,1120.5 1584.3,1119.3 1592.2,1118.9C1600.1,1118.4 1603.7,1118.2 1608.5,1118.3C1613.2,1118.3 1615.2,1118.9 1620.7,1119.3C1626.1,1119.7 1634.2,1120.1 1641.0,1120.5C1647.8,1120.9 1654.5,1121.5 1661.3,1121.5C1668.1,1121.5 1674.9,1120.8 1681.6,1120.5C1688.4,1120.2 1695.2,1119.8 1702.0,1119.9C1708.7,1120.0 1715.5,1120.6 1722.3,1120.9C1729.1,1121.2 1735.8,1121.4 1742.6,1121.5C1749.4,1121.6 1752.8,1121.5 1762.9,1121.5C1773.1,1121.5 1793.4,1121.6 1803.6,1121.5C1813.8,1121.4 1817.2,1121.0 1823.9,1120.9C1830.7,1120.8 1837.5,1121.0 1844.3,1120.9C1851.0,1120.8 1857.8,1120.7 1864.6,1120.5C1871.4,1120.3 1879.5,1119.6 1884.9,1119.5C1890.3,1119.4 1892.0,1119.8 1897.1,1119.9C1902.2,1120.0 1909.3,1120.2 1915.4,1120.3C1921.5,1120.4 1928.6,1120.2 1933.7,1120.3C1938.8,1120.4 1940.5,1120.7 1945.9,1120.9C1951.3,1121.1 1960.1,1121.4 1966.2,1121.5C1972.3,1121.6 1979.8,1121.5 1982.5,1121.5" fill="none" stroke="#3a62b0" stroke-width="2.2" stroke-linejoin="round" stroke-dasharray="29 11.2"/>
<path d="M1181.1,1121.5C1186.9,1121.5 1203.1,1121.5 1215.7,1121.3C1228.2,1121.1 1244.5,1120.8 1256.3,1120.5C1268.2,1120.2 1278.7,1119.6 1286.8,1119.3C1294.9,1118.9 1300.0,1118.5 1305.1,1118.5C1310.2,1118.5 1311.9,1118.8 1317.3,1119.3C1322.7,1119.8 1327.5,1120.9 1337.6,1121.3C1347.8,1121.7 1364.7,1121.6 1378.3,1121.5C1391.8,1121.5 1405.4,1121.1 1418.9,1120.9C1432.5,1120.7 1450.4,1120.7 1459.6,1120.5C1468.7,1120.3 1469.7,1120.5 1473.8,1119.9C1477.9,1119.3 1480.9,1118.7 1484.0,1116.8C1487.0,1115.0 1489.4,1111.9 1492.1,1108.7C1494.8,1105.5 1497.5,1100.9 1500.2,1097.5C1502.9,1094.1 1505.0,1091.3 1508.4,1088.4C1511.8,1085.5 1517.2,1083.1 1520.6,1080.3C1524.0,1077.4 1526.0,1074.5 1528.7,1071.1C1531.4,1067.7 1534.5,1062.6 1536.8,1059.9C1539.2,1057.2 1540.9,1054.8 1542.9,1054.8C1545.0,1054.8 1547.0,1057.4 1549.0,1059.9C1551.1,1062.5 1553.1,1068.1 1555.1,1070.1C1557.2,1072.1 1559.2,1073.1 1561.2,1072.1C1563.2,1071.1 1565.3,1068.1 1567.3,1064.0C1569.3,1059.9 1571.4,1052.6 1573.4,1047.7C1575.4,1042.8 1577.1,1038.2 1579.5,1034.5C1582.0,1030.8 1585.3,1029.9 1588.1,1025.4C1590.9,1020.8 1593.9,1013.9 1596.3,1007.1C1598.6,1000.3 1600.3,992.5 1602.4,984.7C1604.4,976.9 1606.3,966.8 1608.5,960.3C1610.7,953.9 1613.2,947.5 1615.6,946.1C1617.9,944.7 1620.5,947.8 1622.7,952.2C1624.9,956.6 1626.8,965.1 1628.8,972.5C1630.8,980.0 1632.9,989.1 1634.9,996.9C1636.9,1004.7 1638.9,1012.2 1641.0,1019.3C1643.0,1026.4 1645.0,1033.2 1647.1,1039.6C1649.1,1046.0 1650.8,1053.3 1653.2,1057.9C1655.5,1062.5 1658.6,1064.2 1661.3,1067.0C1664.0,1069.9 1666.7,1071.6 1669.4,1075.2C1672.2,1078.7 1674.9,1084.3 1677.6,1088.4C1680.3,1092.5 1682.7,1097.5 1685.7,1099.6C1688.8,1101.7 1692.5,1100.8 1695.9,1101.0C1699.3,1101.2 1702.3,1100.4 1706.0,1101.0C1709.8,1101.6 1714.2,1103.4 1718.2,1104.7C1722.3,1105.9 1726.4,1107.9 1730.4,1108.7C1734.5,1109.6 1737.9,1109.9 1742.6,1109.7C1747.4,1109.6 1753.8,1108.1 1758.9,1107.7C1764.0,1107.3 1768.7,1107.4 1773.1,1107.1C1777.5,1106.8 1781.6,1106.0 1785.3,1106.1C1789.0,1106.2 1792.1,1107.3 1795.5,1107.7C1798.9,1108.1 1802.2,1108.6 1805.6,1108.7C1809.0,1108.8 1812.1,1108.6 1815.8,1108.3C1819.5,1108.0 1824.3,1107.1 1828.0,1106.7C1831.7,1106.3 1834.8,1105.9 1838.2,1106.1C1841.5,1106.2 1845.3,1107.4 1848.3,1107.7C1851.4,1108.0 1853.7,1108.9 1856.5,1107.7C1859.2,1106.5 1861.9,1102.7 1864.6,1100.6C1867.3,1098.5 1870.0,1096.0 1872.7,1094.9C1875.4,1093.8 1877.8,1093.4 1880.8,1093.9C1883.9,1094.3 1887.6,1096.4 1891.0,1097.5C1894.4,1098.7 1897.4,1099.7 1901.2,1100.6C1904.9,1101.4 1909.6,1102.5 1913.4,1102.6C1917.1,1102.7 1920.5,1101.3 1923.5,1101.0C1926.6,1100.7 1929.0,1100.4 1931.7,1101.0C1934.4,1101.6 1937.1,1102.7 1939.8,1104.7C1942.5,1106.6 1944.9,1110.3 1947.9,1112.8C1951.0,1115.2 1954.7,1117.8 1958.1,1119.3C1961.5,1120.7 1964.2,1121.1 1968.2,1121.5C1972.3,1121.9 1980.1,1121.5 1982.5,1121.5" fill="none" stroke="#e03c32" stroke-width="2.2" stroke-linejoin="round"/>
<rect x="1181.0" y="941.0" width="802.5" height="192.0" fill="none" stroke="#0d0a0a" stroke-width="2.4"/>
<line x1="1165" y1="1121.2" x2="1181.0" y2="1121.2" stroke="#4a4242" stroke-width="1.8"/>
<line x1="1165" y1="1061.0" x2="1181.0" y2="1061.0" stroke="#4a4242" stroke-width="1.8"/>
<line x1="1165" y1="1000.8" x2="1181.0" y2="1000.8" stroke="#4a4242" stroke-width="1.8"/>
<line x1="1165" y1="940.6" x2="1181.0" y2="940.6" stroke="#4a4242" stroke-width="1.8"/>
<line x1="1181.2" y1="1133.0" x2="1181.2" y2="1147.0" stroke="#4a4242" stroke-width="1.8"/>
<line x1="1270.4" y1="1133.0" x2="1270.4" y2="1147.0" stroke="#4a4242" stroke-width="1.8"/>
<line x1="1359.5" y1="1133.0" x2="1359.5" y2="1147.0" stroke="#4a4242" stroke-width="1.8"/>
<line x1="1448.6" y1="1133.0" x2="1448.6" y2="1147.0" stroke="#4a4242" stroke-width="1.8"/>
<line x1="1537.8" y1="1133.0" x2="1537.8" y2="1147.0" stroke="#4a4242" stroke-width="1.8"/>
<line x1="1626.9" y1="1133.0" x2="1626.9" y2="1147.0" stroke="#4a4242" stroke-width="1.8"/>
<line x1="1716.1" y1="1133.0" x2="1716.1" y2="1147.0" stroke="#4a4242" stroke-width="1.8"/>
<line x1="1805.2" y1="1133.0" x2="1805.2" y2="1147.0" stroke="#4a4242" stroke-width="1.8"/>
<line x1="1894.3" y1="1133.0" x2="1894.3" y2="1147.0" stroke="#4a4242" stroke-width="1.8"/>
<line x1="1983.5" y1="1133.0" x2="1983.5" y2="1147.0" stroke="#4a4242" stroke-width="1.8"/>
<line x1="1334" y1="57.0" x2="1443" y2="57.0" stroke="#5c52a3" stroke-width="2"/>
<line x1="1334" y1="284.2" x2="1443" y2="284.2" stroke="#3a62b0" stroke-width="2" stroke-dasharray="29 11.2"/>
<line x1="1334" y1="330.7" x2="1443" y2="330.7" stroke="#e03c32" stroke-width="2"/>
<line x1="1334" y1="374.7" x2="1443" y2="374.7" stroke="#64b450" stroke-width="2" stroke-dasharray="39 22"/>
<line x1="1334" y1="374.7" x2="1443" y2="374.7" stroke="#cfe4c4" stroke-width="2" stroke-dasharray="0 49.5 2 9.5"/>
<line x1="1334" y1="508.5" x2="1445" y2="508.5" stroke="#3a62b0" stroke-width="2" stroke-dasharray="29 11.2"/>
<line x1="1334" y1="555.3" x2="1443" y2="555.3" stroke="#e03c32" stroke-width="2"/>
<line x1="1334" y1="603.0" x2="1443" y2="603.0" stroke="#64b450" stroke-width="2" stroke-dasharray="39 22"/>
<line x1="1334" y1="603.0" x2="1443" y2="603.0" stroke="#cfe4c4" stroke-width="2" stroke-dasharray="0 49.5 2 9.5"/>
<line x1="1337.5" y1="733.2" x2="1447.5" y2="733.2" stroke="#3a62b0" stroke-width="2" stroke-dasharray="29 11.2"/>
<line x1="1337.5" y1="780.0" x2="1445" y2="780.0" stroke="#e03c32" stroke-width="2"/>
<line x1="1332.5" y1="964.0" x2="1443.5" y2="964.0" stroke="#3a62b0" stroke-width="2" stroke-dasharray="29 11.2"/>
<line x1="1332.5" y1="1011.1" x2="1441" y2="1011.1" stroke="#e03c32" stroke-width="2"/>
<g class="t">
<text transform="translate(115.68,47.00) scale(1.0198,1)" font-size="35.38">4</text>
<text transform="translate(117.14,170.20) scale(1.1575,1)" font-size="33.69">2</text>
<text transform="translate(116.27,294.90) scale(1.0928,1)" font-size="35.08">0</text>
<text transform="translate(117.46,412.90) scale(1.0976,1)" font-size="35.08">2</text>
<text transform="translate(115.90,537.10) scale(1.0174,1)" font-size="34.62">4</text>
<text transform="translate(113.22,655.30) scale(1.0405,1)" font-size="35.54">6</text>
<text transform="translate(112.20,780.50) scale(1.0751,1)" font-size="34.77">8</text>
<text transform="translate(92.81,903.20) scale(1.1164,1)" font-size="34.70">10</text>
<text transform="translate(90.76,1025.60) scale(1.1475,1)" font-size="34.24">12</text>
<text transform="translate(92.55,1144.80) scale(1.0900,1)" font-size="35.15">14</text>
<text transform="translate(136.28,1188.20) scale(1.0748,1)" font-size="35.54" font-style="italic">Γ</text>
<text transform="translate(168.72,1188.20) scale(0.9959,1)" font-size="36.52" font-style="italic">A</text>
<text transform="translate(375.34,1188.10) scale(1.0023,1)" font-size="34.15" font-style="italic">H</text>
<text transform="translate(413.99,1188.10) scale(1.1305,1)" font-size="34.15" font-style="italic">K</text>
<text transform="translate(623.27,1188.10) scale(1.0944,1)" font-size="34.15" font-style="italic">Γ</text>
<text transform="translate(797.98,1188.20) scale(1.0813,1)" font-size="35.54" font-style="italic">M</text>
<text transform="translate(842.72,1188.20) scale(1.1797,1)" font-size="35.54" font-style="italic">L</text>
<text transform="translate(934.57,1188.20) scale(1.0390,1)" font-size="35.54" font-style="italic">H</text>
<text transform="translate(385.66,1248.20) scale(1.2316,1)" font-size="33.54">High symmetry points</text>
<text transform="translate(1484.85,1250.80) scale(1.2030,1)" font-size="34.77">Energy/eV</text>
<text transform="translate(1112.38,109.50) scale(1.1445,1)" font-size="35.15">10</text>
<text transform="translate(1131.93,230.60) scale(1.1007,1)" font-size="35.69">0</text>
<text transform="translate(1133.77,335.40) scale(1.0293,1)" font-size="35.69">4</text>
<text transform="translate(1134.22,459.10) scale(1.1073,1)" font-size="35.69">0</text>
<text transform="translate(1135.01,564.00) scale(0.9684,1)" font-size="35.69">4</text>
<text transform="translate(1134.19,685.00) scale(1.0607,1)" font-size="35.69">0</text>
<text transform="translate(1132.80,788.10) scale(1.1907,1)" font-size="35.69">2</text>
<text transform="translate(1132.88,908.10) scale(1.1340,1)" font-size="35.69">0</text>
<text transform="translate(1131.44,1014.00) scale(1.0598,1)" font-size="35.69">4</text>
<text transform="translate(1132.88,1135.10) scale(1.1340,1)" font-size="35.69">0</text>
<text transform="translate(1169.08,1191.60) scale(1.0945,1)" font-size="34.70">14</text>
<text transform="translate(1261.02,1191.60) scale(1.1155,1)" font-size="34.70">12</text>
<text transform="translate(1348.59,1191.60) scale(1.1230,1)" font-size="34.70">10</text>
<text transform="translate(1450.33,1191.60) scale(1.1151,1)" font-size="35.23">8</text>
<text transform="translate(1540.12,1191.60) scale(1.0496,1)" font-size="35.23">6</text>
<text transform="translate(1629.37,1191.60) scale(1.0305,1)" font-size="35.23">4</text>
<text transform="translate(1717.03,1191.60) scale(1.1141,1)" font-size="35.23">2</text>
<text transform="translate(1797.17,1191.60) scale(1.0881,1)" font-size="35.23">0</text>
<text transform="translate(1886.44,1191.60) scale(1.1070,1)" font-size="35.23">2</text>
<text transform="translate(1971.44,1191.60) scale(1.0737,1)" font-size="35.23">4</text>
<text transform="translate(1457.06,68.00) scale(1.3368,1)" font-size="33.04">total</text>
<text transform="translate(1453.81,295.80) scale(1.1576,1)" font-size="34.31">Mo 5s</text>
<text transform="translate(1453.69,339.10) scale(1.1930,1)" font-size="33.69">Mo 5p</text>
<text transform="translate(1454.52,384.70) scale(1.2253,1)" font-size="32.17">Mo 4d</text>
<text transform="translate(1460.26,519.80) scale(1.2127,1)" font-size="34.77">Ti 4s</text>
<text transform="translate(1460.84,564.00) scale(1.2716,1)" font-size="33.85">Ti 3p</text>
<text transform="translate(1460.85,610.30) scale(1.3065,1)" font-size="32.46">Ti 3d</text>
<text transform="translate(1461.20,745.40) scale(1.1767,1)" font-size="33.91">Al 3s</text>
<text transform="translate(1461.19,792.20) scale(1.1983,1)" font-size="33.91">Al 3p</text>
<text transform="translate(1459.95,973.50) scale(1.1996,1)" font-size="34.31">C 2s</text>
<text transform="translate(1461.92,1021.30) scale(1.1670,1)" font-size="36.00">C 2p</text>
<text transform="translate(87.33,415.59) scale(1.3955,1)" font-size="34.00">−</text>
<text transform="translate(85.03,539.99) scale(1.3955,1)" font-size="34.00">−</text>
<text transform="translate(83.13,657.29) scale(1.3955,1)" font-size="34.00">−</text>
<text transform="translate(82.54,782.79) scale(1.3892,1)" font-size="34.00">−</text>
<text transform="translate(63.87,905.69) scale(1.3705,1)" font-size="34.00">−</text>
<text transform="translate(61.55,1027.59) scale(1.3830,1)" font-size="34.00">−</text>
<text transform="translate(63.35,1146.99) scale(1.3830,1)" font-size="34.00">−</text>
<text transform="translate(1139.46,1193.59) scale(1.3767,1)" font-size="34.00">−</text>
<text transform="translate(1231.46,1193.59) scale(1.3767,1)" font-size="34.00">−</text>
<text transform="translate(1319.35,1193.59) scale(1.3830,1)" font-size="34.00">−</text>
<text transform="translate(1420.56,1193.59) scale(1.3767,1)" font-size="34.00">−</text>
<text transform="translate(1509.53,1193.59) scale(1.3955,1)" font-size="34.00">−</text>
<text transform="translate(1598.72,1193.59) scale(1.4018,1)" font-size="34.00">−</text>
<text transform="translate(1688.03,1193.59) scale(1.3955,1)" font-size="34.00">−</text>
<text transform="translate(27.50,666.46) rotate(-90) scale(1.2137,1)" font-size="34.62">Energy/eV</text>
</g>
</svg>
</body></html>
